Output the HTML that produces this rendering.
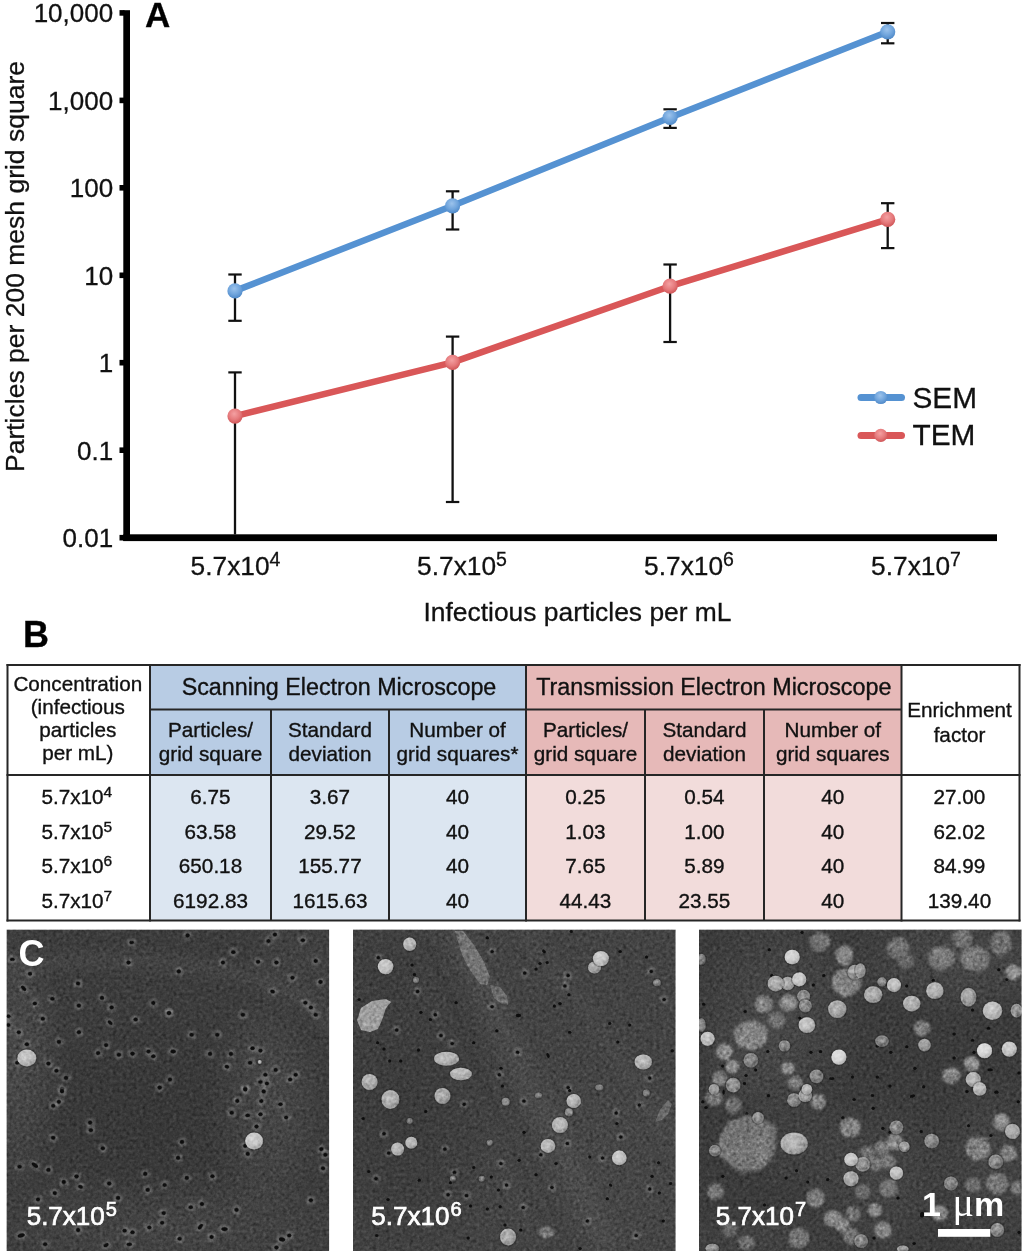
<!DOCTYPE html>
<html><head><meta charset="utf-8"><title>Figure</title>
<style>
html,body{margin:0;padding:0;background:#fff;}
body{width:1024px;height:1256px;overflow:hidden;position:relative;}
svg{position:absolute;left:0;top:0;}
#chart text{stroke:#111;stroke-width:0.3px;}
#table text{stroke:#111;stroke-width:0.35px;}
</style></head><body>
<svg width="1024" height="1256" viewBox="0 0 1024 1256" font-family="Liberation Sans, Arial, sans-serif">
<g id="chart">
<defs>
<radialGradient id="gb" cx="0.45" cy="0.35" r="0.65"><stop offset="0" stop-color="#9cc3ec"/><stop offset="0.6" stop-color="#6fa4dc"/><stop offset="1" stop-color="#4f89c8"/></radialGradient>
<radialGradient id="gr" cx="0.45" cy="0.35" r="0.65"><stop offset="0" stop-color="#f4a0a2"/><stop offset="0.6" stop-color="#e5797b"/><stop offset="1" stop-color="#cf5557"/></radialGradient>
</defs>
<rect x="123.3" y="10.2" width="6.7" height="530.8" fill="#000"/>
<rect x="123.3" y="534.3" width="873.7" height="6.8" fill="#000"/>
<rect x="119.5" y="10.1" width="5" height="5.6" fill="#000"/>
<rect x="119.5" y="97.6" width="5" height="5.6" fill="#000"/>
<rect x="119.5" y="185.0" width="5" height="5.6" fill="#000"/>
<rect x="119.5" y="272.5" width="5" height="5.6" fill="#000"/>
<rect x="119.5" y="359.9" width="5" height="5.6" fill="#000"/>
<rect x="119.5" y="447.4" width="5" height="5.6" fill="#000"/>
<rect x="119.5" y="534.9" width="5" height="5.6" fill="#000"/>
<text x="113.2" y="22.2" text-anchor="end" font-size="26" fill="#111">10,000</text>
<text x="113.2" y="109.7" text-anchor="end" font-size="26" fill="#111">1,000</text>
<text x="113.2" y="197.1" text-anchor="end" font-size="26" fill="#111">100</text>
<text x="113.2" y="284.6" text-anchor="end" font-size="26" fill="#111">10</text>
<text x="113.2" y="372.0" text-anchor="end" font-size="26" fill="#111">1</text>
<text x="113.2" y="459.5" text-anchor="end" font-size="26" fill="#111">0.1</text>
<text x="113.2" y="547.0" text-anchor="end" font-size="26" fill="#111">0.01</text>
<text x="235.5" y="574.6" text-anchor="middle" font-size="26.3" fill="#111">5.7x10<tspan font-size="19.5" dy="-8.6">4</tspan></text>
<text x="462.0" y="574.6" text-anchor="middle" font-size="26.3" fill="#111">5.7x10<tspan font-size="19.5" dy="-8.6">5</tspan></text>
<text x="689.0" y="574.6" text-anchor="middle" font-size="26.3" fill="#111">5.7x10<tspan font-size="19.5" dy="-8.6">6</tspan></text>
<text x="916.0" y="574.6" text-anchor="middle" font-size="26.3" fill="#111">5.7x10<tspan font-size="19.5" dy="-8.6">7</tspan></text>
<text x="577.5" y="621" text-anchor="middle" font-size="26.4" fill="#111">Infectious particles per mL</text>
<text transform="translate(24,266.5) rotate(-90)" text-anchor="middle" font-size="26.5" fill="#111">Particles per 200 mesh grid square</text>
<text x="145" y="27" font-size="35" font-weight="bold" fill="#000">A</text>
<path d="M235.0,416.1 L452.6,362.4 L670.1,286.2 L887.7,219.4" fill="none" stroke="#d95758" stroke-width="6.5" stroke-linejoin="round" stroke-linecap="round"/>
<line x1="235.0" y1="372.4" x2="235.0" y2="534.5" stroke="#111" stroke-width="2.3"/>
<line x1="228.3" y1="372.4" x2="241.7" y2="372.4" stroke="#111" stroke-width="2.2"/>
<line x1="452.6" y1="336.6" x2="452.6" y2="502.0" stroke="#111" stroke-width="2.3"/>
<line x1="445.9" y1="336.6" x2="459.3" y2="336.6" stroke="#111" stroke-width="2.2"/>
<line x1="445.9" y1="502.0" x2="459.3" y2="502.0" stroke="#111" stroke-width="2.2"/>
<line x1="670.1" y1="264.5" x2="670.1" y2="342.0" stroke="#111" stroke-width="2.3"/>
<line x1="663.4" y1="264.5" x2="676.8" y2="264.5" stroke="#111" stroke-width="2.2"/>
<line x1="663.4" y1="342.0" x2="676.8" y2="342.0" stroke="#111" stroke-width="2.2"/>
<line x1="887.7" y1="203.2" x2="887.7" y2="248.1" stroke="#111" stroke-width="2.3"/>
<line x1="881.0" y1="203.2" x2="894.4" y2="203.2" stroke="#111" stroke-width="2.2"/>
<line x1="881.0" y1="248.1" x2="894.4" y2="248.1" stroke="#111" stroke-width="2.2"/>
<circle cx="235.0" cy="416.1" r="7.6" fill="url(#gr)"/>
<circle cx="452.6" cy="362.4" r="7.6" fill="url(#gr)"/>
<circle cx="670.1" cy="286.2" r="7.6" fill="url(#gr)"/>
<circle cx="887.7" cy="219.4" r="7.6" fill="url(#gr)"/>
<path d="M235.0,290.9 L452.6,205.8 L670.1,117.5 L887.7,31.8" fill="none" stroke="#5592d2" stroke-width="6.5" stroke-linejoin="round" stroke-linecap="round"/>
<line x1="235.0" y1="274.5" x2="235.0" y2="320.8" stroke="#111" stroke-width="2.3"/>
<line x1="228.3" y1="274.5" x2="241.7" y2="274.5" stroke="#111" stroke-width="2.2"/>
<line x1="228.3" y1="320.8" x2="241.7" y2="320.8" stroke="#111" stroke-width="2.2"/>
<line x1="452.6" y1="191.3" x2="452.6" y2="229.5" stroke="#111" stroke-width="2.3"/>
<line x1="445.9" y1="191.3" x2="459.3" y2="191.3" stroke="#111" stroke-width="2.2"/>
<line x1="445.9" y1="229.5" x2="459.3" y2="229.5" stroke="#111" stroke-width="2.2"/>
<line x1="670.1" y1="109.3" x2="670.1" y2="127.9" stroke="#111" stroke-width="2.3"/>
<line x1="663.4" y1="109.3" x2="676.8" y2="109.3" stroke="#111" stroke-width="2.2"/>
<line x1="663.4" y1="127.9" x2="676.8" y2="127.9" stroke="#111" stroke-width="2.2"/>
<line x1="887.7" y1="23.0" x2="887.7" y2="43.3" stroke="#111" stroke-width="2.3"/>
<line x1="881.0" y1="23.0" x2="894.4" y2="23.0" stroke="#111" stroke-width="2.2"/>
<line x1="881.0" y1="43.3" x2="894.4" y2="43.3" stroke="#111" stroke-width="2.2"/>
<circle cx="235.0" cy="290.9" r="7.6" fill="url(#gb)"/>
<circle cx="452.6" cy="205.8" r="7.6" fill="url(#gb)"/>
<circle cx="670.1" cy="117.5" r="7.6" fill="url(#gb)"/>
<circle cx="887.7" cy="31.8" r="7.6" fill="url(#gb)"/>
<line x1="861" y1="397.5" x2="901.5" y2="397.5" stroke="#5592d2" stroke-width="7" stroke-linecap="round"/>
<circle cx="880.8" cy="397.5" r="6.6" fill="url(#gb)"/>
<text x="912.5" y="407.5" font-size="29.8" fill="#111">SEM</text>
<line x1="861" y1="435.4" x2="901.5" y2="435.4" stroke="#d95758" stroke-width="7" stroke-linecap="round"/>
<circle cx="880.8" cy="435.4" r="6.6" fill="url(#gr)"/>
<text x="912.5" y="445.4" font-size="29.8" fill="#111">TEM</text>
</g>
<g id="table">
<text x="23" y="647" font-size="36" font-weight="bold" fill="#000">B</text>
<rect x="7.5" y="665" width="1012" height="255.5" fill="#fff"/>
<rect x="150" y="665" width="376" height="110" fill="#b8cce4"/>
<rect x="150" y="775" width="376" height="145.5" fill="#dce6f1"/>
<rect x="526" y="665" width="375.5" height="110" fill="#e6b9b8"/>
<rect x="526" y="775" width="375.5" height="145.5" fill="#f2dcdb"/>
<line x1="6.5" y1="665" x2="1020.5" y2="665" stroke="#262626" stroke-width="2"/>
<line x1="150" y1="709.5" x2="901.5" y2="709.5" stroke="#262626" stroke-width="2"/>
<line x1="6.5" y1="775" x2="1020.5" y2="775" stroke="#262626" stroke-width="2"/>
<line x1="6.5" y1="920.5" x2="1020.5" y2="920.5" stroke="#262626" stroke-width="2"/>
<line x1="7.5" y1="664" x2="7.5" y2="921.5" stroke="#262626" stroke-width="2"/>
<line x1="150" y1="664" x2="150" y2="921.5" stroke="#262626" stroke-width="2"/>
<line x1="271" y1="709.5" x2="271" y2="920.5" stroke="#262626" stroke-width="2"/>
<line x1="389" y1="709.5" x2="389" y2="920.5" stroke="#262626" stroke-width="2"/>
<line x1="526" y1="664" x2="526" y2="921.5" stroke="#262626" stroke-width="2"/>
<line x1="645" y1="709.5" x2="645" y2="920.5" stroke="#262626" stroke-width="2"/>
<line x1="764" y1="709.5" x2="764" y2="920.5" stroke="#262626" stroke-width="2"/>
<line x1="901.5" y1="664" x2="901.5" y2="921.5" stroke="#262626" stroke-width="2"/>
<line x1="1019.5" y1="664" x2="1019.5" y2="921.5" stroke="#262626" stroke-width="2"/>
<text x="77.8" y="690.7" text-anchor="middle" font-size="20.7" fill="#111">Concentration</text>
<text x="77.8" y="713.9" text-anchor="middle" font-size="20.7" fill="#111">(infectious</text>
<text x="77.8" y="737.1" text-anchor="middle" font-size="20.7" fill="#111">particles</text>
<text x="77.8" y="760.3" text-anchor="middle" font-size="20.7" fill="#111">per mL)</text>
<text x="339.0" y="695.2" text-anchor="middle" font-size="23.3" fill="#111">Scanning Electron Microscope</text>
<text x="713.8" y="695.2" text-anchor="middle" font-size="23.3" fill="#111">Transmission Electron Microscope</text>
<text x="210.5" y="736.6" text-anchor="middle" font-size="20.7" fill="#111">Particles/</text>
<text x="210.5" y="760.8" text-anchor="middle" font-size="20.7" fill="#111">grid square</text>
<text x="330.0" y="736.6" text-anchor="middle" font-size="20.7" fill="#111">Standard</text>
<text x="330.0" y="760.8" text-anchor="middle" font-size="20.7" fill="#111">deviation</text>
<text x="457.5" y="736.6" text-anchor="middle" font-size="20.7" fill="#111">Number of</text>
<text x="457.5" y="760.8" text-anchor="middle" font-size="20.7" fill="#111">grid squares*</text>
<text x="585.5" y="736.6" text-anchor="middle" font-size="20.7" fill="#111">Particles/</text>
<text x="585.5" y="760.8" text-anchor="middle" font-size="20.7" fill="#111">grid square</text>
<text x="704.5" y="736.6" text-anchor="middle" font-size="20.7" fill="#111">Standard</text>
<text x="704.5" y="760.8" text-anchor="middle" font-size="20.7" fill="#111">deviation</text>
<text x="832.8" y="736.6" text-anchor="middle" font-size="20.7" fill="#111">Number of</text>
<text x="832.8" y="760.8" text-anchor="middle" font-size="20.7" fill="#111">grid squares</text>
<text x="959.5" y="716.9" text-anchor="middle" font-size="20.7" fill="#111">Enrichment</text>
<text x="959.5" y="741.5" text-anchor="middle" font-size="20.7" fill="#111">factor</text>
<text x="76.8" y="804.3" text-anchor="middle" font-size="20.7" fill="#111">5.7x10<tspan font-size="15.5" dy="-7.5">4</tspan></text>
<text x="210.5" y="804.3" text-anchor="middle" font-size="20.7" fill="#111">6.75</text>
<text x="330.0" y="804.3" text-anchor="middle" font-size="20.7" fill="#111">3.67</text>
<text x="457.5" y="804.3" text-anchor="middle" font-size="20.7" fill="#111">40</text>
<text x="585.5" y="804.3" text-anchor="middle" font-size="20.7" fill="#111">0.25</text>
<text x="704.5" y="804.3" text-anchor="middle" font-size="20.7" fill="#111">0.54</text>
<text x="832.8" y="804.3" text-anchor="middle" font-size="20.7" fill="#111">40</text>
<text x="959.5" y="804.3" text-anchor="middle" font-size="20.7" fill="#111">27.00</text>
<text x="76.8" y="839" text-anchor="middle" font-size="20.7" fill="#111">5.7x10<tspan font-size="15.5" dy="-7.5">5</tspan></text>
<text x="210.5" y="839.0" text-anchor="middle" font-size="20.7" fill="#111">63.58</text>
<text x="330.0" y="839.0" text-anchor="middle" font-size="20.7" fill="#111">29.52</text>
<text x="457.5" y="839.0" text-anchor="middle" font-size="20.7" fill="#111">40</text>
<text x="585.5" y="839.0" text-anchor="middle" font-size="20.7" fill="#111">1.03</text>
<text x="704.5" y="839.0" text-anchor="middle" font-size="20.7" fill="#111">1.00</text>
<text x="832.8" y="839.0" text-anchor="middle" font-size="20.7" fill="#111">40</text>
<text x="959.5" y="839.0" text-anchor="middle" font-size="20.7" fill="#111">62.02</text>
<text x="76.8" y="873.1" text-anchor="middle" font-size="20.7" fill="#111">5.7x10<tspan font-size="15.5" dy="-7.5">6</tspan></text>
<text x="210.5" y="873.1" text-anchor="middle" font-size="20.7" fill="#111">650.18</text>
<text x="330.0" y="873.1" text-anchor="middle" font-size="20.7" fill="#111">155.77</text>
<text x="457.5" y="873.1" text-anchor="middle" font-size="20.7" fill="#111">40</text>
<text x="585.5" y="873.1" text-anchor="middle" font-size="20.7" fill="#111">7.65</text>
<text x="704.5" y="873.1" text-anchor="middle" font-size="20.7" fill="#111">5.89</text>
<text x="832.8" y="873.1" text-anchor="middle" font-size="20.7" fill="#111">40</text>
<text x="959.5" y="873.1" text-anchor="middle" font-size="20.7" fill="#111">84.99</text>
<text x="76.8" y="908" text-anchor="middle" font-size="20.7" fill="#111">5.7x10<tspan font-size="15.5" dy="-7.5">7</tspan></text>
<text x="210.5" y="908.0" text-anchor="middle" font-size="20.7" fill="#111">6192.83</text>
<text x="330.0" y="908.0" text-anchor="middle" font-size="20.7" fill="#111">1615.63</text>
<text x="457.5" y="908.0" text-anchor="middle" font-size="20.7" fill="#111">40</text>
<text x="585.5" y="908.0" text-anchor="middle" font-size="20.7" fill="#111">44.43</text>
<text x="704.5" y="908.0" text-anchor="middle" font-size="20.7" fill="#111">23.55</text>
<text x="832.8" y="908.0" text-anchor="middle" font-size="20.7" fill="#111">40</text>
<text x="959.5" y="908.0" text-anchor="middle" font-size="20.7" fill="#111">139.40</text>
</g>
<g id="images">
<defs>
<clipPath id="cp0"><rect x="6.5" y="929.5" width="322.7" height="321.5"/></clipPath>
<clipPath id="cp1"><rect x="353" y="929.5" width="322.7" height="321.5"/></clipPath>
<clipPath id="cp2"><rect x="699" y="929.5" width="322.7" height="321.5"/></clipPath>
<filter id="bl30" x="-50%" y="-50%" width="200%" height="200%"><feGaussianBlur stdDeviation="28"/></filter>
<filter id="bl1" x="-30%" y="-30%" width="160%" height="160%"><feGaussianBlur stdDeviation="0.55"/></filter>
<filter id="bl8" x="-20%" y="-20%" width="140%" height="140%"><feGaussianBlur stdDeviation="7"/></filter>
<filter id="bl12" x="-30%" y="-30%" width="160%" height="160%"><feGaussianBlur stdDeviation="1.1"/></filter>
<filter id="bl05" x="-50%" y="-50%" width="200%" height="200%"><feGaussianBlur stdDeviation="0.55"/></filter>
<filter id="noise" x="0" y="0" width="100%" height="100%" color-interpolation-filters="sRGB"><feTurbulence type="fractalNoise" baseFrequency="0.3" numOctaves="2" seed="7"/><feGaussianBlur stdDeviation="0.45"/><feColorMatrix type="matrix" values="0.55 0.55 0.55 0 -0.325  0.55 0.55 0.55 0 -0.325  0.55 0.55 0.55 0 -0.325  0 0 0 0 1"/></filter>
<radialGradient id="phl" cx="0.42" cy="0.38" r="0.6"><stop offset="0" stop-color="#fff" stop-opacity="0.28"/><stop offset="0.6" stop-color="#fff" stop-opacity="0.08"/><stop offset="1" stop-color="#000" stop-opacity="0.18"/></radialGradient>
<radialGradient id="halo"><stop offset="0.25" stop-color="#9a9a9a" stop-opacity="0.0"/><stop offset="0.5" stop-color="#a0a0a0" stop-opacity="0.32"/><stop offset="1" stop-color="#a0a0a0" stop-opacity="0"/></radialGradient>
</defs>
<g clip-path="url(#cp0)">
<rect x="6.5" y="929.5" width="322.7" height="321.5" fill="#3c3c3c"/>
<radialGradient id="tg0_0"><stop offset="0" stop-color="#5a5a5a" stop-opacity="0.45"/><stop offset="0.55" stop-color="#5a5a5a" stop-opacity="0.27"/><stop offset="1" stop-color="#5a5a5a" stop-opacity="0"/></radialGradient>
<ellipse cx="18" cy="1060" rx="45.0" ry="135.0" fill="url(#tg0_0)"/>
<radialGradient id="tg0_1"><stop offset="0" stop-color="#5a5a5a" stop-opacity="0.4"/><stop offset="0.55" stop-color="#5a5a5a" stop-opacity="0.24"/><stop offset="1" stop-color="#5a5a5a" stop-opacity="0"/></radialGradient>
<ellipse cx="265" cy="1105" rx="60.0" ry="112.5" fill="url(#tg0_1)"/>
<radialGradient id="tg0_2"><stop offset="0" stop-color="#4c4c4c" stop-opacity="0.5"/><stop offset="0.55" stop-color="#4c4c4c" stop-opacity="0.30"/><stop offset="1" stop-color="#4c4c4c" stop-opacity="0"/></radialGradient>
<ellipse cx="170" cy="1225" rx="225.0" ry="52.5" fill="url(#tg0_2)"/>
<radialGradient id="tg0_3"><stop offset="0" stop-color="#4a4a4a" stop-opacity="0.4"/><stop offset="0.55" stop-color="#4a4a4a" stop-opacity="0.24"/><stop offset="1" stop-color="#4a4a4a" stop-opacity="0"/></radialGradient>
<ellipse cx="300" cy="960" rx="60.0" ry="60.0" fill="url(#tg0_3)"/>
<radialGradient id="tg0_4"><stop offset="0" stop-color="#2c2c2c" stop-opacity="0.3"/><stop offset="0.55" stop-color="#2c2c2c" stop-opacity="0.18"/><stop offset="1" stop-color="#2c2c2c" stop-opacity="0"/></radialGradient>
<ellipse cx="150" cy="1115" rx="142.5" ry="112.5" fill="url(#tg0_4)"/>
<g filter="url(#bl8)">
<path d="M 6,968 C 80,955 170,958 240,975 S 320,1010 330,1030" fill="none" stroke="#5a5a5a" stroke-width="14" stroke-opacity="0.3"/>
</g>
<g filter="url(#bl05)">
<ellipse cx="131.7" cy="942.6" rx="6.5" ry="5.5" fill="url(#halo)" transform="rotate(0 131.7 942.6)"/>
<ellipse cx="131.7" cy="942.6" rx="2.2" ry="1.4" fill="#0a0a0a" transform="rotate(0 131.7 942.6)"/>
<ellipse cx="12.4" cy="959.4" rx="6.5" ry="5.5" fill="url(#halo)" transform="rotate(0 12.4 959.4)"/>
<ellipse cx="12.4" cy="959.4" rx="2.2" ry="1.4" fill="#0a0a0a" transform="rotate(0 12.4 959.4)"/>
<ellipse cx="128.5" cy="962.6" rx="6.2" ry="6.0" fill="url(#halo)" transform="rotate(0 128.5 962.6)"/>
<ellipse cx="128.5" cy="962.6" rx="2.0" ry="1.8" fill="#0a0a0a" transform="rotate(0 128.5 962.6)"/>
<ellipse cx="30" cy="973.8" rx="6.2" ry="6.0" fill="url(#halo)" transform="rotate(0 30 973.8)"/>
<ellipse cx="30" cy="973.8" rx="2.0" ry="1.8" fill="#0a0a0a" transform="rotate(0 30 973.8)"/>
<ellipse cx="23.6" cy="988.3" rx="7.5" ry="5.8" fill="url(#halo)" transform="rotate(45 23.6 988.3)"/>
<ellipse cx="23.6" cy="988.3" rx="3.1" ry="1.6" fill="#0a0a0a" transform="rotate(45 23.6 988.3)"/>
<ellipse cx="78" cy="983.5" rx="6.2" ry="6.0" fill="url(#halo)" transform="rotate(0 78 983.5)"/>
<ellipse cx="78" cy="983.5" rx="2.0" ry="1.8" fill="#0a0a0a" transform="rotate(0 78 983.5)"/>
<ellipse cx="52.4" cy="998.7" rx="6.2" ry="6.0" fill="url(#halo)" transform="rotate(0 52.4 998.7)"/>
<ellipse cx="52.4" cy="998.7" rx="2.0" ry="1.8" fill="#0a0a0a" transform="rotate(0 52.4 998.7)"/>
<ellipse cx="102" cy="997.9" rx="6.2" ry="6.0" fill="url(#halo)" transform="rotate(0 102 997.9)"/>
<ellipse cx="102" cy="997.9" rx="2.0" ry="1.8" fill="#0a0a0a" transform="rotate(0 102 997.9)"/>
<ellipse cx="34.8" cy="1003.5" rx="6.2" ry="6.0" fill="url(#halo)" transform="rotate(0 34.8 1003.5)"/>
<ellipse cx="34.8" cy="1003.5" rx="2.0" ry="1.8" fill="#0a0a0a" transform="rotate(0 34.8 1003.5)"/>
<ellipse cx="78.9" cy="1005.6" rx="6.2" ry="6.0" fill="url(#halo)" transform="rotate(0 78.9 1005.6)"/>
<ellipse cx="78.9" cy="1005.6" rx="2.0" ry="1.8" fill="#0a0a0a" transform="rotate(0 78.9 1005.6)"/>
<ellipse cx="111.7" cy="1007.5" rx="6.2" ry="6.0" fill="url(#halo)" transform="rotate(0 111.7 1007.5)"/>
<ellipse cx="111.7" cy="1007.5" rx="2.0" ry="1.8" fill="#0a0a0a" transform="rotate(0 111.7 1007.5)"/>
<ellipse cx="153.3" cy="1003" rx="6.2" ry="6.0" fill="url(#halo)" transform="rotate(0 153.3 1003)"/>
<ellipse cx="153.3" cy="1003" rx="2.0" ry="1.8" fill="#0a0a0a" transform="rotate(0 153.3 1003)"/>
<ellipse cx="8.4" cy="1016.3" rx="6.2" ry="6.0" fill="url(#halo)" transform="rotate(0 8.4 1016.3)"/>
<ellipse cx="8.4" cy="1016.3" rx="2.0" ry="1.8" fill="#0a0a0a" transform="rotate(0 8.4 1016.3)"/>
<ellipse cx="42.8" cy="1018.7" rx="6.2" ry="6.0" fill="url(#halo)" transform="rotate(0 42.8 1018.7)"/>
<ellipse cx="42.8" cy="1018.7" rx="2.0" ry="1.8" fill="#0a0a0a" transform="rotate(0 42.8 1018.7)"/>
<ellipse cx="110.1" cy="1022.7" rx="7.0" ry="5.5" fill="url(#halo)" transform="rotate(40 110.1 1022.7)"/>
<ellipse cx="110.1" cy="1022.7" rx="2.7" ry="1.4" fill="#0a0a0a" transform="rotate(40 110.1 1022.7)"/>
<ellipse cx="135.7" cy="1019.5" rx="6.2" ry="6.0" fill="url(#halo)" transform="rotate(0 135.7 1019.5)"/>
<ellipse cx="135.7" cy="1019.5" rx="2.0" ry="1.8" fill="#0a0a0a" transform="rotate(0 135.7 1019.5)"/>
<ellipse cx="168.5" cy="1013" rx="6.2" ry="6.0" fill="url(#halo)" transform="rotate(0 168.5 1013)"/>
<ellipse cx="168.5" cy="1013" rx="2.0" ry="1.8" fill="#0a0a0a" transform="rotate(0 168.5 1013)"/>
<ellipse cx="8.4" cy="1025.1" rx="6.2" ry="6.0" fill="url(#halo)" transform="rotate(0 8.4 1025.1)"/>
<ellipse cx="8.4" cy="1025.1" rx="2.0" ry="1.8" fill="#0a0a0a" transform="rotate(0 8.4 1025.1)"/>
<ellipse cx="18.8" cy="1032.3" rx="6.2" ry="6.0" fill="url(#halo)" transform="rotate(0 18.8 1032.3)"/>
<ellipse cx="18.8" cy="1032.3" rx="2.0" ry="1.8" fill="#0a0a0a" transform="rotate(0 18.8 1032.3)"/>
<ellipse cx="78.9" cy="1032.3" rx="6.2" ry="6.0" fill="url(#halo)" transform="rotate(0 78.9 1032.3)"/>
<ellipse cx="78.9" cy="1032.3" rx="2.0" ry="1.8" fill="#0a0a0a" transform="rotate(0 78.9 1032.3)"/>
<ellipse cx="58.9" cy="1041.9" rx="6.2" ry="6.0" fill="url(#halo)" transform="rotate(0 58.9 1041.9)"/>
<ellipse cx="58.9" cy="1041.9" rx="2.0" ry="1.8" fill="#0a0a0a" transform="rotate(0 58.9 1041.9)"/>
<ellipse cx="26.8" cy="1044.3" rx="6.2" ry="6.0" fill="url(#halo)" transform="rotate(0 26.8 1044.3)"/>
<ellipse cx="26.8" cy="1044.3" rx="2.0" ry="1.8" fill="#0a0a0a" transform="rotate(0 26.8 1044.3)"/>
<ellipse cx="106.1" cy="1045.1" rx="6.2" ry="6.0" fill="url(#halo)" transform="rotate(0 106.1 1045.1)"/>
<ellipse cx="106.1" cy="1045.1" rx="2.0" ry="1.8" fill="#0a0a0a" transform="rotate(0 106.1 1045.1)"/>
<ellipse cx="98.1" cy="1053.1" rx="6.2" ry="6.0" fill="url(#halo)" transform="rotate(0 98.1 1053.1)"/>
<ellipse cx="98.1" cy="1053.1" rx="2.0" ry="1.8" fill="#0a0a0a" transform="rotate(0 98.1 1053.1)"/>
<ellipse cx="118.9" cy="1054.7" rx="6.2" ry="6.0" fill="url(#halo)" transform="rotate(0 118.9 1054.7)"/>
<ellipse cx="118.9" cy="1054.7" rx="2.0" ry="1.8" fill="#0a0a0a" transform="rotate(0 118.9 1054.7)"/>
<ellipse cx="132.5" cy="1053.6" rx="6.2" ry="6.0" fill="url(#halo)" transform="rotate(0 132.5 1053.6)"/>
<ellipse cx="132.5" cy="1053.6" rx="2.0" ry="1.8" fill="#0a0a0a" transform="rotate(0 132.5 1053.6)"/>
<ellipse cx="148.5" cy="1051.5" rx="6.2" ry="6.0" fill="url(#halo)" transform="rotate(0 148.5 1051.5)"/>
<ellipse cx="148.5" cy="1051.5" rx="2.0" ry="1.8" fill="#0a0a0a" transform="rotate(0 148.5 1051.5)"/>
<ellipse cx="153.3" cy="1056.3" rx="6.2" ry="6.0" fill="url(#halo)" transform="rotate(0 153.3 1056.3)"/>
<ellipse cx="153.3" cy="1056.3" rx="2.0" ry="1.8" fill="#0a0a0a" transform="rotate(0 153.3 1056.3)"/>
<ellipse cx="48.4" cy="1063.5" rx="6.2" ry="6.0" fill="url(#halo)" transform="rotate(0 48.4 1063.5)"/>
<ellipse cx="48.4" cy="1063.5" rx="2.0" ry="1.8" fill="#0a0a0a" transform="rotate(0 48.4 1063.5)"/>
<ellipse cx="17.2" cy="1062.7" rx="6.2" ry="6.0" fill="url(#halo)" transform="rotate(0 17.2 1062.7)"/>
<ellipse cx="17.2" cy="1062.7" rx="2.0" ry="1.8" fill="#0a0a0a" transform="rotate(0 17.2 1062.7)"/>
<ellipse cx="56.4" cy="1070.7" rx="6.2" ry="6.0" fill="url(#halo)" transform="rotate(0 56.4 1070.7)"/>
<ellipse cx="56.4" cy="1070.7" rx="2.0" ry="1.8" fill="#0a0a0a" transform="rotate(0 56.4 1070.7)"/>
<ellipse cx="66" cy="1077.9" rx="6.2" ry="6.0" fill="url(#halo)" transform="rotate(0 66 1077.9)"/>
<ellipse cx="66" cy="1077.9" rx="2.0" ry="1.8" fill="#0a0a0a" transform="rotate(0 66 1077.9)"/>
<ellipse cx="159.7" cy="1087.6" rx="6.2" ry="6.0" fill="url(#halo)" transform="rotate(0 159.7 1087.6)"/>
<ellipse cx="159.7" cy="1087.6" rx="2.0" ry="1.8" fill="#0a0a0a" transform="rotate(0 159.7 1087.6)"/>
<ellipse cx="62" cy="1089" rx="6.2" ry="6.0" fill="url(#halo)" transform="rotate(0 62 1089)"/>
<ellipse cx="62" cy="1089" rx="2.0" ry="1.8" fill="#0a0a0a" transform="rotate(0 62 1089)"/>
<ellipse cx="187.6" cy="935.4" rx="6.2" ry="6.0" fill="url(#halo)" transform="rotate(0 187.6 935.4)"/>
<ellipse cx="187.6" cy="935.4" rx="2.0" ry="1.8" fill="#0a0a0a" transform="rotate(0 187.6 935.4)"/>
<ellipse cx="274.9" cy="934.6" rx="6.2" ry="6.0" fill="url(#halo)" transform="rotate(0 274.9 934.6)"/>
<ellipse cx="274.9" cy="934.6" rx="2.0" ry="1.8" fill="#0a0a0a" transform="rotate(0 274.9 934.6)"/>
<ellipse cx="268.5" cy="941" rx="6.2" ry="6.0" fill="url(#halo)" transform="rotate(0 268.5 941)"/>
<ellipse cx="268.5" cy="941" rx="2.0" ry="1.8" fill="#0a0a0a" transform="rotate(0 268.5 941)"/>
<ellipse cx="302.9" cy="940.2" rx="6.2" ry="6.0" fill="url(#halo)" transform="rotate(0 302.9 940.2)"/>
<ellipse cx="302.9" cy="940.2" rx="2.0" ry="1.8" fill="#0a0a0a" transform="rotate(0 302.9 940.2)"/>
<ellipse cx="233.3" cy="952.2" rx="6.2" ry="6.0" fill="url(#halo)" transform="rotate(0 233.3 952.2)"/>
<ellipse cx="233.3" cy="952.2" rx="2.0" ry="1.8" fill="#0a0a0a" transform="rotate(0 233.3 952.2)"/>
<ellipse cx="222.9" cy="962.6" rx="6.2" ry="6.0" fill="url(#halo)" transform="rotate(0 222.9 962.6)"/>
<ellipse cx="222.9" cy="962.6" rx="2.0" ry="1.8" fill="#0a0a0a" transform="rotate(0 222.9 962.6)"/>
<ellipse cx="258.1" cy="961.8" rx="6.2" ry="6.0" fill="url(#halo)" transform="rotate(0 258.1 961.8)"/>
<ellipse cx="258.1" cy="961.8" rx="2.0" ry="1.8" fill="#0a0a0a" transform="rotate(0 258.1 961.8)"/>
<ellipse cx="276.5" cy="962.6" rx="6.2" ry="6.0" fill="url(#halo)" transform="rotate(0 276.5 962.6)"/>
<ellipse cx="276.5" cy="962.6" rx="2.0" ry="1.8" fill="#0a0a0a" transform="rotate(0 276.5 962.6)"/>
<ellipse cx="315.7" cy="961" rx="6.2" ry="6.0" fill="url(#halo)" transform="rotate(0 315.7 961)"/>
<ellipse cx="315.7" cy="961" rx="2.0" ry="1.8" fill="#0a0a0a" transform="rotate(0 315.7 961)"/>
<ellipse cx="178.8" cy="971.4" rx="6.2" ry="6.0" fill="url(#halo)" transform="rotate(0 178.8 971.4)"/>
<ellipse cx="178.8" cy="971.4" rx="2.0" ry="1.8" fill="#0a0a0a" transform="rotate(0 178.8 971.4)"/>
<ellipse cx="292.5" cy="977.8" rx="6.2" ry="6.0" fill="url(#halo)" transform="rotate(0 292.5 977.8)"/>
<ellipse cx="292.5" cy="977.8" rx="2.0" ry="1.8" fill="#0a0a0a" transform="rotate(0 292.5 977.8)"/>
<ellipse cx="320.5" cy="981.9" rx="6.2" ry="6.0" fill="url(#halo)" transform="rotate(0 320.5 981.9)"/>
<ellipse cx="320.5" cy="981.9" rx="2.0" ry="1.8" fill="#0a0a0a" transform="rotate(0 320.5 981.9)"/>
<ellipse cx="272.5" cy="991.5" rx="6.5" ry="5.8" fill="url(#halo)" transform="rotate(10 272.5 991.5)"/>
<ellipse cx="272.5" cy="991.5" rx="2.2" ry="1.6" fill="#0a0a0a" transform="rotate(10 272.5 991.5)"/>
<ellipse cx="305.3" cy="1002.7" rx="6.2" ry="6.0" fill="url(#halo)" transform="rotate(0 305.3 1002.7)"/>
<ellipse cx="305.3" cy="1002.7" rx="2.0" ry="1.8" fill="#0a0a0a" transform="rotate(0 305.3 1002.7)"/>
<ellipse cx="310.9" cy="1007.5" rx="6.2" ry="6.0" fill="url(#halo)" transform="rotate(0 310.9 1007.5)"/>
<ellipse cx="310.9" cy="1007.5" rx="2.0" ry="1.8" fill="#0a0a0a" transform="rotate(0 310.9 1007.5)"/>
<ellipse cx="315.7" cy="1014.7" rx="6.2" ry="6.0" fill="url(#halo)" transform="rotate(0 315.7 1014.7)"/>
<ellipse cx="315.7" cy="1014.7" rx="2.0" ry="1.8" fill="#0a0a0a" transform="rotate(0 315.7 1014.7)"/>
<ellipse cx="169.2" cy="1013.1" rx="6.2" ry="6.0" fill="url(#halo)" transform="rotate(0 169.2 1013.1)"/>
<ellipse cx="169.2" cy="1013.1" rx="2.0" ry="1.8" fill="#0a0a0a" transform="rotate(0 169.2 1013.1)"/>
<ellipse cx="242.9" cy="1014.7" rx="6.2" ry="6.0" fill="url(#halo)" transform="rotate(0 242.9 1014.7)"/>
<ellipse cx="242.9" cy="1014.7" rx="2.0" ry="1.8" fill="#0a0a0a" transform="rotate(0 242.9 1014.7)"/>
<ellipse cx="191.6" cy="1034.7" rx="6.2" ry="6.0" fill="url(#halo)" transform="rotate(0 191.6 1034.7)"/>
<ellipse cx="191.6" cy="1034.7" rx="2.0" ry="1.8" fill="#0a0a0a" transform="rotate(0 191.6 1034.7)"/>
<ellipse cx="217.2" cy="1034.7" rx="6.2" ry="6.0" fill="url(#halo)" transform="rotate(0 217.2 1034.7)"/>
<ellipse cx="217.2" cy="1034.7" rx="2.0" ry="1.8" fill="#0a0a0a" transform="rotate(0 217.2 1034.7)"/>
<ellipse cx="173.2" cy="1051.5" rx="7.0" ry="6.0" fill="url(#halo)" transform="rotate(0 173.2 1051.5)"/>
<ellipse cx="173.2" cy="1051.5" rx="2.7" ry="1.8" fill="#0a0a0a" transform="rotate(0 173.2 1051.5)"/>
<ellipse cx="210" cy="1053.9" rx="6.2" ry="6.0" fill="url(#halo)" transform="rotate(0 210 1053.9)"/>
<ellipse cx="210" cy="1053.9" rx="2.0" ry="1.8" fill="#0a0a0a" transform="rotate(0 210 1053.9)"/>
<ellipse cx="230.9" cy="1053.9" rx="6.2" ry="6.0" fill="url(#halo)" transform="rotate(0 230.9 1053.9)"/>
<ellipse cx="230.9" cy="1053.9" rx="2.0" ry="1.8" fill="#0a0a0a" transform="rotate(0 230.9 1053.9)"/>
<ellipse cx="252.5" cy="1048.3" rx="6.2" ry="6.0" fill="url(#halo)" transform="rotate(0 252.5 1048.3)"/>
<ellipse cx="252.5" cy="1048.3" rx="2.0" ry="1.8" fill="#0a0a0a" transform="rotate(0 252.5 1048.3)"/>
<ellipse cx="260.5" cy="1050.7" rx="6.2" ry="6.0" fill="url(#halo)" transform="rotate(0 260.5 1050.7)"/>
<ellipse cx="260.5" cy="1050.7" rx="2.0" ry="1.8" fill="#0a0a0a" transform="rotate(0 260.5 1050.7)"/>
<ellipse cx="250.1" cy="1062.7" rx="6.2" ry="6.0" fill="url(#halo)" transform="rotate(0 250.1 1062.7)"/>
<ellipse cx="250.1" cy="1062.7" rx="2.0" ry="1.8" fill="#0a0a0a" transform="rotate(0 250.1 1062.7)"/>
<ellipse cx="226.9" cy="1066.7" rx="6.5" ry="5.8" fill="url(#halo)" transform="rotate(15 226.9 1066.7)"/>
<ellipse cx="226.9" cy="1066.7" rx="2.2" ry="1.6" fill="#0a0a0a" transform="rotate(15 226.9 1066.7)"/>
<ellipse cx="275.7" cy="1069.9" rx="6.2" ry="6.0" fill="url(#halo)" transform="rotate(0 275.7 1069.9)"/>
<ellipse cx="275.7" cy="1069.9" rx="2.0" ry="1.8" fill="#0a0a0a" transform="rotate(0 275.7 1069.9)"/>
<ellipse cx="265.3" cy="1074.7" rx="6.2" ry="6.0" fill="url(#halo)" transform="rotate(0 265.3 1074.7)"/>
<ellipse cx="265.3" cy="1074.7" rx="2.0" ry="1.8" fill="#0a0a0a" transform="rotate(0 265.3 1074.7)"/>
<ellipse cx="295.7" cy="1074.7" rx="6.2" ry="6.0" fill="url(#halo)" transform="rotate(0 295.7 1074.7)"/>
<ellipse cx="295.7" cy="1074.7" rx="2.0" ry="1.8" fill="#0a0a0a" transform="rotate(0 295.7 1074.7)"/>
<ellipse cx="290.1" cy="1079.5" rx="6.2" ry="6.0" fill="url(#halo)" transform="rotate(0 290.1 1079.5)"/>
<ellipse cx="290.1" cy="1079.5" rx="2.0" ry="1.8" fill="#0a0a0a" transform="rotate(0 290.1 1079.5)"/>
<ellipse cx="170" cy="1079.5" rx="6.2" ry="6.0" fill="url(#halo)" transform="rotate(0 170 1079.5)"/>
<ellipse cx="170" cy="1079.5" rx="2.0" ry="1.8" fill="#0a0a0a" transform="rotate(0 170 1079.5)"/>
<ellipse cx="260.5" cy="1082" rx="6.5" ry="5.8" fill="url(#halo)" transform="rotate(0 260.5 1082)"/>
<ellipse cx="260.5" cy="1082" rx="2.2" ry="1.6" fill="#0a0a0a" transform="rotate(0 260.5 1082)"/>
<ellipse cx="266.9" cy="1083.5" rx="6.2" ry="6.0" fill="url(#halo)" transform="rotate(0 266.9 1083.5)"/>
<ellipse cx="266.9" cy="1083.5" rx="2.0" ry="1.8" fill="#0a0a0a" transform="rotate(0 266.9 1083.5)"/>
<ellipse cx="245.3" cy="1088.4" rx="6.2" ry="6.0" fill="url(#halo)" transform="rotate(0 245.3 1088.4)"/>
<ellipse cx="245.3" cy="1088.4" rx="2.0" ry="1.8" fill="#0a0a0a" transform="rotate(0 245.3 1088.4)"/>
<ellipse cx="62" cy="1091.4" rx="6.2" ry="6.0" fill="url(#halo)" transform="rotate(0 62 1091.4)"/>
<ellipse cx="62" cy="1091.4" rx="2.0" ry="1.8" fill="#0a0a0a" transform="rotate(0 62 1091.4)"/>
<ellipse cx="58.9" cy="1101.8" rx="6.2" ry="6.0" fill="url(#halo)" transform="rotate(0 58.9 1101.8)"/>
<ellipse cx="58.9" cy="1101.8" rx="2.0" ry="1.8" fill="#0a0a0a" transform="rotate(0 58.9 1101.8)"/>
<ellipse cx="53.2" cy="1105.8" rx="6.2" ry="6.0" fill="url(#halo)" transform="rotate(0 53.2 1105.8)"/>
<ellipse cx="53.2" cy="1105.8" rx="2.0" ry="1.8" fill="#0a0a0a" transform="rotate(0 53.2 1105.8)"/>
<ellipse cx="90.1" cy="1122.6" rx="6.2" ry="6.0" fill="url(#halo)" transform="rotate(0 90.1 1122.6)"/>
<ellipse cx="90.1" cy="1122.6" rx="2.0" ry="1.8" fill="#0a0a0a" transform="rotate(0 90.1 1122.6)"/>
<ellipse cx="90.9" cy="1130.3" rx="6.2" ry="6.0" fill="url(#halo)" transform="rotate(0 90.9 1130.3)"/>
<ellipse cx="90.9" cy="1130.3" rx="2.0" ry="1.8" fill="#0a0a0a" transform="rotate(0 90.9 1130.3)"/>
<ellipse cx="53.2" cy="1137.8" rx="6.2" ry="6.0" fill="url(#halo)" transform="rotate(0 53.2 1137.8)"/>
<ellipse cx="53.2" cy="1137.8" rx="2.0" ry="1.8" fill="#0a0a0a" transform="rotate(0 53.2 1137.8)"/>
<ellipse cx="102.9" cy="1148.3" rx="6.2" ry="6.0" fill="url(#halo)" transform="rotate(0 102.9 1148.3)"/>
<ellipse cx="102.9" cy="1148.3" rx="2.0" ry="1.8" fill="#0a0a0a" transform="rotate(0 102.9 1148.3)"/>
<ellipse cx="19.6" cy="1166.7" rx="6.2" ry="6.0" fill="url(#halo)" transform="rotate(0 19.6 1166.7)"/>
<ellipse cx="19.6" cy="1166.7" rx="2.0" ry="1.8" fill="#0a0a0a" transform="rotate(0 19.6 1166.7)"/>
<ellipse cx="34.8" cy="1165.1" rx="8.0" ry="6.0" fill="url(#halo)" transform="rotate(35 34.8 1165.1)"/>
<ellipse cx="34.8" cy="1165.1" rx="3.6" ry="1.8" fill="#0a0a0a" transform="rotate(35 34.8 1165.1)"/>
<ellipse cx="48.4" cy="1169.9" rx="6.2" ry="6.0" fill="url(#halo)" transform="rotate(0 48.4 1169.9)"/>
<ellipse cx="48.4" cy="1169.9" rx="2.0" ry="1.8" fill="#0a0a0a" transform="rotate(0 48.4 1169.9)"/>
<ellipse cx="76.5" cy="1176.3" rx="6.2" ry="6.0" fill="url(#halo)" transform="rotate(0 76.5 1176.3)"/>
<ellipse cx="76.5" cy="1176.3" rx="2.0" ry="1.8" fill="#0a0a0a" transform="rotate(0 76.5 1176.3)"/>
<ellipse cx="63.7" cy="1181.9" rx="6.2" ry="6.0" fill="url(#halo)" transform="rotate(0 63.7 1181.9)"/>
<ellipse cx="63.7" cy="1181.9" rx="2.0" ry="1.8" fill="#0a0a0a" transform="rotate(0 63.7 1181.9)"/>
<ellipse cx="80.5" cy="1186.7" rx="6.5" ry="5.8" fill="url(#halo)" transform="rotate(20 80.5 1186.7)"/>
<ellipse cx="80.5" cy="1186.7" rx="2.2" ry="1.6" fill="#0a0a0a" transform="rotate(20 80.5 1186.7)"/>
<ellipse cx="109.3" cy="1183.5" rx="6.2" ry="6.0" fill="url(#halo)" transform="rotate(0 109.3 1183.5)"/>
<ellipse cx="109.3" cy="1183.5" rx="2.0" ry="1.8" fill="#0a0a0a" transform="rotate(0 109.3 1183.5)"/>
<ellipse cx="145.3" cy="1173.9" rx="6.2" ry="6.0" fill="url(#halo)" transform="rotate(0 145.3 1173.9)"/>
<ellipse cx="145.3" cy="1173.9" rx="2.0" ry="1.8" fill="#0a0a0a" transform="rotate(0 145.3 1173.9)"/>
<ellipse cx="164.6" cy="1185.1" rx="6.2" ry="6.0" fill="url(#halo)" transform="rotate(0 164.6 1185.1)"/>
<ellipse cx="164.6" cy="1185.1" rx="2.0" ry="1.8" fill="#0a0a0a" transform="rotate(0 164.6 1185.1)"/>
<ellipse cx="147.7" cy="1189.9" rx="6.2" ry="6.0" fill="url(#halo)" transform="rotate(0 147.7 1189.9)"/>
<ellipse cx="147.7" cy="1189.9" rx="2.0" ry="1.8" fill="#0a0a0a" transform="rotate(0 147.7 1189.9)"/>
<ellipse cx="54.8" cy="1193.1" rx="6.2" ry="6.0" fill="url(#halo)" transform="rotate(0 54.8 1193.1)"/>
<ellipse cx="54.8" cy="1193.1" rx="2.0" ry="1.8" fill="#0a0a0a" transform="rotate(0 54.8 1193.1)"/>
<ellipse cx="38" cy="1199.5" rx="6.2" ry="6.0" fill="url(#halo)" transform="rotate(0 38 1199.5)"/>
<ellipse cx="38" cy="1199.5" rx="2.0" ry="1.8" fill="#0a0a0a" transform="rotate(0 38 1199.5)"/>
<ellipse cx="118.1" cy="1197.9" rx="6.2" ry="6.0" fill="url(#halo)" transform="rotate(0 118.1 1197.9)"/>
<ellipse cx="118.1" cy="1197.9" rx="2.0" ry="1.8" fill="#0a0a0a" transform="rotate(0 118.1 1197.9)"/>
<ellipse cx="163.8" cy="1213.1" rx="6.2" ry="6.0" fill="url(#halo)" transform="rotate(0 163.8 1213.1)"/>
<ellipse cx="163.8" cy="1213.1" rx="2.0" ry="1.8" fill="#0a0a0a" transform="rotate(0 163.8 1213.1)"/>
<ellipse cx="162.1" cy="1222.7" rx="6.2" ry="6.0" fill="url(#halo)" transform="rotate(0 162.1 1222.7)"/>
<ellipse cx="162.1" cy="1222.7" rx="2.0" ry="1.8" fill="#0a0a0a" transform="rotate(0 162.1 1222.7)"/>
<ellipse cx="149.3" cy="1227.5" rx="6.2" ry="6.0" fill="url(#halo)" transform="rotate(0 149.3 1227.5)"/>
<ellipse cx="149.3" cy="1227.5" rx="2.0" ry="1.8" fill="#0a0a0a" transform="rotate(0 149.3 1227.5)"/>
<ellipse cx="78.1" cy="1230" rx="6.2" ry="6.0" fill="url(#halo)" transform="rotate(0 78.1 1230)"/>
<ellipse cx="78.1" cy="1230" rx="2.0" ry="1.8" fill="#0a0a0a" transform="rotate(0 78.1 1230)"/>
<ellipse cx="21.2" cy="1235.5" rx="8.0" ry="6.0" fill="url(#halo)" transform="rotate(-15 21.2 1235.5)"/>
<ellipse cx="21.2" cy="1235.5" rx="3.6" ry="1.8" fill="#0a0a0a" transform="rotate(-15 21.2 1235.5)"/>
<ellipse cx="124.5" cy="1230.7" rx="6.2" ry="6.0" fill="url(#halo)" transform="rotate(0 124.5 1230.7)"/>
<ellipse cx="124.5" cy="1230.7" rx="2.0" ry="1.8" fill="#0a0a0a" transform="rotate(0 124.5 1230.7)"/>
<ellipse cx="132.5" cy="1232.3" rx="6.2" ry="6.0" fill="url(#halo)" transform="rotate(0 132.5 1232.3)"/>
<ellipse cx="132.5" cy="1232.3" rx="2.0" ry="1.8" fill="#0a0a0a" transform="rotate(0 132.5 1232.3)"/>
<ellipse cx="45.2" cy="1244.3" rx="6.2" ry="6.0" fill="url(#halo)" transform="rotate(0 45.2 1244.3)"/>
<ellipse cx="45.2" cy="1244.3" rx="2.0" ry="1.8" fill="#0a0a0a" transform="rotate(0 45.2 1244.3)"/>
<ellipse cx="106.1" cy="1245.1" rx="7.0" ry="5.8" fill="url(#halo)" transform="rotate(-30 106.1 1245.1)"/>
<ellipse cx="106.1" cy="1245.1" rx="2.7" ry="1.6" fill="#0a0a0a" transform="rotate(-30 106.1 1245.1)"/>
<ellipse cx="129.3" cy="1244.3" rx="7.0" ry="5.8" fill="url(#halo)" transform="rotate(0 129.3 1244.3)"/>
<ellipse cx="129.3" cy="1244.3" rx="2.7" ry="1.6" fill="#0a0a0a" transform="rotate(0 129.3 1244.3)"/>
<ellipse cx="245.3" cy="1089.8" rx="6.2" ry="6.0" fill="url(#halo)" transform="rotate(0 245.3 1089.8)"/>
<ellipse cx="245.3" cy="1089.8" rx="2.0" ry="1.8" fill="#0a0a0a" transform="rotate(0 245.3 1089.8)"/>
<ellipse cx="263.7" cy="1091.4" rx="6.2" ry="6.0" fill="url(#halo)" transform="rotate(0 263.7 1091.4)"/>
<ellipse cx="263.7" cy="1091.4" rx="2.0" ry="1.8" fill="#0a0a0a" transform="rotate(0 263.7 1091.4)"/>
<ellipse cx="237.3" cy="1101" rx="6.2" ry="6.0" fill="url(#halo)" transform="rotate(0 237.3 1101)"/>
<ellipse cx="237.3" cy="1101" rx="2.0" ry="1.8" fill="#0a0a0a" transform="rotate(0 237.3 1101)"/>
<ellipse cx="261.3" cy="1101" rx="6.2" ry="6.0" fill="url(#halo)" transform="rotate(0 261.3 1101)"/>
<ellipse cx="261.3" cy="1101" rx="2.0" ry="1.8" fill="#0a0a0a" transform="rotate(0 261.3 1101)"/>
<ellipse cx="280.5" cy="1104.2" rx="6.2" ry="6.0" fill="url(#halo)" transform="rotate(0 280.5 1104.2)"/>
<ellipse cx="280.5" cy="1104.2" rx="2.0" ry="1.8" fill="#0a0a0a" transform="rotate(0 280.5 1104.2)"/>
<ellipse cx="231.7" cy="1112.7" rx="6.2" ry="6.0" fill="url(#halo)" transform="rotate(0 231.7 1112.7)"/>
<ellipse cx="231.7" cy="1112.7" rx="2.0" ry="1.8" fill="#0a0a0a" transform="rotate(0 231.7 1112.7)"/>
<ellipse cx="247.7" cy="1115.4" rx="6.5" ry="5.8" fill="url(#halo)" transform="rotate(0 247.7 1115.4)"/>
<ellipse cx="247.7" cy="1115.4" rx="2.2" ry="1.6" fill="#0a0a0a" transform="rotate(0 247.7 1115.4)"/>
<ellipse cx="260.5" cy="1114.3" rx="6.2" ry="6.0" fill="url(#halo)" transform="rotate(0 260.5 1114.3)"/>
<ellipse cx="260.5" cy="1114.3" rx="2.0" ry="1.8" fill="#0a0a0a" transform="rotate(0 260.5 1114.3)"/>
<ellipse cx="286.1" cy="1117.5" rx="6.2" ry="6.0" fill="url(#halo)" transform="rotate(0 286.1 1117.5)"/>
<ellipse cx="286.1" cy="1117.5" rx="2.0" ry="1.8" fill="#0a0a0a" transform="rotate(0 286.1 1117.5)"/>
<ellipse cx="256.5" cy="1126.6" rx="6.2" ry="6.0" fill="url(#halo)" transform="rotate(0 256.5 1126.6)"/>
<ellipse cx="256.5" cy="1126.6" rx="2.0" ry="1.8" fill="#0a0a0a" transform="rotate(0 256.5 1126.6)"/>
<ellipse cx="182" cy="1141.9" rx="6.2" ry="6.0" fill="url(#halo)" transform="rotate(0 182 1141.9)"/>
<ellipse cx="182" cy="1141.9" rx="2.0" ry="1.8" fill="#0a0a0a" transform="rotate(0 182 1141.9)"/>
<ellipse cx="245.3" cy="1145.9" rx="6.2" ry="6.0" fill="url(#halo)" transform="rotate(0 245.3 1145.9)"/>
<ellipse cx="245.3" cy="1145.9" rx="2.0" ry="1.8" fill="#0a0a0a" transform="rotate(0 245.3 1145.9)"/>
<ellipse cx="247.7" cy="1153.9" rx="6.2" ry="6.0" fill="url(#halo)" transform="rotate(0 247.7 1153.9)"/>
<ellipse cx="247.7" cy="1153.9" rx="2.0" ry="1.8" fill="#0a0a0a" transform="rotate(0 247.7 1153.9)"/>
<ellipse cx="178" cy="1157.9" rx="6.2" ry="6.0" fill="url(#halo)" transform="rotate(0 178 1157.9)"/>
<ellipse cx="178" cy="1157.9" rx="2.0" ry="1.8" fill="#0a0a0a" transform="rotate(0 178 1157.9)"/>
<ellipse cx="321.3" cy="1149.1" rx="6.2" ry="6.0" fill="url(#halo)" transform="rotate(0 321.3 1149.1)"/>
<ellipse cx="321.3" cy="1149.1" rx="2.0" ry="1.8" fill="#0a0a0a" transform="rotate(0 321.3 1149.1)"/>
<ellipse cx="325.4" cy="1154.7" rx="6.2" ry="6.0" fill="url(#halo)" transform="rotate(0 325.4 1154.7)"/>
<ellipse cx="325.4" cy="1154.7" rx="2.0" ry="1.8" fill="#0a0a0a" transform="rotate(0 325.4 1154.7)"/>
<ellipse cx="323" cy="1168.3" rx="6.2" ry="6.0" fill="url(#halo)" transform="rotate(0 323 1168.3)"/>
<ellipse cx="323" cy="1168.3" rx="2.0" ry="1.8" fill="#0a0a0a" transform="rotate(0 323 1168.3)"/>
<ellipse cx="186.8" cy="1177.9" rx="6.2" ry="6.0" fill="url(#halo)" transform="rotate(0 186.8 1177.9)"/>
<ellipse cx="186.8" cy="1177.9" rx="2.0" ry="1.8" fill="#0a0a0a" transform="rotate(0 186.8 1177.9)"/>
<ellipse cx="212.4" cy="1176.3" rx="6.2" ry="6.0" fill="url(#halo)" transform="rotate(0 212.4 1176.3)"/>
<ellipse cx="212.4" cy="1176.3" rx="2.0" ry="1.8" fill="#0a0a0a" transform="rotate(0 212.4 1176.3)"/>
<ellipse cx="202" cy="1204" rx="6.2" ry="6.0" fill="url(#halo)" transform="rotate(0 202 1204)"/>
<ellipse cx="202" cy="1204" rx="2.0" ry="1.8" fill="#0a0a0a" transform="rotate(0 202 1204)"/>
<ellipse cx="190.8" cy="1207.2" rx="6.2" ry="6.0" fill="url(#halo)" transform="rotate(0 190.8 1207.2)"/>
<ellipse cx="190.8" cy="1207.2" rx="2.0" ry="1.8" fill="#0a0a0a" transform="rotate(0 190.8 1207.2)"/>
<ellipse cx="236.5" cy="1209.9" rx="6.2" ry="6.0" fill="url(#halo)" transform="rotate(0 236.5 1209.9)"/>
<ellipse cx="236.5" cy="1209.9" rx="2.0" ry="1.8" fill="#0a0a0a" transform="rotate(0 236.5 1209.9)"/>
<ellipse cx="310.9" cy="1200.3" rx="6.2" ry="6.0" fill="url(#halo)" transform="rotate(0 310.9 1200.3)"/>
<ellipse cx="310.9" cy="1200.3" rx="2.0" ry="1.8" fill="#0a0a0a" transform="rotate(0 310.9 1200.3)"/>
<ellipse cx="200.4" cy="1226.7" rx="7.5" ry="5.8" fill="url(#halo)" transform="rotate(-50 200.4 1226.7)"/>
<ellipse cx="200.4" cy="1226.7" rx="3.1" ry="1.6" fill="#0a0a0a" transform="rotate(-50 200.4 1226.7)"/>
<ellipse cx="224.5" cy="1229.1" rx="7.5" ry="6.0" fill="url(#halo)" transform="rotate(0 224.5 1229.1)"/>
<ellipse cx="224.5" cy="1229.1" rx="3.1" ry="1.8" fill="#0a0a0a" transform="rotate(0 224.5 1229.1)"/>
<ellipse cx="179.6" cy="1238.7" rx="6.2" ry="6.0" fill="url(#halo)" transform="rotate(0 179.6 1238.7)"/>
<ellipse cx="179.6" cy="1238.7" rx="2.0" ry="1.8" fill="#0a0a0a" transform="rotate(0 179.6 1238.7)"/>
<ellipse cx="211.6" cy="1237.1" rx="6.2" ry="6.0" fill="url(#halo)" transform="rotate(0 211.6 1237.1)"/>
<ellipse cx="211.6" cy="1237.1" rx="2.0" ry="1.8" fill="#0a0a0a" transform="rotate(0 211.6 1237.1)"/>
<ellipse cx="282.1" cy="1239.5" rx="7.5" ry="6.0" fill="url(#halo)" transform="rotate(10 282.1 1239.5)"/>
<ellipse cx="282.1" cy="1239.5" rx="3.1" ry="1.8" fill="#0a0a0a" transform="rotate(10 282.1 1239.5)"/>
<ellipse cx="289.3" cy="1235.5" rx="6.2" ry="6.0" fill="url(#halo)" transform="rotate(0 289.3 1235.5)"/>
<ellipse cx="289.3" cy="1235.5" rx="2.0" ry="1.8" fill="#0a0a0a" transform="rotate(0 289.3 1235.5)"/>
<ellipse cx="276.5" cy="1247.6" rx="6.2" ry="6.0" fill="url(#halo)" transform="rotate(0 276.5 1247.6)"/>
<ellipse cx="276.5" cy="1247.6" rx="2.0" ry="1.8" fill="#0a0a0a" transform="rotate(0 276.5 1247.6)"/>
</g>
<g filter="url(#bl12)">
</g>
<g filter="url(#bl1)">
<ellipse cx="259.7" cy="1062" rx="2.6" ry="2.6" fill="none" stroke="#1e1e1e" stroke-opacity="0.3" stroke-width="1.2"/>
<ellipse cx="259.7" cy="1062" rx="2" ry="2" fill="#ababab"/>
<ellipse cx="259.7" cy="1062" rx="2" ry="2" fill="url(#phl)"/>
<ellipse cx="26.8" cy="1057.9" rx="10.1" ry="9.1" fill="none" stroke="#1e1e1e" stroke-opacity="0.3" stroke-width="1.2"/>
<ellipse cx="26.8" cy="1057.9" rx="9.5" ry="8.5" fill="#b4b4b4"/>
<ellipse cx="26.8" cy="1057.9" rx="9.5" ry="8.5" fill="url(#phl)"/>
<ellipse cx="26.8" cy="1057.9" rx="8.4" ry="7.5" fill="none" stroke="#fff" stroke-opacity="0.12" stroke-width="1.5"/>
<circle cx="23.9" cy="1058.7" r="2.5" fill="#fff" fill-opacity="0.08"/>
<circle cx="29.2" cy="1056.8" r="2.5" fill="#fff" fill-opacity="0.08"/>
<circle cx="23.6" cy="1057.8" r="2.5" fill="#fff" fill-opacity="0.08"/>
<ellipse cx="254.1" cy="1141" rx="9.6" ry="9.1" fill="none" stroke="#1e1e1e" stroke-opacity="0.3" stroke-width="1.2"/>
<ellipse cx="254.1" cy="1141" rx="9" ry="8.5" fill="#bebebe"/>
<ellipse cx="254.1" cy="1141" rx="9" ry="8.5" fill="url(#phl)"/>
<ellipse cx="254.1" cy="1141" rx="7.9" ry="7.5" fill="none" stroke="#fff" stroke-opacity="0.12" stroke-width="1.5"/>
<circle cx="255.2" cy="1143.4" r="2.5" fill="#fff" fill-opacity="0.08"/>
<circle cx="251.5" cy="1138.4" r="2.5" fill="#fff" fill-opacity="0.08"/>
<circle cx="255.8" cy="1142.0" r="2.5" fill="#fff" fill-opacity="0.08"/>
</g>
<rect x="6.5" y="929.5" width="322.7" height="321.5" filter="url(#noise)" opacity="0.45" style="mix-blend-mode:overlay"/>
</g>
<g clip-path="url(#cp1)">
<rect x="353" y="929.5" width="322.7" height="321.5" fill="#434343"/>
<radialGradient id="tg1_0"><stop offset="0" stop-color="#4c4c4c" stop-opacity="0.35"/><stop offset="0.55" stop-color="#4c4c4c" stop-opacity="0.21"/><stop offset="1" stop-color="#4c4c4c" stop-opacity="0"/></radialGradient>
<ellipse cx="600" cy="1170" rx="135.0" ry="120.0" fill="url(#tg1_0)"/>
<radialGradient id="tg1_1"><stop offset="0" stop-color="#2e2e2e" stop-opacity="0.4"/><stop offset="0.55" stop-color="#2e2e2e" stop-opacity="0.24"/><stop offset="1" stop-color="#2e2e2e" stop-opacity="0"/></radialGradient>
<ellipse cx="400" cy="1110" rx="105.0" ry="180.0" fill="url(#tg1_1)"/>
<radialGradient id="tg1_2"><stop offset="0" stop-color="#333" stop-opacity="0.3"/><stop offset="0.55" stop-color="#333" stop-opacity="0.18"/><stop offset="1" stop-color="#333" stop-opacity="0"/></radialGradient>
<ellipse cx="380" cy="960" rx="60.0" ry="60.0" fill="url(#tg1_2)"/>
<g filter="url(#bl8)">
<path d="M 455,929 C 500,1030 560,1140 610,1251" fill="none" stroke="#5c5c5c" stroke-width="22" stroke-opacity="0.3"/>
<path d="M 520,929 C 580,1000 640,1080 676,1150" fill="none" stroke="#525252" stroke-width="12" stroke-opacity="0.3"/>
<path d="M 430,929 C 470,1030 520,1140 560,1251" fill="none" stroke="#2c2c2c" stroke-width="5" stroke-opacity="0.35"/>
</g>
<g filter="url(#bl05)">
<ellipse cx="378.4" cy="957.8" rx="5.8" ry="5.7" fill="url(#halo)" transform="rotate(0 378.4 957.8)"/>
<ellipse cx="378.4" cy="957.8" rx="1.6" ry="1.5" fill="#0a0a0a" transform="rotate(0 378.4 957.8)"/>
<ellipse cx="412" cy="965" rx="1.6" ry="1.5" fill="#0a0a0a" transform="rotate(0 412 965)"/>
<ellipse cx="414.5" cy="974.6" rx="1.6" ry="1.5" fill="#0a0a0a" transform="rotate(0 414.5 974.6)"/>
<ellipse cx="417.7" cy="991.5" rx="5.8" ry="5.7" fill="url(#halo)" transform="rotate(0 417.7 991.5)"/>
<ellipse cx="417.7" cy="991.5" rx="1.6" ry="1.5" fill="#0a0a0a" transform="rotate(0 417.7 991.5)"/>
<ellipse cx="359.2" cy="999.5" rx="1.6" ry="1.5" fill="#0a0a0a" transform="rotate(0 359.2 999.5)"/>
<ellipse cx="456.1" cy="1002.7" rx="1.6" ry="1.5" fill="#0a0a0a" transform="rotate(0 456.1 1002.7)"/>
<ellipse cx="420.9" cy="1012.3" rx="1.6" ry="1.5" fill="#0a0a0a" transform="rotate(0 420.9 1012.3)"/>
<ellipse cx="430.5" cy="1019.5" rx="1.6" ry="1.5" fill="#0a0a0a" transform="rotate(0 430.5 1019.5)"/>
<ellipse cx="435.3" cy="1014.7" rx="5.8" ry="5.7" fill="url(#halo)" transform="rotate(0 435.3 1014.7)"/>
<ellipse cx="435.3" cy="1014.7" rx="1.6" ry="1.5" fill="#0a0a0a" transform="rotate(0 435.3 1014.7)"/>
<ellipse cx="492.1" cy="1006.7" rx="5.8" ry="5.7" fill="url(#halo)" transform="rotate(0 492.1 1006.7)"/>
<ellipse cx="492.1" cy="1006.7" rx="1.6" ry="1.5" fill="#0a0a0a" transform="rotate(0 492.1 1006.7)"/>
<ellipse cx="487.3" cy="937.8" rx="1.6" ry="1.5" fill="#0a0a0a" transform="rotate(0 487.3 937.8)"/>
<ellipse cx="492.1" cy="951.4" rx="5.8" ry="5.7" fill="url(#halo)" transform="rotate(0 492.1 951.4)"/>
<ellipse cx="492.1" cy="951.4" rx="1.6" ry="1.5" fill="#0a0a0a" transform="rotate(0 492.1 951.4)"/>
<ellipse cx="396.8" cy="1029.9" rx="5.8" ry="5.7" fill="url(#halo)" transform="rotate(0 396.8 1029.9)"/>
<ellipse cx="396.8" cy="1029.9" rx="1.6" ry="1.5" fill="#0a0a0a" transform="rotate(0 396.8 1029.9)"/>
<ellipse cx="440.9" cy="1035.5" rx="5.8" ry="5.7" fill="url(#halo)" transform="rotate(0 440.9 1035.5)"/>
<ellipse cx="440.9" cy="1035.5" rx="1.6" ry="1.5" fill="#0a0a0a" transform="rotate(0 440.9 1035.5)"/>
<ellipse cx="452.1" cy="1043.5" rx="5.8" ry="5.7" fill="url(#halo)" transform="rotate(0 452.1 1043.5)"/>
<ellipse cx="452.1" cy="1043.5" rx="1.6" ry="1.5" fill="#0a0a0a" transform="rotate(0 452.1 1043.5)"/>
<ellipse cx="473.7" cy="1042.7" rx="1.6" ry="1.5" fill="#0a0a0a" transform="rotate(0 473.7 1042.7)"/>
<ellipse cx="496.9" cy="1030.7" rx="1.6" ry="1.5" fill="#0a0a0a" transform="rotate(0 496.9 1030.7)"/>
<ellipse cx="377.6" cy="1042.7" rx="1.6" ry="1.5" fill="#0a0a0a" transform="rotate(0 377.6 1042.7)"/>
<ellipse cx="384" cy="1049.1" rx="1.6" ry="1.5" fill="#0a0a0a" transform="rotate(0 384 1049.1)"/>
<ellipse cx="418.5" cy="1049.9" rx="1.6" ry="1.5" fill="#0a0a0a" transform="rotate(0 418.5 1049.9)"/>
<ellipse cx="389.6" cy="1061.1" rx="1.6" ry="1.5" fill="#0a0a0a" transform="rotate(0 389.6 1061.1)"/>
<ellipse cx="400.8" cy="1061.1" rx="1.6" ry="1.5" fill="#0a0a0a" transform="rotate(0 400.8 1061.1)"/>
<ellipse cx="500.9" cy="1068.3" rx="1.6" ry="1.5" fill="#0a0a0a" transform="rotate(0 500.9 1068.3)"/>
<ellipse cx="499.3" cy="1074.7" rx="5.8" ry="5.7" fill="url(#halo)" transform="rotate(0 499.3 1074.7)"/>
<ellipse cx="499.3" cy="1074.7" rx="1.6" ry="1.5" fill="#0a0a0a" transform="rotate(0 499.3 1074.7)"/>
<ellipse cx="502.5" cy="1086" rx="1.6" ry="1.5" fill="#0a0a0a" transform="rotate(0 502.5 1086)"/>
<ellipse cx="544" cy="951.4" rx="2.2" ry="1.4" fill="#0a0a0a" transform="rotate(45 544 951.4)"/>
<ellipse cx="547.2" cy="962.6" rx="1.6" ry="1.5" fill="#0a0a0a" transform="rotate(0 547.2 962.6)"/>
<ellipse cx="540" cy="963.4" rx="1.6" ry="1.5" fill="#0a0a0a" transform="rotate(0 540 963.4)"/>
<ellipse cx="536" cy="969" rx="1.6" ry="1.5" fill="#0a0a0a" transform="rotate(0 536 969)"/>
<ellipse cx="524.8" cy="973" rx="5.8" ry="5.7" fill="url(#halo)" transform="rotate(0 524.8 973)"/>
<ellipse cx="524.8" cy="973" rx="1.6" ry="1.5" fill="#0a0a0a" transform="rotate(0 524.8 973)"/>
<ellipse cx="568.1" cy="975.4" rx="5.8" ry="5.7" fill="url(#halo)" transform="rotate(0 568.1 975.4)"/>
<ellipse cx="568.1" cy="975.4" rx="1.6" ry="1.5" fill="#0a0a0a" transform="rotate(0 568.1 975.4)"/>
<ellipse cx="564.9" cy="985.9" rx="5.8" ry="5.7" fill="url(#halo)" transform="rotate(0 564.9 985.9)"/>
<ellipse cx="564.9" cy="985.9" rx="1.6" ry="1.5" fill="#0a0a0a" transform="rotate(0 564.9 985.9)"/>
<ellipse cx="568.9" cy="994.7" rx="1.6" ry="1.5" fill="#0a0a0a" transform="rotate(0 568.9 994.7)"/>
<ellipse cx="554.4" cy="1005.9" rx="1.6" ry="1.5" fill="#0a0a0a" transform="rotate(0 554.4 1005.9)"/>
<ellipse cx="560" cy="1003.5" rx="1.6" ry="1.5" fill="#0a0a0a" transform="rotate(0 560 1003.5)"/>
<ellipse cx="518.4" cy="1015.5" rx="2.7" ry="1.8" fill="#0a0a0a" transform="rotate(0 518.4 1015.5)"/>
<ellipse cx="620.1" cy="951.4" rx="1.6" ry="1.5" fill="#0a0a0a" transform="rotate(0 620.1 951.4)"/>
<ellipse cx="646.5" cy="957" rx="1.6" ry="1.5" fill="#0a0a0a" transform="rotate(0 646.5 957)"/>
<ellipse cx="651.3" cy="971.4" rx="5.8" ry="5.7" fill="url(#halo)" transform="rotate(0 651.3 971.4)"/>
<ellipse cx="651.3" cy="971.4" rx="1.6" ry="1.5" fill="#0a0a0a" transform="rotate(0 651.3 971.4)"/>
<ellipse cx="664.1" cy="999.5" rx="5.8" ry="5.7" fill="url(#halo)" transform="rotate(0 664.1 999.5)"/>
<ellipse cx="664.1" cy="999.5" rx="1.6" ry="1.5" fill="#0a0a0a" transform="rotate(0 664.1 999.5)"/>
<ellipse cx="609.7" cy="1023.5" rx="1.6" ry="1.5" fill="#0a0a0a" transform="rotate(0 609.7 1023.5)"/>
<ellipse cx="629.7" cy="1025.1" rx="1.6" ry="1.5" fill="#0a0a0a" transform="rotate(0 629.7 1025.1)"/>
<ellipse cx="569.7" cy="1032.3" rx="1.6" ry="1.5" fill="#0a0a0a" transform="rotate(0 569.7 1032.3)"/>
<ellipse cx="617.7" cy="1041.9" rx="1.6" ry="1.5" fill="#0a0a0a" transform="rotate(0 617.7 1041.9)"/>
<ellipse cx="517.6" cy="1052.3" rx="5.8" ry="5.7" fill="url(#halo)" transform="rotate(0 517.6 1052.3)"/>
<ellipse cx="517.6" cy="1052.3" rx="1.6" ry="1.5" fill="#0a0a0a" transform="rotate(0 517.6 1052.3)"/>
<ellipse cx="548" cy="1055.5" rx="1.4" ry="2.7" fill="#0a0a0a" transform="rotate(-20 548 1055.5)"/>
<ellipse cx="672.2" cy="1050.7" rx="1.6" ry="1.5" fill="#0a0a0a" transform="rotate(0 672.2 1050.7)"/>
<ellipse cx="649.7" cy="1078" rx="5.8" ry="5.7" fill="url(#halo)" transform="rotate(0 649.7 1078)"/>
<ellipse cx="649.7" cy="1078" rx="1.6" ry="1.5" fill="#0a0a0a" transform="rotate(0 649.7 1078)"/>
<ellipse cx="568.1" cy="1087.6" rx="5.8" ry="5.7" fill="url(#halo)" transform="rotate(0 568.1 1087.6)"/>
<ellipse cx="568.1" cy="1087.6" rx="1.6" ry="1.5" fill="#0a0a0a" transform="rotate(0 568.1 1087.6)"/>
<ellipse cx="571.3" cy="931.4" rx="1.6" ry="1.5" fill="#0a0a0a" transform="rotate(0 571.3 931.4)"/>
<ellipse cx="363.2" cy="1118.6" rx="1.6" ry="1.5" fill="#0a0a0a" transform="rotate(0 363.2 1118.6)"/>
<ellipse cx="425.7" cy="1111.4" rx="1.6" ry="1.5" fill="#0a0a0a" transform="rotate(0 425.7 1111.4)"/>
<ellipse cx="464.1" cy="1104.2" rx="5.8" ry="5.7" fill="url(#halo)" transform="rotate(0 464.1 1104.2)"/>
<ellipse cx="464.1" cy="1104.2" rx="1.6" ry="1.5" fill="#0a0a0a" transform="rotate(0 464.1 1104.2)"/>
<ellipse cx="384" cy="1133.8" rx="5.8" ry="5.7" fill="url(#halo)" transform="rotate(0 384 1133.8)"/>
<ellipse cx="384" cy="1133.8" rx="1.6" ry="1.5" fill="#0a0a0a" transform="rotate(0 384 1133.8)"/>
<ellipse cx="444.9" cy="1149.1" rx="5.8" ry="5.7" fill="url(#halo)" transform="rotate(0 444.9 1149.1)"/>
<ellipse cx="444.9" cy="1149.1" rx="1.6" ry="1.5" fill="#0a0a0a" transform="rotate(0 444.9 1149.1)"/>
<ellipse cx="388.8" cy="1153.1" rx="5.8" ry="5.7" fill="url(#halo)" transform="rotate(0 388.8 1153.1)"/>
<ellipse cx="388.8" cy="1153.1" rx="1.6" ry="1.5" fill="#0a0a0a" transform="rotate(0 388.8 1153.1)"/>
<ellipse cx="368.8" cy="1171.5" rx="1.6" ry="1.5" fill="#0a0a0a" transform="rotate(0 368.8 1171.5)"/>
<ellipse cx="376" cy="1178.7" rx="5.8" ry="5.7" fill="url(#halo)" transform="rotate(0 376 1178.7)"/>
<ellipse cx="376" cy="1178.7" rx="1.6" ry="1.5" fill="#0a0a0a" transform="rotate(0 376 1178.7)"/>
<ellipse cx="419.3" cy="1180.3" rx="1.6" ry="1.5" fill="#0a0a0a" transform="rotate(0 419.3 1180.3)"/>
<ellipse cx="450.5" cy="1182.7" rx="1.6" ry="1.5" fill="#0a0a0a" transform="rotate(0 450.5 1182.7)"/>
<ellipse cx="454.5" cy="1172.3" rx="5.8" ry="5.7" fill="url(#halo)" transform="rotate(0 454.5 1172.3)"/>
<ellipse cx="454.5" cy="1172.3" rx="1.6" ry="1.5" fill="#0a0a0a" transform="rotate(0 454.5 1172.3)"/>
<ellipse cx="473.7" cy="1167.5" rx="1.6" ry="1.5" fill="#0a0a0a" transform="rotate(0 473.7 1167.5)"/>
<ellipse cx="500.9" cy="1163.5" rx="5.8" ry="5.7" fill="url(#halo)" transform="rotate(0 500.9 1163.5)"/>
<ellipse cx="500.9" cy="1163.5" rx="1.6" ry="1.5" fill="#0a0a0a" transform="rotate(0 500.9 1163.5)"/>
<ellipse cx="491.3" cy="1177.1" rx="1.6" ry="1.5" fill="#0a0a0a" transform="rotate(0 491.3 1177.1)"/>
<ellipse cx="506.5" cy="1185.1" rx="5.8" ry="5.7" fill="url(#halo)" transform="rotate(0 506.5 1185.1)"/>
<ellipse cx="506.5" cy="1185.1" rx="1.6" ry="1.5" fill="#0a0a0a" transform="rotate(0 506.5 1185.1)"/>
<ellipse cx="498.5" cy="1189.9" rx="1.6" ry="1.5" fill="#0a0a0a" transform="rotate(0 498.5 1189.9)"/>
<ellipse cx="448.1" cy="1194.7" rx="5.8" ry="5.7" fill="url(#halo)" transform="rotate(0 448.1 1194.7)"/>
<ellipse cx="448.1" cy="1194.7" rx="1.6" ry="1.5" fill="#0a0a0a" transform="rotate(0 448.1 1194.7)"/>
<ellipse cx="466.5" cy="1195.5" rx="5.8" ry="5.7" fill="url(#halo)" transform="rotate(0 466.5 1195.5)"/>
<ellipse cx="466.5" cy="1195.5" rx="1.6" ry="1.5" fill="#0a0a0a" transform="rotate(0 466.5 1195.5)"/>
<ellipse cx="388" cy="1199.5" rx="1.6" ry="1.5" fill="#0a0a0a" transform="rotate(0 388 1199.5)"/>
<ellipse cx="470.5" cy="1205.9" rx="1.6" ry="1.5" fill="#0a0a0a" transform="rotate(0 470.5 1205.9)"/>
<ellipse cx="487.3" cy="1209.1" rx="1.6" ry="1.5" fill="#0a0a0a" transform="rotate(0 487.3 1209.1)"/>
<ellipse cx="500.1" cy="1206.7" rx="1.6" ry="1.5" fill="#0a0a0a" transform="rotate(0 500.1 1206.7)"/>
<ellipse cx="428.1" cy="1223.5" rx="5.8" ry="5.7" fill="url(#halo)" transform="rotate(0 428.1 1223.5)"/>
<ellipse cx="428.1" cy="1223.5" rx="1.6" ry="1.5" fill="#0a0a0a" transform="rotate(0 428.1 1223.5)"/>
<ellipse cx="468.1" cy="1238" rx="1.6" ry="1.5" fill="#0a0a0a" transform="rotate(0 468.1 1238)"/>
<ellipse cx="505" cy="1225.1" rx="1.6" ry="1.5" fill="#0a0a0a" transform="rotate(0 505 1225.1)"/>
<ellipse cx="376.8" cy="1235.5" rx="1.6" ry="1.5" fill="#0a0a0a" transform="rotate(0 376.8 1235.5)"/>
<ellipse cx="524" cy="1101" rx="5.8" ry="5.7" fill="url(#halo)" transform="rotate(0 524 1101)"/>
<ellipse cx="524" cy="1101" rx="1.6" ry="1.5" fill="#0a0a0a" transform="rotate(0 524 1101)"/>
<ellipse cx="569.7" cy="1090.6" rx="1.6" ry="1.5" fill="#0a0a0a" transform="rotate(0 569.7 1090.6)"/>
<ellipse cx="639.3" cy="1105" rx="5.8" ry="5.7" fill="url(#halo)" transform="rotate(0 639.3 1105)"/>
<ellipse cx="639.3" cy="1105" rx="1.6" ry="1.5" fill="#0a0a0a" transform="rotate(0 639.3 1105)"/>
<ellipse cx="616.1" cy="1113" rx="5.8" ry="5.7" fill="url(#halo)" transform="rotate(0 616.1 1113)"/>
<ellipse cx="616.1" cy="1113" rx="1.6" ry="1.5" fill="#0a0a0a" transform="rotate(0 616.1 1113)"/>
<ellipse cx="616.9" cy="1123.4" rx="1.6" ry="1.5" fill="#0a0a0a" transform="rotate(0 616.9 1123.4)"/>
<ellipse cx="524" cy="1132.2" rx="1.6" ry="1.5" fill="#0a0a0a" transform="rotate(0 524 1132.2)"/>
<ellipse cx="620.9" cy="1137" rx="5.8" ry="5.7" fill="url(#halo)" transform="rotate(0 620.9 1137)"/>
<ellipse cx="620.9" cy="1137" rx="1.6" ry="1.5" fill="#0a0a0a" transform="rotate(0 620.9 1137)"/>
<ellipse cx="567.3" cy="1143.5" rx="5.8" ry="5.7" fill="url(#halo)" transform="rotate(0 567.3 1143.5)"/>
<ellipse cx="567.3" cy="1143.5" rx="1.6" ry="1.5" fill="#0a0a0a" transform="rotate(0 567.3 1143.5)"/>
<ellipse cx="540.8" cy="1154.7" rx="5.8" ry="5.7" fill="url(#halo)" transform="rotate(0 540.8 1154.7)"/>
<ellipse cx="540.8" cy="1154.7" rx="1.6" ry="1.5" fill="#0a0a0a" transform="rotate(0 540.8 1154.7)"/>
<ellipse cx="589.7" cy="1157.1" rx="1.6" ry="1.5" fill="#0a0a0a" transform="rotate(0 589.7 1157.1)"/>
<ellipse cx="602.5" cy="1157.9" rx="5.8" ry="5.7" fill="url(#halo)" transform="rotate(0 602.5 1157.9)"/>
<ellipse cx="602.5" cy="1157.9" rx="1.6" ry="1.5" fill="#0a0a0a" transform="rotate(0 602.5 1157.9)"/>
<ellipse cx="519.2" cy="1160.3" rx="1.6" ry="1.5" fill="#0a0a0a" transform="rotate(0 519.2 1160.3)"/>
<ellipse cx="556" cy="1163.5" rx="1.6" ry="1.5" fill="#0a0a0a" transform="rotate(0 556 1163.5)"/>
<ellipse cx="658.5" cy="1162.7" rx="1.6" ry="1.5" fill="#0a0a0a" transform="rotate(0 658.5 1162.7)"/>
<ellipse cx="536" cy="1174.7" rx="1.6" ry="1.5" fill="#0a0a0a" transform="rotate(0 536 1174.7)"/>
<ellipse cx="652.1" cy="1176.3" rx="1.6" ry="1.5" fill="#0a0a0a" transform="rotate(0 652.1 1176.3)"/>
<ellipse cx="670.6" cy="1183.5" rx="1.6" ry="1.5" fill="#0a0a0a" transform="rotate(0 670.6 1183.5)"/>
<ellipse cx="610.5" cy="1185.1" rx="1.8" ry="1.4" fill="#0a0a0a" transform="rotate(40 610.5 1185.1)"/>
<ellipse cx="552" cy="1187.5" rx="5.8" ry="5.7" fill="url(#halo)" transform="rotate(0 552 1187.5)"/>
<ellipse cx="552" cy="1187.5" rx="1.6" ry="1.5" fill="#0a0a0a" transform="rotate(0 552 1187.5)"/>
<ellipse cx="649.7" cy="1189.1" rx="5.8" ry="5.7" fill="url(#halo)" transform="rotate(0 649.7 1189.1)"/>
<ellipse cx="649.7" cy="1189.1" rx="1.6" ry="1.5" fill="#0a0a0a" transform="rotate(0 649.7 1189.1)"/>
<ellipse cx="659.3" cy="1193.1" rx="1.6" ry="1.5" fill="#0a0a0a" transform="rotate(0 659.3 1193.1)"/>
<ellipse cx="607.3" cy="1198.7" rx="1.6" ry="1.5" fill="#0a0a0a" transform="rotate(0 607.3 1198.7)"/>
<ellipse cx="523.2" cy="1207.5" rx="5.8" ry="5.7" fill="url(#halo)" transform="rotate(0 523.2 1207.5)"/>
<ellipse cx="523.2" cy="1207.5" rx="1.6" ry="1.5" fill="#0a0a0a" transform="rotate(0 523.2 1207.5)"/>
<ellipse cx="587.3" cy="1221.1" rx="5.8" ry="5.7" fill="url(#halo)" transform="rotate(0 587.3 1221.1)"/>
<ellipse cx="587.3" cy="1221.1" rx="1.6" ry="1.5" fill="#0a0a0a" transform="rotate(0 587.3 1221.1)"/>
<ellipse cx="663.3" cy="1221.1" rx="1.6" ry="1.5" fill="#0a0a0a" transform="rotate(0 663.3 1221.1)"/>
<ellipse cx="520.8" cy="1230" rx="1.6" ry="1.5" fill="#0a0a0a" transform="rotate(0 520.8 1230)"/>
<ellipse cx="636.1" cy="1235.5" rx="5.8" ry="5.7" fill="url(#halo)" transform="rotate(0 636.1 1235.5)"/>
<ellipse cx="636.1" cy="1235.5" rx="1.6" ry="1.5" fill="#0a0a0a" transform="rotate(0 636.1 1235.5)"/>
<ellipse cx="580.1" cy="1248.4" rx="1.6" ry="1.5" fill="#0a0a0a" transform="rotate(0 580.1 1248.4)"/>
</g>
<g filter="url(#bl1)">
<polygon points="357,1020 361,1008 372,1001 386,999 391,1002 386,1008 382,1020 378,1029 370,1032 361,1030" fill="#9d9d9d"/>
<polygon points="455,931 463,931 474,945 484,962 490,977 487,985 480,984 470,970 462,955" fill="#737373"/>
<polygon points="490,985 500,987 507,996 508,1005 502,1004 494,998" fill="#6d6d6d"/>
<polygon points="660,1110 668,1100 672,1104 668,1114 662,1120 655,1122" fill="#6a6a6a"/>
</g>
<g filter="url(#bl12)">
<ellipse cx="546.4" cy="1232.3" rx="7.4" ry="6.0" fill="#747474"/>
<circle cx="549.2" cy="1230.2" r="2.1" fill="#7a7a7a" fill-opacity="0.7"/>
<circle cx="551.7" cy="1233.4" r="1.9" fill="#878787" fill-opacity="0.7"/>
<circle cx="546.2" cy="1236.2" r="2.3" fill="#7e7e7e" fill-opacity="0.7"/>
<circle cx="548.4" cy="1235.5" r="1.7" fill="#7c7c7c" fill-opacity="0.7"/>
<circle cx="541.8" cy="1230.8" r="2.3" fill="#7e7e7e" fill-opacity="0.7"/>
</g>
<g filter="url(#bl1)">
<ellipse cx="409.7" cy="1121" rx="3.6" ry="3.6" fill="none" stroke="#1e1e1e" stroke-opacity="0.3" stroke-width="1.2"/>
<ellipse cx="409.7" cy="1121" rx="3" ry="3" fill="#696969"/>
<ellipse cx="409.7" cy="1121" rx="3" ry="3" fill="url(#phl)"/>
<ellipse cx="481.7" cy="1178.7" rx="3.6" ry="3.6" fill="none" stroke="#1e1e1e" stroke-opacity="0.3" stroke-width="1.2"/>
<ellipse cx="481.7" cy="1178.7" rx="3" ry="3" fill="#696969"/>
<ellipse cx="481.7" cy="1178.7" rx="3" ry="3" fill="url(#phl)"/>
<ellipse cx="452.9" cy="1178.7" rx="3.6" ry="3.6" fill="none" stroke="#1e1e1e" stroke-opacity="0.3" stroke-width="1.2"/>
<ellipse cx="452.9" cy="1178.7" rx="3" ry="3" fill="#696969"/>
<ellipse cx="452.9" cy="1178.7" rx="3" ry="3" fill="url(#phl)"/>
<ellipse cx="599.3" cy="1087.5" rx="4.6" ry="3.6" fill="none" stroke="#1e1e1e" stroke-opacity="0.3" stroke-width="1.2"/>
<ellipse cx="599.3" cy="1087.5" rx="4" ry="3" fill="#6e6e6e"/>
<ellipse cx="599.3" cy="1087.5" rx="4" ry="3" fill="url(#phl)"/>
<ellipse cx="646.5" cy="1093" rx="4.1" ry="4.1" fill="none" stroke="#1e1e1e" stroke-opacity="0.3" stroke-width="1.2"/>
<ellipse cx="646.5" cy="1093" rx="3.5" ry="3.5" fill="#6e6e6e"/>
<ellipse cx="646.5" cy="1093" rx="3.5" ry="3.5" fill="url(#phl)"/>
<ellipse cx="538.4" cy="1095.4" rx="4.1" ry="3.6" fill="none" stroke="#1e1e1e" stroke-opacity="0.3" stroke-width="1.2"/>
<ellipse cx="538.4" cy="1095.4" rx="3.5" ry="3" fill="#6e6e6e"/>
<ellipse cx="538.4" cy="1095.4" rx="3.5" ry="3" fill="url(#phl)"/>
<ellipse cx="416" cy="980" rx="3.6" ry="3.6" fill="none" stroke="#1e1e1e" stroke-opacity="0.3" stroke-width="1.2"/>
<ellipse cx="416" cy="980" rx="3" ry="3" fill="#6e6e6e"/>
<ellipse cx="416" cy="980" rx="3" ry="3" fill="url(#phl)"/>
<ellipse cx="489.7" cy="1142.7" rx="3.6" ry="3.6" fill="none" stroke="#1e1e1e" stroke-opacity="0.3" stroke-width="1.2"/>
<ellipse cx="489.7" cy="1142.7" rx="3" ry="3" fill="#6e6e6e"/>
<ellipse cx="489.7" cy="1142.7" rx="3" ry="3" fill="url(#phl)"/>
<ellipse cx="657" cy="982.7" rx="4.6" ry="4.1" fill="none" stroke="#1e1e1e" stroke-opacity="0.3" stroke-width="1.2"/>
<ellipse cx="657" cy="982.7" rx="4" ry="3.5" fill="#757575"/>
<ellipse cx="657" cy="982.7" rx="4" ry="3.5" fill="url(#phl)"/>
<ellipse cx="505.7" cy="1101.8" rx="4.6" ry="4.6" fill="none" stroke="#1e1e1e" stroke-opacity="0.3" stroke-width="1.2"/>
<ellipse cx="505.7" cy="1101.8" rx="4" ry="4" fill="#7b7b7b"/>
<ellipse cx="505.7" cy="1101.8" rx="4" ry="4" fill="url(#phl)"/>
<ellipse cx="568.9" cy="1112.2" rx="4.6" ry="4.6" fill="none" stroke="#1e1e1e" stroke-opacity="0.3" stroke-width="1.2"/>
<ellipse cx="568.9" cy="1112.2" rx="4" ry="4" fill="#828282"/>
<ellipse cx="568.9" cy="1112.2" rx="4" ry="4" fill="url(#phl)"/>
<ellipse cx="442.5" cy="1096" rx="8.6" ry="8.6" fill="none" stroke="#1e1e1e" stroke-opacity="0.3" stroke-width="1.2"/>
<ellipse cx="442.5" cy="1096" rx="8" ry="8" fill="#989898"/>
<ellipse cx="442.5" cy="1096" rx="8" ry="8" fill="url(#phl)"/>
<ellipse cx="442.5" cy="1096" rx="7.0" ry="7.0" fill="none" stroke="#fff" stroke-opacity="0.12" stroke-width="1.5"/>
<circle cx="443.8" cy="1095.3" r="2.4" fill="#fff" fill-opacity="0.08"/>
<circle cx="444.2" cy="1096.2" r="2.4" fill="#fff" fill-opacity="0.08"/>
<circle cx="441.6" cy="1096.3" r="2.4" fill="#fff" fill-opacity="0.08"/>
<ellipse cx="508.1" cy="1237.1" rx="8.6" ry="9.1" fill="none" stroke="#1e1e1e" stroke-opacity="0.3" stroke-width="1.2"/>
<ellipse cx="508.1" cy="1237.1" rx="8" ry="8.5" fill="#989898"/>
<ellipse cx="508.1" cy="1237.1" rx="8" ry="8.5" fill="url(#phl)"/>
<ellipse cx="508.1" cy="1237.1" rx="7.0" ry="7.5" fill="none" stroke="#fff" stroke-opacity="0.12" stroke-width="1.5"/>
<circle cx="509.0" cy="1239.0" r="2.4" fill="#fff" fill-opacity="0.08"/>
<circle cx="507.0" cy="1236.5" r="2.4" fill="#fff" fill-opacity="0.08"/>
<circle cx="505.7" cy="1240.1" r="2.4" fill="#fff" fill-opacity="0.08"/>
<ellipse cx="594.5" cy="967.4" rx="7.1" ry="6.6" fill="none" stroke="#1e1e1e" stroke-opacity="0.3" stroke-width="1.2"/>
<ellipse cx="594.5" cy="967.4" rx="6.5" ry="6" fill="#989898"/>
<ellipse cx="594.5" cy="967.4" rx="6.5" ry="6" fill="url(#phl)"/>
<ellipse cx="594.5" cy="967.4" rx="5.7" ry="5.3" fill="none" stroke="#fff" stroke-opacity="0.12" stroke-width="1.5"/>
<circle cx="596.8" cy="967.1" r="1.8" fill="#fff" fill-opacity="0.08"/>
<circle cx="593.7" cy="965.5" r="1.8" fill="#fff" fill-opacity="0.08"/>
<circle cx="595.0" cy="967.9" r="1.8" fill="#fff" fill-opacity="0.08"/>
<ellipse cx="369.6" cy="1082" rx="8.6" ry="8.6" fill="none" stroke="#1e1e1e" stroke-opacity="0.3" stroke-width="1.2"/>
<ellipse cx="369.6" cy="1082" rx="8" ry="8" fill="#a0a0a0"/>
<ellipse cx="369.6" cy="1082" rx="8" ry="8" fill="url(#phl)"/>
<ellipse cx="369.6" cy="1082" rx="7.0" ry="7.0" fill="none" stroke="#fff" stroke-opacity="0.12" stroke-width="1.5"/>
<circle cx="373.3" cy="1082.4" r="2.4" fill="#fff" fill-opacity="0.08"/>
<circle cx="368.4" cy="1078.3" r="2.4" fill="#fff" fill-opacity="0.08"/>
<circle cx="372.4" cy="1082.4" r="2.4" fill="#fff" fill-opacity="0.08"/>
<ellipse cx="390.4" cy="1099.4" rx="9.6" ry="10.1" fill="none" stroke="#1e1e1e" stroke-opacity="0.3" stroke-width="1.2"/>
<ellipse cx="390.4" cy="1099.4" rx="9" ry="9.5" fill="#a0a0a0"/>
<ellipse cx="390.4" cy="1099.4" rx="9" ry="9.5" fill="url(#phl)"/>
<ellipse cx="390.4" cy="1099.4" rx="7.9" ry="8.4" fill="none" stroke="#fff" stroke-opacity="0.12" stroke-width="1.5"/>
<circle cx="386.9" cy="1099.8" r="2.7" fill="#fff" fill-opacity="0.08"/>
<circle cx="388.5" cy="1103.7" r="2.7" fill="#fff" fill-opacity="0.08"/>
<circle cx="393.0" cy="1100.8" r="2.7" fill="#fff" fill-opacity="0.08"/>
<ellipse cx="409.7" cy="944.2" rx="7.1" ry="7.4" fill="none" stroke="#1e1e1e" stroke-opacity="0.3" stroke-width="1.2"/>
<ellipse cx="409.7" cy="944.2" rx="6.5" ry="6.8" fill="#a8a8a8"/>
<ellipse cx="409.7" cy="944.2" rx="6.5" ry="6.8" fill="url(#phl)"/>
<ellipse cx="409.7" cy="944.2" rx="5.7" ry="6.0" fill="none" stroke="#fff" stroke-opacity="0.12" stroke-width="1.5"/>
<circle cx="409.5" cy="941.1" r="1.9" fill="#fff" fill-opacity="0.08"/>
<circle cx="409.5" cy="941.6" r="1.9" fill="#fff" fill-opacity="0.08"/>
<circle cx="410.5" cy="941.1" r="1.9" fill="#fff" fill-opacity="0.08"/>
<ellipse cx="446.5" cy="1058.7" rx="13.1" ry="7.6" fill="none" stroke="#1e1e1e" stroke-opacity="0.3" stroke-width="1.2"/>
<ellipse cx="446.5" cy="1058.7" rx="12.5" ry="7" fill="#a8a8a8"/>
<ellipse cx="446.5" cy="1058.7" rx="12.5" ry="7" fill="url(#phl)"/>
<ellipse cx="446.5" cy="1058.7" rx="11.0" ry="6.2" fill="none" stroke="#fff" stroke-opacity="0.12" stroke-width="1.5"/>
<circle cx="443.7" cy="1060.8" r="2.1" fill="#fff" fill-opacity="0.08"/>
<circle cx="451.1" cy="1056.9" r="2.1" fill="#fff" fill-opacity="0.08"/>
<circle cx="442.0" cy="1060.1" r="2.1" fill="#fff" fill-opacity="0.08"/>
<ellipse cx="460.9" cy="1074" rx="11.6" ry="6.8" fill="none" stroke="#1e1e1e" stroke-opacity="0.3" stroke-width="1.2"/>
<ellipse cx="460.9" cy="1074" rx="11" ry="6.2" fill="#a8a8a8"/>
<ellipse cx="460.9" cy="1074" rx="11" ry="6.2" fill="url(#phl)"/>
<ellipse cx="460.9" cy="1074" rx="9.7" ry="5.5" fill="none" stroke="#fff" stroke-opacity="0.12" stroke-width="1.5"/>
<circle cx="463.3" cy="1072.5" r="1.9" fill="#fff" fill-opacity="0.08"/>
<circle cx="458.9" cy="1072.9" r="1.9" fill="#fff" fill-opacity="0.08"/>
<circle cx="457.6" cy="1072.9" r="1.9" fill="#fff" fill-opacity="0.08"/>
<ellipse cx="411.3" cy="1142.7" rx="6.6" ry="6.6" fill="none" stroke="#1e1e1e" stroke-opacity="0.3" stroke-width="1.2"/>
<ellipse cx="411.3" cy="1142.7" rx="6" ry="6" fill="#a8a8a8"/>
<ellipse cx="411.3" cy="1142.7" rx="6" ry="6" fill="url(#phl)"/>
<ellipse cx="411.3" cy="1142.7" rx="5.3" ry="5.3" fill="none" stroke="#fff" stroke-opacity="0.12" stroke-width="1.5"/>
<circle cx="413.2" cy="1143.7" r="1.8" fill="#fff" fill-opacity="0.08"/>
<circle cx="414.0" cy="1142.6" r="1.8" fill="#fff" fill-opacity="0.08"/>
<circle cx="411.1" cy="1141.2" r="1.8" fill="#fff" fill-opacity="0.08"/>
<ellipse cx="397.6" cy="1149.1" rx="7.1" ry="7.1" fill="none" stroke="#1e1e1e" stroke-opacity="0.3" stroke-width="1.2"/>
<ellipse cx="397.6" cy="1149.1" rx="6.5" ry="6.5" fill="#a8a8a8"/>
<ellipse cx="397.6" cy="1149.1" rx="6.5" ry="6.5" fill="url(#phl)"/>
<ellipse cx="397.6" cy="1149.1" rx="5.7" ry="5.7" fill="none" stroke="#fff" stroke-opacity="0.12" stroke-width="1.5"/>
<circle cx="397.4" cy="1146.9" r="1.9" fill="#fff" fill-opacity="0.08"/>
<circle cx="395.0" cy="1150.1" r="1.9" fill="#fff" fill-opacity="0.08"/>
<circle cx="399.8" cy="1150.4" r="1.9" fill="#fff" fill-opacity="0.08"/>
<ellipse cx="643.3" cy="1061.9" rx="9.4" ry="8.1" fill="none" stroke="#1e1e1e" stroke-opacity="0.3" stroke-width="1.2"/>
<ellipse cx="643.3" cy="1061.9" rx="8.8" ry="7.5" fill="#a8a8a8"/>
<ellipse cx="643.3" cy="1061.9" rx="8.8" ry="7.5" fill="url(#phl)"/>
<ellipse cx="643.3" cy="1061.9" rx="7.7" ry="6.6" fill="none" stroke="#fff" stroke-opacity="0.12" stroke-width="1.5"/>
<circle cx="646.2" cy="1062.4" r="2.2" fill="#fff" fill-opacity="0.08"/>
<circle cx="641.6" cy="1062.1" r="2.2" fill="#fff" fill-opacity="0.08"/>
<circle cx="642.5" cy="1059.8" r="2.2" fill="#fff" fill-opacity="0.08"/>
<ellipse cx="573.7" cy="1101" rx="7.8" ry="7.6" fill="none" stroke="#1e1e1e" stroke-opacity="0.3" stroke-width="1.2"/>
<ellipse cx="573.7" cy="1101" rx="7.2" ry="7" fill="#a8a8a8"/>
<ellipse cx="573.7" cy="1101" rx="7.2" ry="7" fill="url(#phl)"/>
<ellipse cx="573.7" cy="1101" rx="6.3" ry="6.2" fill="none" stroke="#fff" stroke-opacity="0.12" stroke-width="1.5"/>
<circle cx="571.2" cy="1098.8" r="2.1" fill="#fff" fill-opacity="0.08"/>
<circle cx="573.7" cy="1101.7" r="2.1" fill="#fff" fill-opacity="0.08"/>
<circle cx="572.9" cy="1103.5" r="2.1" fill="#fff" fill-opacity="0.08"/>
<ellipse cx="560" cy="1125" rx="8.6" ry="8.6" fill="none" stroke="#1e1e1e" stroke-opacity="0.3" stroke-width="1.2"/>
<ellipse cx="560" cy="1125" rx="8" ry="8" fill="#a8a8a8"/>
<ellipse cx="560" cy="1125" rx="8" ry="8" fill="url(#phl)"/>
<ellipse cx="560" cy="1125" rx="7.0" ry="7.0" fill="none" stroke="#fff" stroke-opacity="0.12" stroke-width="1.5"/>
<circle cx="560.4" cy="1126.3" r="2.4" fill="#fff" fill-opacity="0.08"/>
<circle cx="562.4" cy="1123.4" r="2.4" fill="#fff" fill-opacity="0.08"/>
<circle cx="556.6" cy="1126.3" r="2.4" fill="#fff" fill-opacity="0.08"/>
<ellipse cx="548" cy="1145.9" rx="7.9" ry="7.6" fill="none" stroke="#1e1e1e" stroke-opacity="0.3" stroke-width="1.2"/>
<ellipse cx="548" cy="1145.9" rx="7.3" ry="7" fill="#a8a8a8"/>
<ellipse cx="548" cy="1145.9" rx="7.3" ry="7" fill="url(#phl)"/>
<ellipse cx="548" cy="1145.9" rx="6.4" ry="6.2" fill="none" stroke="#fff" stroke-opacity="0.12" stroke-width="1.5"/>
<circle cx="546.8" cy="1148.2" r="2.1" fill="#fff" fill-opacity="0.08"/>
<circle cx="548.6" cy="1147.7" r="2.1" fill="#fff" fill-opacity="0.08"/>
<circle cx="549.2" cy="1142.8" r="2.1" fill="#fff" fill-opacity="0.08"/>
<ellipse cx="385.6" cy="966.6" rx="8.4" ry="8.2" fill="none" stroke="#1e1e1e" stroke-opacity="0.3" stroke-width="1.2"/>
<ellipse cx="385.6" cy="966.6" rx="7.8" ry="7.6" fill="#b9b9b9"/>
<ellipse cx="385.6" cy="966.6" rx="7.8" ry="7.6" fill="url(#phl)"/>
<ellipse cx="385.6" cy="966.6" rx="6.9" ry="6.7" fill="none" stroke="#fff" stroke-opacity="0.12" stroke-width="1.5"/>
<circle cx="387.0" cy="965.3" r="2.3" fill="#fff" fill-opacity="0.08"/>
<circle cx="384.1" cy="965.7" r="2.3" fill="#fff" fill-opacity="0.08"/>
<circle cx="387.1" cy="968.3" r="2.3" fill="#fff" fill-opacity="0.08"/>
<ellipse cx="600.9" cy="958.6" rx="8.6" ry="8.1" fill="none" stroke="#1e1e1e" stroke-opacity="0.3" stroke-width="1.2"/>
<ellipse cx="600.9" cy="958.6" rx="8" ry="7.5" fill="#b9b9b9"/>
<ellipse cx="600.9" cy="958.6" rx="8" ry="7.5" fill="url(#phl)"/>
<ellipse cx="600.9" cy="958.6" rx="7.0" ry="6.6" fill="none" stroke="#fff" stroke-opacity="0.12" stroke-width="1.5"/>
<circle cx="602.7" cy="955.8" r="2.2" fill="#fff" fill-opacity="0.08"/>
<circle cx="600.0" cy="955.1" r="2.2" fill="#fff" fill-opacity="0.08"/>
<circle cx="600.7" cy="959.8" r="2.2" fill="#fff" fill-opacity="0.08"/>
<ellipse cx="619.3" cy="1157.9" rx="7.9" ry="7.9" fill="none" stroke="#1e1e1e" stroke-opacity="0.3" stroke-width="1.2"/>
<ellipse cx="619.3" cy="1157.9" rx="7.3" ry="7.3" fill="#b9b9b9"/>
<ellipse cx="619.3" cy="1157.9" rx="7.3" ry="7.3" fill="url(#phl)"/>
<ellipse cx="619.3" cy="1157.9" rx="6.4" ry="6.4" fill="none" stroke="#fff" stroke-opacity="0.12" stroke-width="1.5"/>
<circle cx="617.8" cy="1158.4" r="2.2" fill="#fff" fill-opacity="0.08"/>
<circle cx="619.7" cy="1159.8" r="2.2" fill="#fff" fill-opacity="0.08"/>
<circle cx="617.8" cy="1156.4" r="2.2" fill="#fff" fill-opacity="0.08"/>
</g>
<rect x="353" y="929.5" width="322.7" height="321.5" filter="url(#noise)" opacity="0.45" style="mix-blend-mode:overlay"/>
</g>
<g clip-path="url(#cp2)">
<rect x="699" y="929.5" width="322.7" height="321.5" fill="#3b3b3b"/>
<radialGradient id="tg2_0"><stop offset="0" stop-color="#555" stop-opacity="0.45"/><stop offset="0.55" stop-color="#555" stop-opacity="0.27"/><stop offset="1" stop-color="#555" stop-opacity="0"/></radialGradient>
<ellipse cx="780" cy="1010" rx="90.0" ry="105.0" fill="url(#tg2_0)"/>
<radialGradient id="tg2_1"><stop offset="0" stop-color="#555" stop-opacity="0.45"/><stop offset="0.55" stop-color="#555" stop-opacity="0.27"/><stop offset="1" stop-color="#555" stop-opacity="0"/></radialGradient>
<ellipse cx="960" cy="960" rx="120.0" ry="60.0" fill="url(#tg2_1)"/>
<radialGradient id="tg2_2"><stop offset="0" stop-color="#525252" stop-opacity="0.4"/><stop offset="0.55" stop-color="#525252" stop-opacity="0.24"/><stop offset="1" stop-color="#525252" stop-opacity="0"/></radialGradient>
<ellipse cx="880" cy="1180" rx="75.0" ry="90.0" fill="url(#tg2_2)"/>
<radialGradient id="tg2_3"><stop offset="0" stop-color="#525252" stop-opacity="0.4"/><stop offset="0.55" stop-color="#525252" stop-opacity="0.24"/><stop offset="1" stop-color="#525252" stop-opacity="0"/></radialGradient>
<ellipse cx="990" cy="1170" rx="60.0" ry="105.0" fill="url(#tg2_3)"/>
<radialGradient id="tg2_4"><stop offset="0" stop-color="#505050" stop-opacity="0.35"/><stop offset="0.55" stop-color="#505050" stop-opacity="0.21"/><stop offset="1" stop-color="#505050" stop-opacity="0"/></radialGradient>
<ellipse cx="750" cy="1060" rx="60.0" ry="60.0" fill="url(#tg2_4)"/>
<radialGradient id="tg2_5"><stop offset="0" stop-color="#505050" stop-opacity="0.35"/><stop offset="0.55" stop-color="#505050" stop-opacity="0.21"/><stop offset="1" stop-color="#505050" stop-opacity="0"/></radialGradient>
<ellipse cx="760" cy="1240" rx="90.0" ry="37.5" fill="url(#tg2_5)"/>
<radialGradient id="tg2_6"><stop offset="0" stop-color="#4e4e4e" stop-opacity="0.35"/><stop offset="0.55" stop-color="#4e4e4e" stop-opacity="0.21"/><stop offset="1" stop-color="#4e4e4e" stop-opacity="0"/></radialGradient>
<ellipse cx="800" cy="1140" rx="60.0" ry="60.0" fill="url(#tg2_6)"/>
<g filter="url(#bl05)">
<ellipse cx="769.3" cy="949.8" rx="1.6" ry="1.5" fill="#0a0a0a" transform="rotate(0 769.3 949.8)"/>
<ellipse cx="802.1" cy="932.2" rx="1.6" ry="1.5" fill="#0a0a0a" transform="rotate(0 802.1 932.2)"/>
<ellipse cx="771.7" cy="975.4" rx="1.6" ry="1.5" fill="#0a0a0a" transform="rotate(0 771.7 975.4)"/>
<ellipse cx="823.7" cy="975.4" rx="1.6" ry="1.5" fill="#0a0a0a" transform="rotate(0 823.7 975.4)"/>
<ellipse cx="813.3" cy="985.1" rx="1.6" ry="1.5" fill="#0a0a0a" transform="rotate(0 813.3 985.1)"/>
<ellipse cx="703.6" cy="1004.3" rx="1.6" ry="1.5" fill="#0a0a0a" transform="rotate(0 703.6 1004.3)"/>
<ellipse cx="745.2" cy="1011.5" rx="1.6" ry="1.5" fill="#0a0a0a" transform="rotate(0 745.2 1011.5)"/>
<ellipse cx="799.7" cy="1017.9" rx="1.6" ry="1.5" fill="#0a0a0a" transform="rotate(0 799.7 1017.9)"/>
<ellipse cx="767.7" cy="1051.5" rx="1.6" ry="1.5" fill="#0a0a0a" transform="rotate(0 767.7 1051.5)"/>
<ellipse cx="810.9" cy="1052.3" rx="1.6" ry="1.5" fill="#0a0a0a" transform="rotate(0 810.9 1052.3)"/>
<ellipse cx="820.5" cy="1051.5" rx="1.6" ry="1.5" fill="#0a0a0a" transform="rotate(0 820.5 1051.5)"/>
<ellipse cx="722.8" cy="1065.9" rx="1.6" ry="1.5" fill="#0a0a0a" transform="rotate(0 722.8 1065.9)"/>
<ellipse cx="755.7" cy="1069.9" rx="1.6" ry="1.5" fill="#0a0a0a" transform="rotate(0 755.7 1069.9)"/>
<ellipse cx="746" cy="1075.5" rx="1.6" ry="1.5" fill="#0a0a0a" transform="rotate(0 746 1075.5)"/>
<ellipse cx="744.4" cy="1083.5" rx="1.6" ry="1.5" fill="#0a0a0a" transform="rotate(0 744.4 1083.5)"/>
<ellipse cx="831.7" cy="1078.7" rx="2.7" ry="1.4" fill="#0a0a0a" transform="rotate(0 831.7 1078.7)"/>
<ellipse cx="852.5" cy="1077.1" rx="1.6" ry="1.5" fill="#0a0a0a" transform="rotate(0 852.5 1077.1)"/>
<ellipse cx="998.9" cy="969.8" rx="1.6" ry="1.5" fill="#0a0a0a" transform="rotate(0 998.9 969.8)"/>
<ellipse cx="1006.9" cy="979.4" rx="1.6" ry="1.5" fill="#0a0a0a" transform="rotate(0 1006.9 979.4)"/>
<ellipse cx="906.8" cy="985.9" rx="1.6" ry="1.5" fill="#0a0a0a" transform="rotate(0 906.8 985.9)"/>
<ellipse cx="933.3" cy="980.2" rx="1.6" ry="1.5" fill="#0a0a0a" transform="rotate(0 933.3 980.2)"/>
<ellipse cx="972.5" cy="1009.9" rx="1.6" ry="1.5" fill="#0a0a0a" transform="rotate(0 972.5 1009.9)"/>
<ellipse cx="988.5" cy="1028.3" rx="1.6" ry="1.5" fill="#0a0a0a" transform="rotate(0 988.5 1028.3)"/>
<ellipse cx="954.1" cy="1033.9" rx="1.6" ry="1.5" fill="#0a0a0a" transform="rotate(0 954.1 1033.9)"/>
<ellipse cx="972.5" cy="1040.3" rx="1.6" ry="1.5" fill="#0a0a0a" transform="rotate(0 972.5 1040.3)"/>
<ellipse cx="877.2" cy="1045.9" rx="1.6" ry="1.5" fill="#0a0a0a" transform="rotate(0 877.2 1045.9)"/>
<ellipse cx="906.8" cy="1046.7" rx="1.6" ry="1.5" fill="#0a0a0a" transform="rotate(0 906.8 1046.7)"/>
<ellipse cx="890.8" cy="1052.3" rx="1.6" ry="1.5" fill="#0a0a0a" transform="rotate(0 890.8 1052.3)"/>
<ellipse cx="974.1" cy="1052.3" rx="1.6" ry="1.5" fill="#0a0a0a" transform="rotate(0 974.1 1052.3)"/>
<ellipse cx="954.1" cy="1057.9" rx="1.6" ry="1.5" fill="#0a0a0a" transform="rotate(0 954.1 1057.9)"/>
<ellipse cx="914.9" cy="1068.3" rx="1.6" ry="1.5" fill="#0a0a0a" transform="rotate(0 914.9 1068.3)"/>
<ellipse cx="990.1" cy="1069.9" rx="2.7" ry="1.4" fill="#0a0a0a" transform="rotate(0 990.1 1069.9)"/>
<ellipse cx="1019" cy="1073.1" rx="1.6" ry="1.5" fill="#0a0a0a" transform="rotate(0 1019 1073.1)"/>
<ellipse cx="877.2" cy="1077.1" rx="1.6" ry="1.5" fill="#0a0a0a" transform="rotate(0 877.2 1077.1)"/>
<ellipse cx="890" cy="1086" rx="1.6" ry="1.5" fill="#0a0a0a" transform="rotate(0 890 1086)"/>
<ellipse cx="923.7" cy="1086.8" rx="1.6" ry="1.5" fill="#0a0a0a" transform="rotate(0 923.7 1086.8)"/>
<ellipse cx="702.8" cy="1101.8" rx="1.6" ry="1.5" fill="#0a0a0a" transform="rotate(0 702.8 1101.8)"/>
<ellipse cx="706" cy="1107.4" rx="1.6" ry="1.5" fill="#0a0a0a" transform="rotate(0 706 1107.4)"/>
<ellipse cx="768.5" cy="1095.4" rx="1.6" ry="1.5" fill="#0a0a0a" transform="rotate(0 768.5 1095.4)"/>
<ellipse cx="746.8" cy="1113.8" rx="1.6" ry="1.5" fill="#0a0a0a" transform="rotate(0 746.8 1113.8)"/>
<ellipse cx="854.1" cy="1099.4" rx="1.6" ry="1.5" fill="#0a0a0a" transform="rotate(0 854.1 1099.4)"/>
<ellipse cx="842.9" cy="1117.8" rx="1.6" ry="1.5" fill="#0a0a0a" transform="rotate(0 842.9 1117.8)"/>
<ellipse cx="722.8" cy="1176.3" rx="1.6" ry="1.5" fill="#0a0a0a" transform="rotate(0 722.8 1176.3)"/>
<ellipse cx="796.5" cy="1170.7" rx="1.6" ry="1.5" fill="#0a0a0a" transform="rotate(0 796.5 1170.7)"/>
<ellipse cx="786.1" cy="1177.9" rx="1.6" ry="1.5" fill="#0a0a0a" transform="rotate(0 786.1 1177.9)"/>
<ellipse cx="807.7" cy="1181.9" rx="1.6" ry="1.5" fill="#0a0a0a" transform="rotate(0 807.7 1181.9)"/>
<ellipse cx="827.7" cy="1179.5" rx="1.6" ry="1.5" fill="#0a0a0a" transform="rotate(0 827.7 1179.5)"/>
<ellipse cx="764.5" cy="1205.1" rx="1.6" ry="1.5" fill="#0a0a0a" transform="rotate(0 764.5 1205.1)"/>
<ellipse cx="738.8" cy="1246" rx="1.6" ry="1.5" fill="#0a0a0a" transform="rotate(0 738.8 1246)"/>
<ellipse cx="723.6" cy="1092.2" rx="1.1" ry="2.7" fill="#0a0a0a" transform="rotate(0 723.6 1092.2)"/>
<ellipse cx="872.4" cy="1095.4" rx="1.6" ry="1.5" fill="#0a0a0a" transform="rotate(0 872.4 1095.4)"/>
<ellipse cx="873.2" cy="1108.2" rx="1.6" ry="1.5" fill="#0a0a0a" transform="rotate(0 873.2 1108.2)"/>
<ellipse cx="912.5" cy="1096.2" rx="2.7" ry="1.4" fill="#0a0a0a" transform="rotate(-15 912.5 1096.2)"/>
<ellipse cx="966.9" cy="1091.4" rx="1.6" ry="1.5" fill="#0a0a0a" transform="rotate(0 966.9 1091.4)"/>
<ellipse cx="996.5" cy="1092.2" rx="2.2" ry="1.6" fill="#0a0a0a" transform="rotate(0 996.5 1092.2)"/>
<ellipse cx="1018.2" cy="1101.8" rx="1.6" ry="1.5" fill="#0a0a0a" transform="rotate(0 1018.2 1101.8)"/>
<ellipse cx="968.5" cy="1125.8" rx="1.6" ry="1.5" fill="#0a0a0a" transform="rotate(0 968.5 1125.8)"/>
<ellipse cx="921.3" cy="1131.4" rx="1.6" ry="1.5" fill="#0a0a0a" transform="rotate(0 921.3 1131.4)"/>
<ellipse cx="882.8" cy="1128.2" rx="1.6" ry="1.5" fill="#0a0a0a" transform="rotate(0 882.8 1128.2)"/>
<ellipse cx="890" cy="1132.2" rx="1.6" ry="1.5" fill="#0a0a0a" transform="rotate(0 890 1132.2)"/>
<ellipse cx="990.9" cy="1135.4" rx="1.6" ry="1.5" fill="#0a0a0a" transform="rotate(0 990.9 1135.4)"/>
<ellipse cx="898" cy="1197.9" rx="1.6" ry="1.5" fill="#0a0a0a" transform="rotate(0 898 1197.9)"/>
<ellipse cx="922.1" cy="1214.7" rx="2.2" ry="2.7" fill="#0a0a0a" transform="rotate(0 922.1 1214.7)"/>
<ellipse cx="1019" cy="1232.3" rx="1.6" ry="1.5" fill="#0a0a0a" transform="rotate(0 1019 1232.3)"/>
<ellipse cx="874" cy="1238" rx="1.6" ry="1.5" fill="#0a0a0a" transform="rotate(0 874 1238)"/>
<ellipse cx="914.1" cy="1243.5" rx="1.6" ry="1.5" fill="#0a0a0a" transform="rotate(0 914.1 1243.5)"/>
</g>
<g filter="url(#bl12)">
<ellipse cx="906" cy="961" rx="8.5" ry="7.4" fill="#626262"/>
<circle cx="903.8" cy="965.5" r="3.4" fill="#6a6a6a" fill-opacity="0.7"/>
<circle cx="907.4" cy="961.6" r="3.2" fill="#656565" fill-opacity="0.7"/>
<circle cx="904.9" cy="957.4" r="2.4" fill="#6f6f6f" fill-opacity="0.7"/>
<circle cx="908.1" cy="961.2" r="2.6" fill="#656565" fill-opacity="0.7"/>
<circle cx="907.2" cy="959.0" r="2.2" fill="#656565" fill-opacity="0.7"/>
<circle cx="903.5" cy="958.7" r="2.9" fill="#6d6d6d" fill-opacity="0.7"/>
<circle cx="908.2" cy="955.9" r="2.9" fill="#676767" fill-opacity="0.7"/>
<ellipse cx="730" cy="1230" rx="7.4" ry="7.4" fill="#626262"/>
<circle cx="728.0" cy="1230.3" r="2.0" fill="#6a6a6a" fill-opacity="0.7"/>
<circle cx="729.6" cy="1228.1" r="2.4" fill="#696969" fill-opacity="0.7"/>
<circle cx="728.9" cy="1226.7" r="2.9" fill="#6e6e6e" fill-opacity="0.7"/>
<circle cx="726.3" cy="1232.9" r="3.3" fill="#656565" fill-opacity="0.7"/>
<circle cx="734.0" cy="1228.2" r="2.2" fill="#6a6a6a" fill-opacity="0.7"/>
<circle cx="726.3" cy="1226.3" r="2.5" fill="#6c6c6c" fill-opacity="0.7"/>
<ellipse cx="819.7" cy="941.8" rx="10.6" ry="9.5" fill="#686868"/>
<circle cx="824.6" cy="937.6" r="4.2" fill="#717171" fill-opacity="0.7"/>
<circle cx="817.9" cy="939.6" r="3.9" fill="#777777" fill-opacity="0.7"/>
<circle cx="815.8" cy="937.4" r="3.0" fill="#797979" fill-opacity="0.7"/>
<circle cx="827.5" cy="940.9" r="3.5" fill="#777777" fill-opacity="0.7"/>
<circle cx="816.5" cy="947.9" r="4.1" fill="#6f6f6f" fill-opacity="0.7"/>
<circle cx="823.6" cy="943.8" r="3.6" fill="#767676" fill-opacity="0.7"/>
<circle cx="817.8" cy="941.9" r="4.0" fill="#6b6b6b" fill-opacity="0.7"/>
<circle cx="820.6" cy="939.4" r="3.2" fill="#777777" fill-opacity="0.7"/>
<circle cx="821.4" cy="943.7" r="3.5" fill="#767676" fill-opacity="0.7"/>
<circle cx="823.0" cy="937.2" r="4.3" fill="#727272" fill-opacity="0.7"/>
<circle cx="821.9" cy="941.2" r="3.0" fill="#727272" fill-opacity="0.7"/>
<ellipse cx="898" cy="948.2" rx="11.6" ry="10.6" fill="#686868"/>
<circle cx="896.3" cy="954.3" r="4.1" fill="#727272" fill-opacity="0.7"/>
<circle cx="901.2" cy="943.8" r="3.5" fill="#707070" fill-opacity="0.7"/>
<circle cx="902.6" cy="942.1" r="3.3" fill="#787878" fill-opacity="0.7"/>
<circle cx="903.4" cy="947.2" r="4.0" fill="#6d6d6d" fill-opacity="0.7"/>
<circle cx="892.7" cy="947.1" r="4.1" fill="#6b6b6b" fill-opacity="0.7"/>
<circle cx="903.4" cy="947.2" r="3.7" fill="#777777" fill-opacity="0.7"/>
<circle cx="893.1" cy="946.3" r="4.2" fill="#6b6b6b" fill-opacity="0.7"/>
<circle cx="893.4" cy="947.2" r="4.7" fill="#797979" fill-opacity="0.7"/>
<circle cx="897.4" cy="952.9" r="3.1" fill="#717171" fill-opacity="0.7"/>
<circle cx="901.3" cy="941.4" r="3.8" fill="#6f6f6f" fill-opacity="0.7"/>
<circle cx="900.2" cy="953.5" r="4.7" fill="#6c6c6c" fill-opacity="0.7"/>
<circle cx="898.4" cy="946.4" r="3.3" fill="#6e6e6e" fill-opacity="0.7"/>
<circle cx="896.4" cy="944.7" r="3.6" fill="#747474" fill-opacity="0.7"/>
<circle cx="903.5" cy="952.1" r="3.1" fill="#727272" fill-opacity="0.7"/>
<ellipse cx="962.1" cy="938.6" rx="10.6" ry="9.5" fill="#686868"/>
<circle cx="962.1" cy="941.3" r="3.5" fill="#717171" fill-opacity="0.7"/>
<circle cx="959.0" cy="941.3" r="3.5" fill="#6d6d6d" fill-opacity="0.7"/>
<circle cx="963.7" cy="943.5" r="3.7" fill="#727272" fill-opacity="0.7"/>
<circle cx="965.4" cy="934.5" r="4.1" fill="#6e6e6e" fill-opacity="0.7"/>
<circle cx="961.7" cy="932.4" r="4.2" fill="#6f6f6f" fill-opacity="0.7"/>
<circle cx="959.1" cy="944.8" r="3.0" fill="#7a7a7a" fill-opacity="0.7"/>
<circle cx="964.1" cy="937.1" r="3.0" fill="#767676" fill-opacity="0.7"/>
<circle cx="962.0" cy="940.7" r="4.1" fill="#717171" fill-opacity="0.7"/>
<circle cx="962.7" cy="936.4" r="3.3" fill="#757575" fill-opacity="0.7"/>
<circle cx="965.1" cy="938.9" r="3.8" fill="#797979" fill-opacity="0.7"/>
<circle cx="964.5" cy="938.2" r="3.5" fill="#767676" fill-opacity="0.7"/>
<ellipse cx="1000.5" cy="943.4" rx="10.6" ry="12.7" fill="#686868"/>
<circle cx="994.4" cy="943.3" r="3.2" fill="#6b6b6b" fill-opacity="0.7"/>
<circle cx="1002.0" cy="944.9" r="4.0" fill="#727272" fill-opacity="0.7"/>
<circle cx="998.1" cy="942.1" r="3.2" fill="#6d6d6d" fill-opacity="0.7"/>
<circle cx="1004.8" cy="935.3" r="4.7" fill="#6c6c6c" fill-opacity="0.7"/>
<circle cx="1007.7" cy="946.9" r="3.8" fill="#767676" fill-opacity="0.7"/>
<circle cx="998.3" cy="948.4" r="3.9" fill="#717171" fill-opacity="0.7"/>
<circle cx="999.0" cy="942.1" r="4.2" fill="#787878" fill-opacity="0.7"/>
<circle cx="1002.4" cy="948.4" r="4.3" fill="#707070" fill-opacity="0.7"/>
<circle cx="1001.4" cy="946.5" r="3.9" fill="#6a6a6a" fill-opacity="0.7"/>
<circle cx="1005.8" cy="938.3" r="4.3" fill="#787878" fill-opacity="0.7"/>
<circle cx="997.6" cy="939.7" r="4.0" fill="#727272" fill-opacity="0.7"/>
<circle cx="1007.3" cy="942.5" r="3.4" fill="#797979" fill-opacity="0.7"/>
<circle cx="1000.3" cy="935.4" r="4.5" fill="#707070" fill-opacity="0.7"/>
<circle cx="1006.3" cy="938.1" r="4.2" fill="#767676" fill-opacity="0.7"/>
<circle cx="1000.9" cy="938.3" r="4.3" fill="#6b6b6b" fill-opacity="0.7"/>
<ellipse cx="733.2" cy="1105" rx="8.5" ry="8.5" fill="#686868"/>
<circle cx="731.2" cy="1108.1" r="2.3" fill="#707070" fill-opacity="0.7"/>
<circle cx="730.3" cy="1101.5" r="2.7" fill="#797979" fill-opacity="0.7"/>
<circle cx="731.6" cy="1102.3" r="3.3" fill="#737373" fill-opacity="0.7"/>
<circle cx="729.9" cy="1104.3" r="3.9" fill="#747474" fill-opacity="0.7"/>
<circle cx="731.6" cy="1100.0" r="3.8" fill="#6a6a6a" fill-opacity="0.7"/>
<circle cx="729.4" cy="1101.6" r="2.7" fill="#707070" fill-opacity="0.7"/>
<circle cx="735.5" cy="1105.7" r="2.9" fill="#6c6c6c" fill-opacity="0.7"/>
<circle cx="733.2" cy="1111.0" r="3.2" fill="#727272" fill-opacity="0.7"/>
<ellipse cx="746" cy="1242.7" rx="8.5" ry="7.4" fill="#686868"/>
<circle cx="750.2" cy="1241.9" r="3.4" fill="#747474" fill-opacity="0.7"/>
<circle cx="746.6" cy="1241.3" r="2.8" fill="#767676" fill-opacity="0.7"/>
<circle cx="751.8" cy="1244.2" r="2.2" fill="#717171" fill-opacity="0.7"/>
<circle cx="747.9" cy="1245.7" r="2.8" fill="#6b6b6b" fill-opacity="0.7"/>
<circle cx="749.3" cy="1241.7" r="2.7" fill="#737373" fill-opacity="0.7"/>
<circle cx="744.1" cy="1244.5" r="2.9" fill="#737373" fill-opacity="0.7"/>
<circle cx="745.0" cy="1247.0" r="2.4" fill="#6a6a6a" fill-opacity="0.7"/>
<ellipse cx="862.8" cy="1191.5" rx="7.4" ry="7.4" fill="#686868"/>
<circle cx="862.8" cy="1192.9" r="2.2" fill="#767676" fill-opacity="0.7"/>
<circle cx="858.8" cy="1194.8" r="3.0" fill="#6b6b6b" fill-opacity="0.7"/>
<circle cx="868.2" cy="1191.1" r="2.1" fill="#797979" fill-opacity="0.7"/>
<circle cx="859.8" cy="1192.9" r="3.3" fill="#6e6e6e" fill-opacity="0.7"/>
<circle cx="857.5" cy="1190.7" r="3.0" fill="#717171" fill-opacity="0.7"/>
<circle cx="867.6" cy="1190.9" r="2.8" fill="#6c6c6c" fill-opacity="0.7"/>
<ellipse cx="973.3" cy="1185.1" rx="8.5" ry="7.4" fill="#686868"/>
<circle cx="970.7" cy="1182.8" r="2.3" fill="#6b6b6b" fill-opacity="0.7"/>
<circle cx="971.3" cy="1184.8" r="2.6" fill="#757575" fill-opacity="0.7"/>
<circle cx="970.7" cy="1185.8" r="2.8" fill="#717171" fill-opacity="0.7"/>
<circle cx="974.0" cy="1181.6" r="3.4" fill="#797979" fill-opacity="0.7"/>
<circle cx="973.0" cy="1182.8" r="2.2" fill="#787878" fill-opacity="0.7"/>
<circle cx="974.3" cy="1181.2" r="2.5" fill="#6e6e6e" fill-opacity="0.7"/>
<circle cx="971.6" cy="1181.7" r="2.8" fill="#747474" fill-opacity="0.7"/>
<ellipse cx="747.6" cy="1143.5" rx="28.6" ry="26.4" fill="#6a6a6a"/>
<circle cx="747.8" cy="1136.2" r="8.4" fill="#7d7d7d" fill-opacity="0.7"/>
<circle cx="764.6" cy="1134.3" r="7.4" fill="#6e6e6e" fill-opacity="0.7"/>
<circle cx="746.0" cy="1154.4" r="10.2" fill="#6e6e6e" fill-opacity="0.7"/>
<circle cx="741.9" cy="1142.1" r="7.6" fill="#787878" fill-opacity="0.7"/>
<circle cx="732.9" cy="1139.0" r="9.0" fill="#757575" fill-opacity="0.7"/>
<circle cx="750.2" cy="1153.0" r="10.8" fill="#7b7b7b" fill-opacity="0.7"/>
<circle cx="753.6" cy="1146.3" r="11.1" fill="#777777" fill-opacity="0.7"/>
<circle cx="748.6" cy="1135.9" r="9.3" fill="#717171" fill-opacity="0.7"/>
<circle cx="751.6" cy="1134.1" r="10.4" fill="#7e7e7e" fill-opacity="0.7"/>
<circle cx="741.2" cy="1155.1" r="10.8" fill="#7c7c7c" fill-opacity="0.7"/>
<circle cx="737.8" cy="1148.0" r="7.7" fill="#7c7c7c" fill-opacity="0.7"/>
<circle cx="753.0" cy="1146.2" r="9.9" fill="#757575" fill-opacity="0.7"/>
<circle cx="743.7" cy="1135.2" r="11.0" fill="#6e6e6e" fill-opacity="0.7"/>
<circle cx="751.3" cy="1157.9" r="7.6" fill="#727272" fill-opacity="0.7"/>
<circle cx="745.0" cy="1128.4" r="8.6" fill="#6f6f6f" fill-opacity="0.7"/>
<circle cx="736.9" cy="1155.8" r="9.0" fill="#6e6e6e" fill-opacity="0.7"/>
<circle cx="744.0" cy="1130.6" r="11.7" fill="#7d7d7d" fill-opacity="0.7"/>
<circle cx="758.0" cy="1137.7" r="11.1" fill="#727272" fill-opacity="0.7"/>
<circle cx="742.9" cy="1153.2" r="11.8" fill="#7c7c7c" fill-opacity="0.7"/>
<circle cx="747.7" cy="1153.5" r="9.0" fill="#737373" fill-opacity="0.7"/>
<circle cx="738.7" cy="1149.9" r="8.1" fill="#767676" fill-opacity="0.7"/>
<circle cx="751.6" cy="1131.2" r="11.3" fill="#767676" fill-opacity="0.7"/>
<circle cx="755.4" cy="1158.1" r="11.5" fill="#717171" fill-opacity="0.7"/>
<circle cx="760.9" cy="1145.2" r="9.8" fill="#767676" fill-opacity="0.7"/>
<circle cx="763.0" cy="1140.4" r="11.1" fill="#6e6e6e" fill-opacity="0.7"/>
<circle cx="730.3" cy="1138.6" r="7.6" fill="#6e6e6e" fill-opacity="0.7"/>
<circle cx="746.0" cy="1125.0" r="7.6" fill="#777777" fill-opacity="0.7"/>
<circle cx="758.4" cy="1156.2" r="10.4" fill="#717171" fill-opacity="0.7"/>
<circle cx="750.9" cy="1159.6" r="9.7" fill="#7a7a7a" fill-opacity="0.7"/>
<circle cx="739.4" cy="1149.4" r="11.9" fill="#787878" fill-opacity="0.7"/>
<circle cx="733.8" cy="1144.0" r="10.7" fill="#797979" fill-opacity="0.7"/>
<circle cx="757.6" cy="1138.0" r="11.2" fill="#787878" fill-opacity="0.7"/>
<circle cx="758.8" cy="1129.9" r="11.3" fill="#7c7c7c" fill-opacity="0.7"/>
<circle cx="762.6" cy="1139.7" r="9.7" fill="#797979" fill-opacity="0.7"/>
<circle cx="751.4" cy="1133.1" r="9.2" fill="#6f6f6f" fill-opacity="0.7"/>
<circle cx="746.4" cy="1123.5" r="9.0" fill="#6f6f6f" fill-opacity="0.7"/>
<circle cx="751.0" cy="1154.1" r="8.6" fill="#7d7d7d" fill-opacity="0.7"/>
<circle cx="756.8" cy="1146.8" r="7.7" fill="#777777" fill-opacity="0.7"/>
<circle cx="748.9" cy="1136.4" r="7.5" fill="#747474" fill-opacity="0.7"/>
<circle cx="730.2" cy="1134.1" r="7.4" fill="#6e6e6e" fill-opacity="0.7"/>
<circle cx="750.9" cy="1150.6" r="8.3" fill="#797979" fill-opacity="0.7"/>
<circle cx="740.6" cy="1139.1" r="8.1" fill="#717171" fill-opacity="0.7"/>
<circle cx="755.8" cy="1157.9" r="8.7" fill="#767676" fill-opacity="0.7"/>
<circle cx="752.9" cy="1132.6" r="8.5" fill="#7c7c7c" fill-opacity="0.7"/>
<circle cx="756.6" cy="1138.5" r="9.9" fill="#7d7d7d" fill-opacity="0.7"/>
<circle cx="739.2" cy="1144.4" r="7.4" fill="#7d7d7d" fill-opacity="0.7"/>
<circle cx="751.2" cy="1133.6" r="9.8" fill="#757575" fill-opacity="0.7"/>
<circle cx="744.3" cy="1163.2" r="10.4" fill="#707070" fill-opacity="0.7"/>
<circle cx="760.3" cy="1144.3" r="9.0" fill="#7a7a7a" fill-opacity="0.7"/>
<circle cx="744.2" cy="1130.0" r="8.0" fill="#6f6f6f" fill-opacity="0.7"/>
<circle cx="743.6" cy="1151.1" r="11.4" fill="#757575" fill-opacity="0.7"/>
<circle cx="733.5" cy="1128.3" r="8.5" fill="#757575" fill-opacity="0.7"/>
<circle cx="758.0" cy="1156.9" r="7.2" fill="#7b7b7b" fill-opacity="0.7"/>
<circle cx="758.2" cy="1129.3" r="7.6" fill="#717171" fill-opacity="0.7"/>
<circle cx="746.3" cy="1137.8" r="9.5" fill="#747474" fill-opacity="0.7"/>
<circle cx="761.7" cy="1139.7" r="11.4" fill="#727272" fill-opacity="0.7"/>
<circle cx="750.5" cy="1132.9" r="11.7" fill="#6e6e6e" fill-opacity="0.7"/>
<circle cx="751.4" cy="1136.7" r="9.8" fill="#757575" fill-opacity="0.7"/>
<circle cx="758.0" cy="1158.1" r="8.7" fill="#727272" fill-opacity="0.7"/>
<circle cx="756.4" cy="1147.7" r="9.5" fill="#797979" fill-opacity="0.7"/>
<circle cx="737.2" cy="1155.2" r="7.7" fill="#737373" fill-opacity="0.7"/>
<circle cx="727.0" cy="1148.2" r="11.2" fill="#787878" fill-opacity="0.7"/>
<circle cx="758.7" cy="1144.3" r="10.7" fill="#707070" fill-opacity="0.7"/>
<circle cx="736.1" cy="1139.0" r="7.2" fill="#7e7e7e" fill-opacity="0.7"/>
<circle cx="750.1" cy="1136.3" r="10.2" fill="#717171" fill-opacity="0.7"/>
<circle cx="737.7" cy="1152.5" r="8.6" fill="#727272" fill-opacity="0.7"/>
<circle cx="735.1" cy="1152.8" r="8.4" fill="#707070" fill-opacity="0.7"/>
<circle cx="746.4" cy="1134.0" r="11.8" fill="#767676" fill-opacity="0.7"/>
<circle cx="745.9" cy="1134.1" r="11.2" fill="#6e6e6e" fill-opacity="0.7"/>
<circle cx="751.6" cy="1148.0" r="10.5" fill="#797979" fill-opacity="0.7"/>
<circle cx="752.5" cy="1153.2" r="11.3" fill="#777777" fill-opacity="0.7"/>
<circle cx="754.8" cy="1147.7" r="8.0" fill="#6f6f6f" fill-opacity="0.7"/>
<circle cx="742.7" cy="1146.5" r="11.7" fill="#747474" fill-opacity="0.7"/>
<circle cx="731.9" cy="1142.4" r="10.9" fill="#7b7b7b" fill-opacity="0.7"/>
<circle cx="739.8" cy="1149.8" r="9.2" fill="#6d6d6d" fill-opacity="0.7"/>
<circle cx="734.1" cy="1152.5" r="12.0" fill="#7a7a7a" fill-opacity="0.7"/>
<circle cx="739.6" cy="1131.7" r="7.3" fill="#727272" fill-opacity="0.7"/>
<circle cx="739.0" cy="1155.7" r="7.7" fill="#737373" fill-opacity="0.7"/>
<circle cx="729.5" cy="1142.5" r="11.2" fill="#777777" fill-opacity="0.7"/>
<circle cx="757.3" cy="1157.3" r="11.6" fill="#767676" fill-opacity="0.7"/>
<circle cx="739.7" cy="1153.3" r="7.9" fill="#797979" fill-opacity="0.7"/>
<circle cx="761.0" cy="1142.5" r="10.7" fill="#7b7b7b" fill-opacity="0.7"/>
<circle cx="754.4" cy="1161.7" r="10.3" fill="#707070" fill-opacity="0.7"/>
<circle cx="755.3" cy="1147.6" r="10.0" fill="#787878" fill-opacity="0.7"/>
<circle cx="737.8" cy="1160.2" r="9.0" fill="#747474" fill-opacity="0.7"/>
<circle cx="762.7" cy="1157.3" r="7.9" fill="#7c7c7c" fill-opacity="0.7"/>
<circle cx="733.9" cy="1139.9" r="9.9" fill="#717171" fill-opacity="0.7"/>
<circle cx="765.8" cy="1132.7" r="11.2" fill="#777777" fill-opacity="0.7"/>
<circle cx="761.0" cy="1155.6" r="8.6" fill="#7c7c7c" fill-opacity="0.7"/>
<ellipse cx="776.5" cy="1020.3" rx="8.5" ry="8.5" fill="#6d6d6d"/>
<circle cx="776.7" cy="1024.6" r="3.6" fill="#747474" fill-opacity="0.7"/>
<circle cx="774.8" cy="1019.8" r="2.4" fill="#737373" fill-opacity="0.7"/>
<circle cx="782.6" cy="1019.8" r="3.3" fill="#767676" fill-opacity="0.7"/>
<circle cx="774.1" cy="1015.8" r="2.9" fill="#7b7b7b" fill-opacity="0.7"/>
<circle cx="777.0" cy="1018.9" r="2.6" fill="#797979" fill-opacity="0.7"/>
<circle cx="778.6" cy="1022.9" r="3.2" fill="#737373" fill-opacity="0.7"/>
<circle cx="773.8" cy="1020.0" r="3.2" fill="#767676" fill-opacity="0.7"/>
<circle cx="775.5" cy="1019.1" r="3.3" fill="#737373" fill-opacity="0.7"/>
<ellipse cx="795.7" cy="1082.7" rx="7.4" ry="7.4" fill="#6d6d6d"/>
<circle cx="799.4" cy="1081.7" r="2.7" fill="#787878" fill-opacity="0.7"/>
<circle cx="792.7" cy="1079.7" r="3.0" fill="#7e7e7e" fill-opacity="0.7"/>
<circle cx="790.1" cy="1083.2" r="3.2" fill="#818181" fill-opacity="0.7"/>
<circle cx="793.1" cy="1084.4" r="2.8" fill="#828282" fill-opacity="0.7"/>
<circle cx="792.2" cy="1082.1" r="2.6" fill="#828282" fill-opacity="0.7"/>
<circle cx="795.1" cy="1084.0" r="3.0" fill="#818181" fill-opacity="0.7"/>
<ellipse cx="941.3" cy="957.8" rx="13.8" ry="11.6" fill="#6d6d6d"/>
<circle cx="940.5" cy="951.8" r="4.8" fill="#767676" fill-opacity="0.7"/>
<circle cx="939.0" cy="956.5" r="3.4" fill="#787878" fill-opacity="0.7"/>
<circle cx="935.8" cy="957.7" r="3.3" fill="#7d7d7d" fill-opacity="0.7"/>
<circle cx="937.1" cy="957.2" r="3.8" fill="#787878" fill-opacity="0.7"/>
<circle cx="941.5" cy="960.2" r="5.1" fill="#838383" fill-opacity="0.7"/>
<circle cx="936.6" cy="951.0" r="4.1" fill="#808080" fill-opacity="0.7"/>
<circle cx="942.8" cy="964.8" r="4.4" fill="#818181" fill-opacity="0.7"/>
<circle cx="948.4" cy="962.1" r="3.4" fill="#7a7a7a" fill-opacity="0.7"/>
<circle cx="943.4" cy="957.2" r="3.7" fill="#767676" fill-opacity="0.7"/>
<circle cx="940.1" cy="959.9" r="5.1" fill="#808080" fill-opacity="0.7"/>
<circle cx="937.2" cy="960.4" r="4.4" fill="#717171" fill-opacity="0.7"/>
<circle cx="950.7" cy="959.4" r="3.8" fill="#797979" fill-opacity="0.7"/>
<circle cx="950.7" cy="954.3" r="4.2" fill="#747474" fill-opacity="0.7"/>
<circle cx="938.5" cy="965.8" r="5.1" fill="#747474" fill-opacity="0.7"/>
<circle cx="944.0" cy="954.1" r="4.2" fill="#737373" fill-opacity="0.7"/>
<circle cx="948.9" cy="951.7" r="3.6" fill="#7c7c7c" fill-opacity="0.7"/>
<circle cx="944.7" cy="965.3" r="3.3" fill="#727272" fill-opacity="0.7"/>
<circle cx="940.6" cy="953.8" r="5.1" fill="#818181" fill-opacity="0.7"/>
<ellipse cx="974.9" cy="958.6" rx="14.8" ry="12.7" fill="#6d6d6d"/>
<circle cx="974.1" cy="955.6" r="5.1" fill="#828282" fill-opacity="0.7"/>
<circle cx="972.0" cy="959.5" r="4.0" fill="#767676" fill-opacity="0.7"/>
<circle cx="973.9" cy="955.1" r="3.9" fill="#757575" fill-opacity="0.7"/>
<circle cx="970.1" cy="951.7" r="4.3" fill="#7d7d7d" fill-opacity="0.7"/>
<circle cx="980.6" cy="954.3" r="4.0" fill="#767676" fill-opacity="0.7"/>
<circle cx="982.4" cy="955.4" r="4.1" fill="#7c7c7c" fill-opacity="0.7"/>
<circle cx="984.3" cy="963.7" r="4.5" fill="#7a7a7a" fill-opacity="0.7"/>
<circle cx="972.1" cy="958.1" r="4.9" fill="#757575" fill-opacity="0.7"/>
<circle cx="974.8" cy="966.8" r="3.7" fill="#757575" fill-opacity="0.7"/>
<circle cx="975.1" cy="954.7" r="4.1" fill="#7a7a7a" fill-opacity="0.7"/>
<circle cx="978.9" cy="966.8" r="5.8" fill="#717171" fill-opacity="0.7"/>
<circle cx="966.1" cy="960.5" r="4.4" fill="#828282" fill-opacity="0.7"/>
<circle cx="970.9" cy="958.6" r="4.8" fill="#7c7c7c" fill-opacity="0.7"/>
<circle cx="969.7" cy="964.1" r="5.3" fill="#7a7a7a" fill-opacity="0.7"/>
<circle cx="965.0" cy="958.3" r="5.1" fill="#7a7a7a" fill-opacity="0.7"/>
<circle cx="978.7" cy="957.6" r="5.3" fill="#737373" fill-opacity="0.7"/>
<circle cx="971.4" cy="956.2" r="4.5" fill="#7f7f7f" fill-opacity="0.7"/>
<circle cx="977.0" cy="950.7" r="4.0" fill="#797979" fill-opacity="0.7"/>
<circle cx="976.3" cy="965.0" r="4.6" fill="#717171" fill-opacity="0.7"/>
<circle cx="967.7" cy="954.3" r="4.8" fill="#818181" fill-opacity="0.7"/>
<circle cx="976.5" cy="961.5" r="3.5" fill="#797979" fill-opacity="0.7"/>
<circle cx="969.1" cy="960.8" r="4.1" fill="#7f7f7f" fill-opacity="0.7"/>
<ellipse cx="714" cy="1097.8" rx="8.5" ry="8.5" fill="#6d6d6d"/>
<circle cx="719.4" cy="1100.4" r="3.2" fill="#7a7a7a" fill-opacity="0.7"/>
<circle cx="714.7" cy="1095.3" r="2.5" fill="#767676" fill-opacity="0.7"/>
<circle cx="716.9" cy="1098.6" r="3.3" fill="#7a7a7a" fill-opacity="0.7"/>
<circle cx="713.6" cy="1102.1" r="2.4" fill="#808080" fill-opacity="0.7"/>
<circle cx="715.3" cy="1100.2" r="2.5" fill="#7d7d7d" fill-opacity="0.7"/>
<circle cx="716.6" cy="1093.1" r="2.4" fill="#787878" fill-opacity="0.7"/>
<circle cx="712.4" cy="1099.7" r="3.8" fill="#717171" fill-opacity="0.7"/>
<circle cx="708.8" cy="1098.1" r="3.8" fill="#737373" fill-opacity="0.7"/>
<ellipse cx="715.6" cy="1191.5" rx="8.5" ry="8.5" fill="#6d6d6d"/>
<circle cx="710.7" cy="1192.9" r="2.4" fill="#757575" fill-opacity="0.7"/>
<circle cx="717.2" cy="1190.2" r="2.9" fill="#767676" fill-opacity="0.7"/>
<circle cx="714.0" cy="1192.3" r="2.4" fill="#838383" fill-opacity="0.7"/>
<circle cx="716.0" cy="1186.4" r="2.7" fill="#757575" fill-opacity="0.7"/>
<circle cx="713.1" cy="1190.7" r="3.0" fill="#828282" fill-opacity="0.7"/>
<circle cx="713.6" cy="1193.8" r="3.8" fill="#7c7c7c" fill-opacity="0.7"/>
<circle cx="718.9" cy="1192.3" r="3.3" fill="#717171" fill-opacity="0.7"/>
<circle cx="712.9" cy="1195.6" r="3.7" fill="#7b7b7b" fill-opacity="0.7"/>
<ellipse cx="798.9" cy="1238" rx="10.2" ry="10.2" fill="#6d6d6d"/>
<circle cx="802.3" cy="1235.1" r="3.5" fill="#808080" fill-opacity="0.7"/>
<circle cx="794.2" cy="1242.3" r="3.2" fill="#777777" fill-opacity="0.7"/>
<circle cx="800.9" cy="1242.6" r="3.1" fill="#747474" fill-opacity="0.7"/>
<circle cx="799.9" cy="1242.4" r="3.3" fill="#797979" fill-opacity="0.7"/>
<circle cx="804.7" cy="1237.8" r="4.4" fill="#747474" fill-opacity="0.7"/>
<circle cx="797.3" cy="1239.4" r="4.1" fill="#777777" fill-opacity="0.7"/>
<circle cx="798.6" cy="1239.7" r="3.1" fill="#757575" fill-opacity="0.7"/>
<circle cx="793.2" cy="1242.5" r="4.1" fill="#757575" fill-opacity="0.7"/>
<circle cx="797.2" cy="1240.0" r="4.5" fill="#777777" fill-opacity="0.7"/>
<circle cx="799.5" cy="1232.0" r="4.5" fill="#717171" fill-opacity="0.7"/>
<circle cx="797.2" cy="1241.6" r="2.9" fill="#818181" fill-opacity="0.7"/>
<circle cx="796.0" cy="1243.6" r="3.7" fill="#717171" fill-opacity="0.7"/>
<ellipse cx="851.7" cy="1236.3" rx="8.5" ry="8.5" fill="#6d6d6d"/>
<circle cx="849.7" cy="1237.9" r="2.4" fill="#737373" fill-opacity="0.7"/>
<circle cx="850.4" cy="1235.4" r="2.8" fill="#787878" fill-opacity="0.7"/>
<circle cx="849.7" cy="1235.7" r="3.4" fill="#757575" fill-opacity="0.7"/>
<circle cx="851.0" cy="1231.6" r="2.5" fill="#747474" fill-opacity="0.7"/>
<circle cx="850.8" cy="1241.2" r="2.9" fill="#777777" fill-opacity="0.7"/>
<circle cx="853.4" cy="1234.4" r="2.8" fill="#777777" fill-opacity="0.7"/>
<circle cx="852.0" cy="1237.8" r="2.3" fill="#7c7c7c" fill-opacity="0.7"/>
<circle cx="846.7" cy="1234.1" r="3.8" fill="#767676" fill-opacity="0.7"/>
<ellipse cx="853.3" cy="1214" rx="7.4" ry="7.4" fill="#6d6d6d"/>
<circle cx="850.8" cy="1209.4" r="2.3" fill="#7d7d7d" fill-opacity="0.7"/>
<circle cx="850.6" cy="1209.3" r="3.2" fill="#757575" fill-opacity="0.7"/>
<circle cx="852.2" cy="1212.8" r="2.6" fill="#777777" fill-opacity="0.7"/>
<circle cx="856.0" cy="1215.1" r="2.5" fill="#797979" fill-opacity="0.7"/>
<circle cx="852.9" cy="1215.9" r="2.6" fill="#797979" fill-opacity="0.7"/>
<circle cx="855.4" cy="1217.6" r="2.3" fill="#727272" fill-opacity="0.7"/>
<ellipse cx="866.8" cy="1153.1" rx="7.4" ry="7.4" fill="#6d6d6d"/>
<circle cx="865.1" cy="1155.7" r="2.2" fill="#7b7b7b" fill-opacity="0.7"/>
<circle cx="865.7" cy="1149.6" r="3.0" fill="#717171" fill-opacity="0.7"/>
<circle cx="864.6" cy="1154.9" r="2.1" fill="#787878" fill-opacity="0.7"/>
<circle cx="870.0" cy="1154.2" r="2.8" fill="#797979" fill-opacity="0.7"/>
<circle cx="865.7" cy="1155.2" r="2.0" fill="#777777" fill-opacity="0.7"/>
<circle cx="869.7" cy="1150.8" r="2.4" fill="#7d7d7d" fill-opacity="0.7"/>
<ellipse cx="875.6" cy="1163.5" rx="7.4" ry="7.4" fill="#6d6d6d"/>
<circle cx="876.9" cy="1166.5" r="2.9" fill="#838383" fill-opacity="0.7"/>
<circle cx="873.2" cy="1166.4" r="3.3" fill="#7f7f7f" fill-opacity="0.7"/>
<circle cx="872.8" cy="1160.7" r="2.6" fill="#787878" fill-opacity="0.7"/>
<circle cx="874.8" cy="1168.3" r="3.2" fill="#777777" fill-opacity="0.7"/>
<circle cx="876.8" cy="1162.8" r="2.2" fill="#7a7a7a" fill-opacity="0.7"/>
<circle cx="874.6" cy="1166.1" r="3.3" fill="#737373" fill-opacity="0.7"/>
<ellipse cx="888.4" cy="1161.9" rx="7.4" ry="7.4" fill="#6d6d6d"/>
<circle cx="889.2" cy="1164.0" r="2.9" fill="#757575" fill-opacity="0.7"/>
<circle cx="892.0" cy="1161.9" r="2.6" fill="#757575" fill-opacity="0.7"/>
<circle cx="884.3" cy="1162.1" r="2.8" fill="#7c7c7c" fill-opacity="0.7"/>
<circle cx="883.9" cy="1160.1" r="3.3" fill="#767676" fill-opacity="0.7"/>
<circle cx="885.5" cy="1166.1" r="2.4" fill="#7e7e7e" fill-opacity="0.7"/>
<circle cx="887.0" cy="1157.9" r="3.3" fill="#808080" fill-opacity="0.7"/>
<ellipse cx="888.4" cy="1188.3" rx="9.3" ry="9.3" fill="#6d6d6d"/>
<circle cx="891.1" cy="1192.5" r="3.4" fill="#7b7b7b" fill-opacity="0.7"/>
<circle cx="886.3" cy="1190.6" r="3.8" fill="#7a7a7a" fill-opacity="0.7"/>
<circle cx="888.6" cy="1191.2" r="3.1" fill="#737373" fill-opacity="0.7"/>
<circle cx="886.2" cy="1188.1" r="2.6" fill="#717171" fill-opacity="0.7"/>
<circle cx="892.8" cy="1191.6" r="2.7" fill="#797979" fill-opacity="0.7"/>
<circle cx="889.0" cy="1184.1" r="2.8" fill="#818181" fill-opacity="0.7"/>
<circle cx="889.6" cy="1187.0" r="3.0" fill="#7a7a7a" fill-opacity="0.7"/>
<circle cx="889.5" cy="1184.8" r="3.8" fill="#757575" fill-opacity="0.7"/>
<circle cx="887.7" cy="1185.0" r="3.1" fill="#7f7f7f" fill-opacity="0.7"/>
<circle cx="891.8" cy="1183.2" r="3.5" fill="#787878" fill-opacity="0.7"/>
<ellipse cx="997.3" cy="1183.5" rx="11.6" ry="10.6" fill="#6d6d6d"/>
<circle cx="995.6" cy="1178.0" r="4.5" fill="#7f7f7f" fill-opacity="0.7"/>
<circle cx="1000.5" cy="1186.4" r="4.2" fill="#747474" fill-opacity="0.7"/>
<circle cx="998.1" cy="1185.2" r="4.0" fill="#828282" fill-opacity="0.7"/>
<circle cx="1000.1" cy="1183.0" r="4.2" fill="#787878" fill-opacity="0.7"/>
<circle cx="994.1" cy="1180.4" r="4.7" fill="#838383" fill-opacity="0.7"/>
<circle cx="1003.8" cy="1185.4" r="3.1" fill="#717171" fill-opacity="0.7"/>
<circle cx="995.7" cy="1189.7" r="4.8" fill="#727272" fill-opacity="0.7"/>
<circle cx="996.3" cy="1185.2" r="3.9" fill="#797979" fill-opacity="0.7"/>
<circle cx="994.5" cy="1186.1" r="4.4" fill="#808080" fill-opacity="0.7"/>
<circle cx="996.3" cy="1187.6" r="4.1" fill="#7f7f7f" fill-opacity="0.7"/>
<circle cx="1001.9" cy="1183.0" r="4.2" fill="#7a7a7a" fill-opacity="0.7"/>
<circle cx="998.2" cy="1181.0" r="3.2" fill="#727272" fill-opacity="0.7"/>
<circle cx="1000.6" cy="1182.2" r="3.8" fill="#727272" fill-opacity="0.7"/>
<circle cx="996.4" cy="1185.2" r="4.0" fill="#737373" fill-opacity="0.7"/>
<ellipse cx="847" cy="981.9" rx="14.8" ry="13.8" fill="#737373"/>
<circle cx="843.6" cy="978.7" r="4.3" fill="#818181" fill-opacity="0.7"/>
<circle cx="843.9" cy="985.2" r="3.9" fill="#787878" fill-opacity="0.7"/>
<circle cx="851.0" cy="978.9" r="3.9" fill="#7b7b7b" fill-opacity="0.7"/>
<circle cx="835.8" cy="983.0" r="4.3" fill="#8a8a8a" fill-opacity="0.7"/>
<circle cx="840.9" cy="982.5" r="5.8" fill="#7f7f7f" fill-opacity="0.7"/>
<circle cx="853.8" cy="984.3" r="5.4" fill="#848484" fill-opacity="0.7"/>
<circle cx="845.2" cy="991.7" r="5.9" fill="#8d8d8d" fill-opacity="0.7"/>
<circle cx="837.8" cy="985.1" r="5.6" fill="#7a7a7a" fill-opacity="0.7"/>
<circle cx="850.9" cy="982.5" r="4.0" fill="#787878" fill-opacity="0.7"/>
<circle cx="841.3" cy="988.4" r="4.5" fill="#828282" fill-opacity="0.7"/>
<circle cx="851.3" cy="982.2" r="6.2" fill="#777777" fill-opacity="0.7"/>
<circle cx="837.6" cy="980.4" r="5.8" fill="#878787" fill-opacity="0.7"/>
<circle cx="839.3" cy="987.1" r="5.8" fill="#888888" fill-opacity="0.7"/>
<circle cx="850.3" cy="981.6" r="6.2" fill="#7f7f7f" fill-opacity="0.7"/>
<circle cx="845.7" cy="977.8" r="6.0" fill="#777777" fill-opacity="0.7"/>
<circle cx="843.1" cy="980.0" r="4.7" fill="#7f7f7f" fill-opacity="0.7"/>
<circle cx="841.7" cy="974.5" r="4.7" fill="#858585" fill-opacity="0.7"/>
<circle cx="844.0" cy="985.5" r="6.0" fill="#7e7e7e" fill-opacity="0.7"/>
<circle cx="851.5" cy="984.7" r="5.6" fill="#7b7b7b" fill-opacity="0.7"/>
<circle cx="846.7" cy="975.2" r="5.5" fill="#7a7a7a" fill-opacity="0.7"/>
<circle cx="849.9" cy="984.0" r="4.6" fill="#808080" fill-opacity="0.7"/>
<circle cx="853.9" cy="982.3" r="4.8" fill="#7e7e7e" fill-opacity="0.7"/>
<circle cx="836.4" cy="979.6" r="4.3" fill="#8a8a8a" fill-opacity="0.7"/>
<circle cx="843.1" cy="989.5" r="4.0" fill="#8d8d8d" fill-opacity="0.7"/>
<ellipse cx="750.9" cy="1034.7" rx="16.9" ry="14.8" fill="#737373"/>
<circle cx="739.6" cy="1039.4" r="4.6" fill="#808080" fill-opacity="0.7"/>
<circle cx="749.7" cy="1030.9" r="4.8" fill="#868686" fill-opacity="0.7"/>
<circle cx="756.6" cy="1033.0" r="4.5" fill="#7e7e7e" fill-opacity="0.7"/>
<circle cx="755.1" cy="1034.5" r="5.8" fill="#7f7f7f" fill-opacity="0.7"/>
<circle cx="747.9" cy="1031.3" r="5.7" fill="#8b8b8b" fill-opacity="0.7"/>
<circle cx="756.6" cy="1028.4" r="5.4" fill="#838383" fill-opacity="0.7"/>
<circle cx="759.4" cy="1041.2" r="5.9" fill="#818181" fill-opacity="0.7"/>
<circle cx="747.4" cy="1029.4" r="5.1" fill="#7c7c7c" fill-opacity="0.7"/>
<circle cx="744.0" cy="1030.3" r="5.4" fill="#777777" fill-opacity="0.7"/>
<circle cx="745.8" cy="1030.1" r="5.6" fill="#848484" fill-opacity="0.7"/>
<circle cx="754.8" cy="1033.1" r="5.3" fill="#8d8d8d" fill-opacity="0.7"/>
<circle cx="750.5" cy="1029.5" r="6.0" fill="#8d8d8d" fill-opacity="0.7"/>
<circle cx="741.5" cy="1040.5" r="4.4" fill="#8d8d8d" fill-opacity="0.7"/>
<circle cx="745.8" cy="1035.0" r="6.3" fill="#858585" fill-opacity="0.7"/>
<circle cx="761.2" cy="1031.0" r="6.2" fill="#828282" fill-opacity="0.7"/>
<circle cx="754.3" cy="1034.6" r="6.4" fill="#868686" fill-opacity="0.7"/>
<circle cx="750.9" cy="1044.3" r="5.3" fill="#828282" fill-opacity="0.7"/>
<circle cx="754.0" cy="1031.6" r="4.8" fill="#858585" fill-opacity="0.7"/>
<circle cx="758.4" cy="1038.0" r="6.2" fill="#818181" fill-opacity="0.7"/>
<circle cx="751.5" cy="1044.2" r="6.4" fill="#888888" fill-opacity="0.7"/>
<circle cx="739.5" cy="1031.5" r="6.2" fill="#7a7a7a" fill-opacity="0.7"/>
<circle cx="748.4" cy="1037.2" r="4.1" fill="#7e7e7e" fill-opacity="0.7"/>
<circle cx="758.3" cy="1027.3" r="4.3" fill="#7b7b7b" fill-opacity="0.7"/>
<circle cx="742.2" cy="1041.1" r="5.7" fill="#8b8b8b" fill-opacity="0.7"/>
<circle cx="762.4" cy="1039.6" r="4.6" fill="#858585" fill-opacity="0.7"/>
<circle cx="758.1" cy="1028.5" r="4.6" fill="#858585" fill-opacity="0.7"/>
<circle cx="748.3" cy="1035.8" r="5.0" fill="#7d7d7d" fill-opacity="0.7"/>
<circle cx="747.1" cy="1031.1" r="5.7" fill="#868686" fill-opacity="0.7"/>
<circle cx="752.6" cy="1037.9" r="5.9" fill="#818181" fill-opacity="0.7"/>
<ellipse cx="719.6" cy="1078.7" rx="7.6" ry="7.6" fill="#737373"/>
<circle cx="720.8" cy="1080.0" r="3.4" fill="#848484" fill-opacity="0.7"/>
<circle cx="718.3" cy="1080.4" r="3.5" fill="#868686" fill-opacity="0.7"/>
<circle cx="719.4" cy="1075.8" r="2.5" fill="#808080" fill-opacity="0.7"/>
<circle cx="722.1" cy="1082.0" r="2.7" fill="#898989" fill-opacity="0.7"/>
<circle cx="716.8" cy="1080.5" r="2.8" fill="#8c8c8c" fill-opacity="0.7"/>
<circle cx="717.1" cy="1082.4" r="2.4" fill="#838383" fill-opacity="0.7"/>
<ellipse cx="922.1" cy="1028.3" rx="8.5" ry="7.9" fill="#737373"/>
<circle cx="920.8" cy="1033.6" r="2.6" fill="#8a8a8a" fill-opacity="0.7"/>
<circle cx="920.5" cy="1025.2" r="3.5" fill="#7f7f7f" fill-opacity="0.7"/>
<circle cx="921.9" cy="1024.2" r="2.8" fill="#787878" fill-opacity="0.7"/>
<circle cx="919.7" cy="1029.6" r="2.8" fill="#8c8c8c" fill-opacity="0.7"/>
<circle cx="920.8" cy="1032.7" r="3.1" fill="#7c7c7c" fill-opacity="0.7"/>
<circle cx="920.4" cy="1029.3" r="3.5" fill="#7c7c7c" fill-opacity="0.7"/>
<circle cx="919.4" cy="1029.7" r="3.4" fill="#8a8a8a" fill-opacity="0.7"/>
<ellipse cx="950.9" cy="1075.5" rx="9.3" ry="8.5" fill="#737373"/>
<circle cx="947.1" cy="1073.3" r="2.5" fill="#8b8b8b" fill-opacity="0.7"/>
<circle cx="953.9" cy="1077.2" r="2.9" fill="#878787" fill-opacity="0.7"/>
<circle cx="949.2" cy="1072.8" r="3.7" fill="#8c8c8c" fill-opacity="0.7"/>
<circle cx="955.9" cy="1076.2" r="3.0" fill="#7e7e7e" fill-opacity="0.7"/>
<circle cx="947.7" cy="1076.2" r="3.3" fill="#848484" fill-opacity="0.7"/>
<circle cx="957.7" cy="1074.3" r="3.9" fill="#7f7f7f" fill-opacity="0.7"/>
<circle cx="953.3" cy="1071.4" r="3.4" fill="#8d8d8d" fill-opacity="0.7"/>
<circle cx="954.6" cy="1077.0" r="2.9" fill="#858585" fill-opacity="0.7"/>
<circle cx="952.3" cy="1081.8" r="2.6" fill="#7f7f7f" fill-opacity="0.7"/>
<ellipse cx="815.7" cy="1197.9" rx="9.3" ry="9.3" fill="#737373"/>
<circle cx="818.0" cy="1200.8" r="3.8" fill="#787878" fill-opacity="0.7"/>
<circle cx="818.3" cy="1202.3" r="3.6" fill="#878787" fill-opacity="0.7"/>
<circle cx="815.6" cy="1203.9" r="3.8" fill="#888888" fill-opacity="0.7"/>
<circle cx="818.7" cy="1200.7" r="2.6" fill="#8a8a8a" fill-opacity="0.7"/>
<circle cx="821.8" cy="1195.7" r="2.6" fill="#7e7e7e" fill-opacity="0.7"/>
<circle cx="811.3" cy="1196.9" r="2.7" fill="#888888" fill-opacity="0.7"/>
<circle cx="814.3" cy="1202.0" r="2.7" fill="#838383" fill-opacity="0.7"/>
<circle cx="817.1" cy="1199.4" r="3.4" fill="#7d7d7d" fill-opacity="0.7"/>
<circle cx="816.2" cy="1195.1" r="3.2" fill="#787878" fill-opacity="0.7"/>
<circle cx="816.5" cy="1201.8" r="3.5" fill="#818181" fill-opacity="0.7"/>
<ellipse cx="978.1" cy="1148.3" rx="12.7" ry="11.6" fill="#737373"/>
<circle cx="979.8" cy="1146.2" r="5.0" fill="#7a7a7a" fill-opacity="0.7"/>
<circle cx="984.0" cy="1147.3" r="4.0" fill="#848484" fill-opacity="0.7"/>
<circle cx="984.3" cy="1141.8" r="4.1" fill="#777777" fill-opacity="0.7"/>
<circle cx="982.8" cy="1154.5" r="4.7" fill="#868686" fill-opacity="0.7"/>
<circle cx="981.5" cy="1153.0" r="3.2" fill="#797979" fill-opacity="0.7"/>
<circle cx="975.2" cy="1156.5" r="4.5" fill="#8a8a8a" fill-opacity="0.7"/>
<circle cx="983.1" cy="1149.7" r="3.3" fill="#7c7c7c" fill-opacity="0.7"/>
<circle cx="985.0" cy="1153.7" r="3.9" fill="#818181" fill-opacity="0.7"/>
<circle cx="973.1" cy="1141.7" r="5.2" fill="#838383" fill-opacity="0.7"/>
<circle cx="969.2" cy="1148.3" r="4.0" fill="#7d7d7d" fill-opacity="0.7"/>
<circle cx="977.8" cy="1144.6" r="4.0" fill="#808080" fill-opacity="0.7"/>
<circle cx="973.4" cy="1148.9" r="4.1" fill="#808080" fill-opacity="0.7"/>
<circle cx="986.1" cy="1150.7" r="3.3" fill="#828282" fill-opacity="0.7"/>
<circle cx="973.2" cy="1146.9" r="3.6" fill="#797979" fill-opacity="0.7"/>
<circle cx="975.0" cy="1151.2" r="4.2" fill="#7c7c7c" fill-opacity="0.7"/>
<circle cx="978.1" cy="1143.0" r="3.2" fill="#7f7f7f" fill-opacity="0.7"/>
<circle cx="980.2" cy="1147.9" r="4.4" fill="#8c8c8c" fill-opacity="0.7"/>
<ellipse cx="1008.5" cy="1153.1" rx="8.5" ry="8.5" fill="#737373"/>
<circle cx="1005.6" cy="1156.4" r="2.9" fill="#7d7d7d" fill-opacity="0.7"/>
<circle cx="1005.1" cy="1150.3" r="2.8" fill="#828282" fill-opacity="0.7"/>
<circle cx="1003.3" cy="1152.6" r="2.4" fill="#797979" fill-opacity="0.7"/>
<circle cx="1008.5" cy="1155.8" r="3.5" fill="#808080" fill-opacity="0.7"/>
<circle cx="1010.7" cy="1150.5" r="2.7" fill="#868686" fill-opacity="0.7"/>
<circle cx="1014.0" cy="1156.4" r="3.6" fill="#7e7e7e" fill-opacity="0.7"/>
<circle cx="1006.2" cy="1158.1" r="3.5" fill="#858585" fill-opacity="0.7"/>
<circle cx="1013.4" cy="1154.9" r="2.4" fill="#848484" fill-opacity="0.7"/>
<ellipse cx="882" cy="1148.3" rx="7.6" ry="7.6" fill="#737373"/>
<circle cx="876.8" cy="1146.5" r="3.0" fill="#777777" fill-opacity="0.7"/>
<circle cx="886.3" cy="1146.4" r="2.9" fill="#777777" fill-opacity="0.7"/>
<circle cx="881.7" cy="1145.2" r="3.0" fill="#8d8d8d" fill-opacity="0.7"/>
<circle cx="883.4" cy="1147.5" r="3.2" fill="#808080" fill-opacity="0.7"/>
<circle cx="882.0" cy="1145.3" r="2.7" fill="#808080" fill-opacity="0.7"/>
<circle cx="884.0" cy="1150.1" r="3.1" fill="#787878" fill-opacity="0.7"/>
<ellipse cx="1016.5" cy="1188.3" rx="5.3" ry="7.4" fill="#737373"/>
<circle cx="1019.1" cy="1191.6" r="2.1" fill="#838383" fill-opacity="0.7"/>
<circle cx="1017.4" cy="1189.4" r="1.7" fill="#8c8c8c" fill-opacity="0.7"/>
<circle cx="1013.0" cy="1186.3" r="1.6" fill="#808080" fill-opacity="0.7"/>
<circle cx="1013.1" cy="1187.2" r="1.6" fill="#8a8a8a" fill-opacity="0.7"/>
<ellipse cx="763.7" cy="1004.3" rx="9.3" ry="8.7" fill="#7a7a7a"/>
<circle cx="762.0" cy="1004.6" r="3.0" fill="#878787" fill-opacity="0.7"/>
<circle cx="760.6" cy="998.8" r="3.1" fill="#8f8f8f" fill-opacity="0.7"/>
<circle cx="759.2" cy="1007.8" r="2.5" fill="#909090" fill-opacity="0.7"/>
<circle cx="766.1" cy="1008.2" r="2.7" fill="#868686" fill-opacity="0.7"/>
<circle cx="765.5" cy="1007.1" r="3.3" fill="#8b8b8b" fill-opacity="0.7"/>
<circle cx="760.1" cy="1007.1" r="3.7" fill="#868686" fill-opacity="0.7"/>
<circle cx="760.1" cy="1002.3" r="3.9" fill="#868686" fill-opacity="0.7"/>
<circle cx="762.8" cy="1001.8" r="2.8" fill="#909090" fill-opacity="0.7"/>
<circle cx="761.1" cy="1003.1" r="2.5" fill="#939393" fill-opacity="0.7"/>
<ellipse cx="844.5" cy="955.4" rx="8.5" ry="10.6" fill="#7a7a7a"/>
<circle cx="840.9" cy="959.8" r="3.0" fill="#8d8d8d" fill-opacity="0.7"/>
<circle cx="838.6" cy="952.5" r="3.7" fill="#898989" fill-opacity="0.7"/>
<circle cx="842.0" cy="955.7" r="3.5" fill="#808080" fill-opacity="0.7"/>
<circle cx="842.5" cy="962.0" r="2.4" fill="#8f8f8f" fill-opacity="0.7"/>
<circle cx="840.7" cy="953.2" r="2.8" fill="#818181" fill-opacity="0.7"/>
<circle cx="849.5" cy="953.4" r="3.6" fill="#808080" fill-opacity="0.7"/>
<circle cx="845.0" cy="952.4" r="2.6" fill="#8b8b8b" fill-opacity="0.7"/>
<circle cx="843.0" cy="953.8" r="3.5" fill="#8c8c8c" fill-opacity="0.7"/>
<circle cx="849.4" cy="950.9" r="3.4" fill="#878787" fill-opacity="0.7"/>
<circle cx="849.3" cy="953.5" r="2.8" fill="#949494" fill-opacity="0.7"/>
<ellipse cx="818.1" cy="1101.8" rx="7.6" ry="7.6" fill="#7a7a7a"/>
<circle cx="817.7" cy="1099.4" r="2.4" fill="#7e7e7e" fill-opacity="0.7"/>
<circle cx="815.8" cy="1101.2" r="2.5" fill="#848484" fill-opacity="0.7"/>
<circle cx="820.4" cy="1104.3" r="2.5" fill="#858585" fill-opacity="0.7"/>
<circle cx="817.5" cy="1105.3" r="3.3" fill="#818181" fill-opacity="0.7"/>
<circle cx="821.4" cy="1097.8" r="2.9" fill="#8b8b8b" fill-opacity="0.7"/>
<circle cx="817.7" cy="1098.1" r="3.0" fill="#959595" fill-opacity="0.7"/>
<ellipse cx="850.1" cy="1127.4" rx="10.2" ry="10.2" fill="#7a7a7a"/>
<circle cx="850.6" cy="1124.2" r="2.9" fill="#969696" fill-opacity="0.7"/>
<circle cx="845.9" cy="1132.3" r="3.2" fill="#898989" fill-opacity="0.7"/>
<circle cx="845.9" cy="1131.8" r="4.5" fill="#8a8a8a" fill-opacity="0.7"/>
<circle cx="846.6" cy="1125.9" r="3.2" fill="#969696" fill-opacity="0.7"/>
<circle cx="855.8" cy="1132.1" r="4.0" fill="#7f7f7f" fill-opacity="0.7"/>
<circle cx="852.0" cy="1126.1" r="3.8" fill="#808080" fill-opacity="0.7"/>
<circle cx="853.6" cy="1127.2" r="4.4" fill="#7f7f7f" fill-opacity="0.7"/>
<circle cx="849.1" cy="1125.6" r="2.8" fill="#8c8c8c" fill-opacity="0.7"/>
<circle cx="855.9" cy="1126.8" r="4.4" fill="#929292" fill-opacity="0.7"/>
<circle cx="848.0" cy="1127.1" r="3.7" fill="#828282" fill-opacity="0.7"/>
<circle cx="846.3" cy="1126.8" r="3.7" fill="#828282" fill-opacity="0.7"/>
<circle cx="848.9" cy="1123.4" r="3.7" fill="#7f7f7f" fill-opacity="0.7"/>
<ellipse cx="832.5" cy="1218.7" rx="8.5" ry="8.5" fill="#7a7a7a"/>
<circle cx="828.3" cy="1219.0" r="3.8" fill="#8c8c8c" fill-opacity="0.7"/>
<circle cx="834.4" cy="1220.9" r="2.8" fill="#8f8f8f" fill-opacity="0.7"/>
<circle cx="838.4" cy="1216.3" r="3.8" fill="#959595" fill-opacity="0.7"/>
<circle cx="836.4" cy="1214.0" r="2.3" fill="#8a8a8a" fill-opacity="0.7"/>
<circle cx="828.4" cy="1216.1" r="3.3" fill="#8d8d8d" fill-opacity="0.7"/>
<circle cx="834.2" cy="1218.0" r="3.1" fill="#969696" fill-opacity="0.7"/>
<circle cx="834.4" cy="1219.1" r="3.7" fill="#969696" fill-opacity="0.7"/>
<circle cx="834.0" cy="1218.9" r="3.6" fill="#8f8f8f" fill-opacity="0.7"/>
<ellipse cx="842.1" cy="1225.1" rx="7.4" ry="7.4" fill="#7a7a7a"/>
<circle cx="838.4" cy="1224.6" r="3.0" fill="#929292" fill-opacity="0.7"/>
<circle cx="843.6" cy="1225.1" r="3.1" fill="#979797" fill-opacity="0.7"/>
<circle cx="843.6" cy="1222.5" r="2.5" fill="#868686" fill-opacity="0.7"/>
<circle cx="846.7" cy="1225.5" r="2.4" fill="#8c8c8c" fill-opacity="0.7"/>
<circle cx="839.4" cy="1224.7" r="2.9" fill="#898989" fill-opacity="0.7"/>
<circle cx="842.6" cy="1230.2" r="2.3" fill="#818181" fill-opacity="0.7"/>
<ellipse cx="894.8" cy="1141.9" rx="8.5" ry="8.5" fill="#7a7a7a"/>
<circle cx="894.7" cy="1145.7" r="3.5" fill="#868686" fill-opacity="0.7"/>
<circle cx="895.1" cy="1146.6" r="2.7" fill="#8b8b8b" fill-opacity="0.7"/>
<circle cx="894.6" cy="1147.7" r="2.6" fill="#838383" fill-opacity="0.7"/>
<circle cx="893.8" cy="1144.8" r="3.4" fill="#8f8f8f" fill-opacity="0.7"/>
<circle cx="895.8" cy="1137.9" r="2.4" fill="#919191" fill-opacity="0.7"/>
<circle cx="894.9" cy="1144.4" r="2.9" fill="#979797" fill-opacity="0.7"/>
<circle cx="892.6" cy="1144.2" r="3.7" fill="#979797" fill-opacity="0.7"/>
<circle cx="893.2" cy="1143.2" r="3.5" fill="#929292" fill-opacity="0.7"/>
<ellipse cx="882.8" cy="1229.9" rx="8.5" ry="8.5" fill="#7a7a7a"/>
<circle cx="880.0" cy="1234.5" r="2.9" fill="#858585" fill-opacity="0.7"/>
<circle cx="878.5" cy="1227.1" r="3.0" fill="#929292" fill-opacity="0.7"/>
<circle cx="886.7" cy="1230.2" r="2.9" fill="#7f7f7f" fill-opacity="0.7"/>
<circle cx="884.6" cy="1228.8" r="2.6" fill="#949494" fill-opacity="0.7"/>
<circle cx="888.7" cy="1228.4" r="2.8" fill="#969696" fill-opacity="0.7"/>
<circle cx="885.9" cy="1233.8" r="3.8" fill="#828282" fill-opacity="0.7"/>
<circle cx="886.0" cy="1233.5" r="3.7" fill="#909090" fill-opacity="0.7"/>
<circle cx="886.3" cy="1228.7" r="2.9" fill="#808080" fill-opacity="0.7"/>
<ellipse cx="788.5" cy="1002.7" rx="9.3" ry="8.2" fill="#808080"/>
<circle cx="787.5" cy="1008.6" r="2.3" fill="#8a8a8a" fill-opacity="0.7"/>
<circle cx="787.5" cy="1004.0" r="2.7" fill="#8a8a8a" fill-opacity="0.7"/>
<circle cx="791.7" cy="1005.4" r="3.1" fill="#959595" fill-opacity="0.7"/>
<circle cx="788.8" cy="998.8" r="3.7" fill="#878787" fill-opacity="0.7"/>
<circle cx="788.8" cy="1004.4" r="2.7" fill="#9b9b9b" fill-opacity="0.7"/>
<circle cx="792.3" cy="1001.0" r="2.5" fill="#8e8e8e" fill-opacity="0.7"/>
<circle cx="785.6" cy="1001.5" r="3.4" fill="#a1a1a1" fill-opacity="0.7"/>
<circle cx="783.8" cy="1003.8" r="3.5" fill="#929292" fill-opacity="0.7"/>
<ellipse cx="724.4" cy="1051.5" rx="8.5" ry="8.2" fill="#808080"/>
<circle cx="726.6" cy="1057.1" r="3.7" fill="#858585" fill-opacity="0.7"/>
<circle cx="724.7" cy="1048.2" r="2.3" fill="#898989" fill-opacity="0.7"/>
<circle cx="726.8" cy="1055.9" r="2.6" fill="#858585" fill-opacity="0.7"/>
<circle cx="725.4" cy="1056.7" r="3.0" fill="#979797" fill-opacity="0.7"/>
<circle cx="722.1" cy="1052.0" r="2.3" fill="#8d8d8d" fill-opacity="0.7"/>
<circle cx="727.0" cy="1052.2" r="3.2" fill="#8f8f8f" fill-opacity="0.7"/>
<circle cx="719.9" cy="1052.2" r="2.7" fill="#8f8f8f" fill-opacity="0.7"/>
<circle cx="727.6" cy="1048.7" r="2.9" fill="#949494" fill-opacity="0.7"/>
<ellipse cx="732.4" cy="1066.7" rx="7.0" ry="7.0" fill="#808080"/>
<circle cx="730.0" cy="1067.3" r="3.1" fill="#8b8b8b" fill-opacity="0.7"/>
<circle cx="736.7" cy="1064.9" r="3.0" fill="#898989" fill-opacity="0.7"/>
<circle cx="727.2" cy="1066.4" r="2.3" fill="#898989" fill-opacity="0.7"/>
<circle cx="732.0" cy="1064.6" r="2.6" fill="#898989" fill-opacity="0.7"/>
<circle cx="734.6" cy="1065.9" r="2.0" fill="#999999" fill-opacity="0.7"/>
<ellipse cx="787.7" cy="1068.3" rx="7.0" ry="6.3" fill="#808080"/>
<circle cx="785.7" cy="1070.9" r="2.3" fill="#a0a0a0" fill-opacity="0.7"/>
<circle cx="785.0" cy="1068.1" r="1.7" fill="#939393" fill-opacity="0.7"/>
<circle cx="787.3" cy="1071.5" r="2.4" fill="#929292" fill-opacity="0.7"/>
<circle cx="790.4" cy="1069.8" r="2.3" fill="#979797" fill-opacity="0.7"/>
<circle cx="790.0" cy="1067.9" r="2.2" fill="#878787" fill-opacity="0.7"/>
<ellipse cx="1013.3" cy="972.2" rx="7.7" ry="7.7" fill="#808080"/>
<circle cx="1014.0" cy="970.0" r="3.3" fill="#9c9c9c" fill-opacity="0.7"/>
<circle cx="1013.1" cy="977.6" r="2.8" fill="#919191" fill-opacity="0.7"/>
<circle cx="1008.0" cy="970.3" r="2.8" fill="#929292" fill-opacity="0.7"/>
<circle cx="1012.0" cy="977.2" r="2.8" fill="#8e8e8e" fill-opacity="0.7"/>
<circle cx="1014.0" cy="974.3" r="3.3" fill="#9c9c9c" fill-opacity="0.7"/>
<circle cx="1018.7" cy="971.5" r="3.1" fill="#9c9c9c" fill-opacity="0.7"/>
<circle cx="1012.1" cy="967.3" r="3.2" fill="#8a8a8a" fill-opacity="0.7"/>
<ellipse cx="971.7" cy="1064.3" rx="7.7" ry="7.7" fill="#808080"/>
<circle cx="972.8" cy="1061.9" r="2.4" fill="#a0a0a0" fill-opacity="0.7"/>
<circle cx="975.3" cy="1064.8" r="2.6" fill="#9c9c9c" fill-opacity="0.7"/>
<circle cx="967.5" cy="1060.8" r="3.4" fill="#979797" fill-opacity="0.7"/>
<circle cx="975.7" cy="1066.0" r="2.3" fill="#a2a2a2" fill-opacity="0.7"/>
<circle cx="973.6" cy="1062.4" r="2.4" fill="#999999" fill-opacity="0.7"/>
<circle cx="972.0" cy="1058.5" r="3.0" fill="#888888" fill-opacity="0.7"/>
<circle cx="971.5" cy="1062.8" r="3.3" fill="#9b9b9b" fill-opacity="0.7"/>
<ellipse cx="1001.3" cy="1122.6" rx="8.5" ry="8.5" fill="#808080"/>
<circle cx="1002.6" cy="1116.9" r="3.2" fill="#a0a0a0" fill-opacity="0.7"/>
<circle cx="998.8" cy="1119.6" r="2.9" fill="#8f8f8f" fill-opacity="0.7"/>
<circle cx="1003.5" cy="1122.9" r="3.6" fill="#8b8b8b" fill-opacity="0.7"/>
<circle cx="998.3" cy="1118.2" r="3.4" fill="#939393" fill-opacity="0.7"/>
<circle cx="1000.2" cy="1125.1" r="2.6" fill="#979797" fill-opacity="0.7"/>
<circle cx="998.9" cy="1116.9" r="2.8" fill="#a0a0a0" fill-opacity="0.7"/>
<circle cx="1003.7" cy="1121.1" r="3.8" fill="#969696" fill-opacity="0.7"/>
<circle cx="1006.5" cy="1121.4" r="2.8" fill="#8c8c8c" fill-opacity="0.7"/>
<ellipse cx="874.8" cy="1209.9" rx="7.0" ry="7.0" fill="#808080"/>
<circle cx="871.7" cy="1209.5" r="1.9" fill="#9e9e9e" fill-opacity="0.7"/>
<circle cx="871.8" cy="1209.2" r="2.8" fill="#8c8c8c" fill-opacity="0.7"/>
<circle cx="875.9" cy="1213.3" r="2.2" fill="#8e8e8e" fill-opacity="0.7"/>
<circle cx="876.0" cy="1210.5" r="2.3" fill="#949494" fill-opacity="0.7"/>
<circle cx="878.4" cy="1208.7" r="2.4" fill="#909090" fill-opacity="0.7"/>
<ellipse cx="939.7" cy="1213.1" rx="8.5" ry="7.7" fill="#808080"/>
<circle cx="940.0" cy="1216.5" r="3.5" fill="#888888" fill-opacity="0.7"/>
<circle cx="935.3" cy="1214.9" r="3.2" fill="#959595" fill-opacity="0.7"/>
<circle cx="935.8" cy="1208.8" r="3.4" fill="#8c8c8c" fill-opacity="0.7"/>
<circle cx="933.5" cy="1211.6" r="2.9" fill="#8a8a8a" fill-opacity="0.7"/>
<circle cx="939.9" cy="1211.6" r="2.3" fill="#949494" fill-opacity="0.7"/>
<circle cx="939.0" cy="1217.6" r="3.1" fill="#8e8e8e" fill-opacity="0.7"/>
<circle cx="940.2" cy="1208.9" r="3.1" fill="#929292" fill-opacity="0.7"/>
</g>
<g filter="url(#bl1)">
<ellipse cx="750.9" cy="1060.3" rx="8.0" ry="8.0" fill="none" stroke="#1e1e1e" stroke-opacity="0.3" stroke-width="1.2"/>
<ellipse cx="750.9" cy="1060.3" rx="7.359999999999999" ry="7.359999999999999" fill="#6d6d6d"/>
<ellipse cx="750.9" cy="1060.3" rx="7.359999999999999" ry="7.359999999999999" fill="url(#phl)"/>
<ellipse cx="750.9" cy="1060.3" rx="6.5" ry="6.5" fill="none" stroke="#fff" stroke-opacity="0.12" stroke-width="1.5"/>
<circle cx="749.9" cy="1060.7" r="2.2" fill="#fff" fill-opacity="0.08"/>
<circle cx="747.4" cy="1060.9" r="2.2" fill="#fff" fill-opacity="0.08"/>
<circle cx="751.6" cy="1059.7" r="2.2" fill="#fff" fill-opacity="0.08"/>
<ellipse cx="816.5" cy="1076.3" rx="7.5" ry="7.5" fill="none" stroke="#1e1e1e" stroke-opacity="0.3" stroke-width="1.2"/>
<ellipse cx="816.5" cy="1076.3" rx="6.8999999999999995" ry="6.8999999999999995" fill="#6d6d6d"/>
<ellipse cx="816.5" cy="1076.3" rx="6.8999999999999995" ry="6.8999999999999995" fill="url(#phl)"/>
<ellipse cx="816.5" cy="1076.3" rx="6.1" ry="6.1" fill="none" stroke="#fff" stroke-opacity="0.12" stroke-width="1.5"/>
<circle cx="817.8" cy="1076.9" r="2.1" fill="#fff" fill-opacity="0.08"/>
<circle cx="815.9" cy="1074.5" r="2.1" fill="#fff" fill-opacity="0.08"/>
<circle cx="817.8" cy="1077.6" r="2.1" fill="#fff" fill-opacity="0.08"/>
<ellipse cx="784.5" cy="1045.9" rx="6.3" ry="6.3" fill="none" stroke="#1e1e1e" stroke-opacity="0.3" stroke-width="1.2"/>
<ellipse cx="784.5" cy="1045.9" rx="5.75" ry="5.75" fill="#6d6d6d"/>
<ellipse cx="784.5" cy="1045.9" rx="5.75" ry="5.75" fill="url(#phl)"/>
<ellipse cx="784.5" cy="1045.9" rx="5.1" ry="5.1" fill="none" stroke="#fff" stroke-opacity="0.12" stroke-width="1.5"/>
<circle cx="782.5" cy="1044.9" r="1.7" fill="#fff" fill-opacity="0.08"/>
<circle cx="782.8" cy="1047.1" r="1.7" fill="#fff" fill-opacity="0.08"/>
<circle cx="783.7" cy="1044.1" r="1.7" fill="#fff" fill-opacity="0.08"/>
<ellipse cx="701.2" cy="959.4" rx="5.2" ry="6.3" fill="none" stroke="#1e1e1e" stroke-opacity="0.3" stroke-width="1.2"/>
<ellipse cx="701.2" cy="959.4" rx="4.6" ry="5.75" fill="#6d6d6d"/>
<ellipse cx="701.2" cy="959.4" rx="4.6" ry="5.75" fill="url(#phl)"/>
<ellipse cx="882" cy="1041.1" rx="7.5" ry="6.3" fill="none" stroke="#1e1e1e" stroke-opacity="0.3" stroke-width="1.2"/>
<ellipse cx="882" cy="1041.1" rx="6.8999999999999995" ry="5.75" fill="#6d6d6d"/>
<ellipse cx="882" cy="1041.1" rx="6.8999999999999995" ry="5.75" fill="url(#phl)"/>
<ellipse cx="882" cy="1041.1" rx="6.1" ry="5.1" fill="none" stroke="#fff" stroke-opacity="0.12" stroke-width="1.5"/>
<circle cx="884.5" cy="1041.7" r="1.7" fill="#fff" fill-opacity="0.08"/>
<circle cx="882.6" cy="1041.6" r="1.7" fill="#fff" fill-opacity="0.08"/>
<circle cx="881.3" cy="1041.2" r="1.7" fill="#fff" fill-opacity="0.08"/>
<ellipse cx="714.8" cy="1150.7" rx="6.3" ry="6.3" fill="none" stroke="#1e1e1e" stroke-opacity="0.3" stroke-width="1.2"/>
<ellipse cx="714.8" cy="1150.7" rx="5.75" ry="5.75" fill="#6d6d6d"/>
<ellipse cx="714.8" cy="1150.7" rx="5.75" ry="5.75" fill="url(#phl)"/>
<ellipse cx="714.8" cy="1150.7" rx="5.1" ry="5.1" fill="none" stroke="#fff" stroke-opacity="0.12" stroke-width="1.5"/>
<circle cx="716.1" cy="1151.4" r="1.7" fill="#fff" fill-opacity="0.08"/>
<circle cx="714.0" cy="1150.9" r="1.7" fill="#fff" fill-opacity="0.08"/>
<circle cx="717.2" cy="1150.0" r="1.7" fill="#fff" fill-opacity="0.08"/>
<ellipse cx="861.2" cy="1241.1" rx="7.5" ry="7.5" fill="none" stroke="#1e1e1e" stroke-opacity="0.3" stroke-width="1.2"/>
<ellipse cx="861.2" cy="1241.1" rx="6.8999999999999995" ry="6.8999999999999995" fill="#6d6d6d"/>
<ellipse cx="861.2" cy="1241.1" rx="6.8999999999999995" ry="6.8999999999999995" fill="url(#phl)"/>
<ellipse cx="861.2" cy="1241.1" rx="6.1" ry="6.1" fill="none" stroke="#fff" stroke-opacity="0.12" stroke-width="1.5"/>
<circle cx="858.9" cy="1241.3" r="2.1" fill="#fff" fill-opacity="0.08"/>
<circle cx="859.8" cy="1244.2" r="2.1" fill="#fff" fill-opacity="0.08"/>
<circle cx="862.3" cy="1242.1" r="2.1" fill="#fff" fill-opacity="0.08"/>
<ellipse cx="950.9" cy="1183.5" rx="7.5" ry="7.5" fill="none" stroke="#1e1e1e" stroke-opacity="0.3" stroke-width="1.2"/>
<ellipse cx="950.9" cy="1183.5" rx="6.8999999999999995" ry="6.8999999999999995" fill="#6d6d6d"/>
<ellipse cx="950.9" cy="1183.5" rx="6.8999999999999995" ry="6.8999999999999995" fill="url(#phl)"/>
<ellipse cx="950.9" cy="1183.5" rx="6.1" ry="6.1" fill="none" stroke="#fff" stroke-opacity="0.12" stroke-width="1.5"/>
<circle cx="951.5" cy="1186.5" r="2.1" fill="#fff" fill-opacity="0.08"/>
<circle cx="949.1" cy="1183.4" r="2.1" fill="#fff" fill-opacity="0.08"/>
<circle cx="948.4" cy="1185.4" r="2.1" fill="#fff" fill-opacity="0.08"/>
<ellipse cx="803.7" cy="996.3" rx="7.0" ry="7.0" fill="none" stroke="#1e1e1e" stroke-opacity="0.3" stroke-width="1.2"/>
<ellipse cx="803.7" cy="996.3" rx="6.4399999999999995" ry="6.4399999999999995" fill="#737373"/>
<ellipse cx="803.7" cy="996.3" rx="6.4399999999999995" ry="6.4399999999999995" fill="url(#phl)"/>
<ellipse cx="803.7" cy="996.3" rx="5.7" ry="5.7" fill="none" stroke="#fff" stroke-opacity="0.12" stroke-width="1.5"/>
<circle cx="803.6" cy="999.0" r="1.9" fill="#fff" fill-opacity="0.08"/>
<circle cx="803.2" cy="994.6" r="1.9" fill="#fff" fill-opacity="0.08"/>
<circle cx="802.5" cy="997.6" r="1.9" fill="#fff" fill-opacity="0.08"/>
<ellipse cx="805.3" cy="1005.9" rx="7.0" ry="7.0" fill="none" stroke="#1e1e1e" stroke-opacity="0.3" stroke-width="1.2"/>
<ellipse cx="805.3" cy="1005.9" rx="6.4399999999999995" ry="6.4399999999999995" fill="#737373"/>
<ellipse cx="805.3" cy="1005.9" rx="6.4399999999999995" ry="6.4399999999999995" fill="url(#phl)"/>
<ellipse cx="805.3" cy="1005.9" rx="5.7" ry="5.7" fill="none" stroke="#fff" stroke-opacity="0.12" stroke-width="1.5"/>
<circle cx="803.9" cy="1006.3" r="1.9" fill="#fff" fill-opacity="0.08"/>
<circle cx="804.1" cy="1004.7" r="1.9" fill="#fff" fill-opacity="0.08"/>
<circle cx="804.4" cy="1008.4" r="1.9" fill="#fff" fill-opacity="0.08"/>
<ellipse cx="794.1" cy="1100.2" rx="7.5" ry="7.5" fill="none" stroke="#1e1e1e" stroke-opacity="0.3" stroke-width="1.2"/>
<ellipse cx="794.1" cy="1100.2" rx="6.8999999999999995" ry="6.8999999999999995" fill="#737373"/>
<ellipse cx="794.1" cy="1100.2" rx="6.8999999999999995" ry="6.8999999999999995" fill="url(#phl)"/>
<ellipse cx="794.1" cy="1100.2" rx="6.1" ry="6.1" fill="none" stroke="#fff" stroke-opacity="0.12" stroke-width="1.5"/>
<circle cx="792.2" cy="1100.8" r="2.1" fill="#fff" fill-opacity="0.08"/>
<circle cx="795.5" cy="1098.9" r="2.1" fill="#fff" fill-opacity="0.08"/>
<circle cx="791.8" cy="1102.4" r="2.1" fill="#fff" fill-opacity="0.08"/>
<ellipse cx="995.7" cy="1161.9" rx="8.0" ry="8.0" fill="none" stroke="#1e1e1e" stroke-opacity="0.3" stroke-width="1.2"/>
<ellipse cx="995.7" cy="1161.9" rx="7.359999999999999" ry="7.359999999999999" fill="#737373"/>
<ellipse cx="995.7" cy="1161.9" rx="7.359999999999999" ry="7.359999999999999" fill="url(#phl)"/>
<ellipse cx="995.7" cy="1161.9" rx="6.5" ry="6.5" fill="none" stroke="#fff" stroke-opacity="0.12" stroke-width="1.5"/>
<circle cx="998.7" cy="1161.4" r="2.2" fill="#fff" fill-opacity="0.08"/>
<circle cx="993.5" cy="1163.5" r="2.2" fill="#fff" fill-opacity="0.08"/>
<circle cx="995.6" cy="1160.3" r="2.2" fill="#fff" fill-opacity="0.08"/>
<ellipse cx="931.7" cy="1141" rx="8.0" ry="8.0" fill="none" stroke="#1e1e1e" stroke-opacity="0.3" stroke-width="1.2"/>
<ellipse cx="931.7" cy="1141" rx="7.359999999999999" ry="7.359999999999999" fill="#737373"/>
<ellipse cx="931.7" cy="1141" rx="7.359999999999999" ry="7.359999999999999" fill="url(#phl)"/>
<ellipse cx="931.7" cy="1141" rx="6.5" ry="6.5" fill="none" stroke="#fff" stroke-opacity="0.12" stroke-width="1.5"/>
<circle cx="931.1" cy="1137.5" r="2.2" fill="#fff" fill-opacity="0.08"/>
<circle cx="930.2" cy="1138.8" r="2.2" fill="#fff" fill-opacity="0.08"/>
<circle cx="929.3" cy="1142.1" r="2.2" fill="#fff" fill-opacity="0.08"/>
<ellipse cx="896.4" cy="1127.4" rx="7.5" ry="7.5" fill="none" stroke="#1e1e1e" stroke-opacity="0.3" stroke-width="1.2"/>
<ellipse cx="896.4" cy="1127.4" rx="6.8999999999999995" ry="6.8999999999999995" fill="#737373"/>
<ellipse cx="896.4" cy="1127.4" rx="6.8999999999999995" ry="6.8999999999999995" fill="url(#phl)"/>
<ellipse cx="896.4" cy="1127.4" rx="6.1" ry="6.1" fill="none" stroke="#fff" stroke-opacity="0.12" stroke-width="1.5"/>
<circle cx="896.8" cy="1130.2" r="2.1" fill="#fff" fill-opacity="0.08"/>
<circle cx="893.1" cy="1126.6" r="2.1" fill="#fff" fill-opacity="0.08"/>
<circle cx="895.0" cy="1129.6" r="2.1" fill="#fff" fill-opacity="0.08"/>
<ellipse cx="997.3" cy="1230" rx="7.5" ry="7.5" fill="none" stroke="#1e1e1e" stroke-opacity="0.3" stroke-width="1.2"/>
<ellipse cx="997.3" cy="1230" rx="6.8999999999999995" ry="6.8999999999999995" fill="#737373"/>
<ellipse cx="997.3" cy="1230" rx="6.8999999999999995" ry="6.8999999999999995" fill="url(#phl)"/>
<ellipse cx="997.3" cy="1230" rx="6.1" ry="6.1" fill="none" stroke="#fff" stroke-opacity="0.12" stroke-width="1.5"/>
<circle cx="999.1" cy="1230.2" r="2.1" fill="#fff" fill-opacity="0.08"/>
<circle cx="997.4" cy="1228.6" r="2.1" fill="#fff" fill-opacity="0.08"/>
<circle cx="996.3" cy="1229.1" r="2.1" fill="#fff" fill-opacity="0.08"/>
<ellipse cx="701.2" cy="1025.1" rx="5.2" ry="7.5" fill="none" stroke="#1e1e1e" stroke-opacity="0.3" stroke-width="1.2"/>
<ellipse cx="701.2" cy="1025.1" rx="4.6" ry="6.8999999999999995" fill="#7a7a7a"/>
<ellipse cx="701.2" cy="1025.1" rx="4.6" ry="6.8999999999999995" fill="url(#phl)"/>
<ellipse cx="733.2" cy="1085.1" rx="8.0" ry="8.0" fill="none" stroke="#1e1e1e" stroke-opacity="0.3" stroke-width="1.2"/>
<ellipse cx="733.2" cy="1085.1" rx="7.359999999999999" ry="7.359999999999999" fill="#7a7a7a"/>
<ellipse cx="733.2" cy="1085.1" rx="7.359999999999999" ry="7.359999999999999" fill="url(#phl)"/>
<ellipse cx="733.2" cy="1085.1" rx="6.5" ry="6.5" fill="none" stroke="#fff" stroke-opacity="0.12" stroke-width="1.5"/>
<circle cx="730.3" cy="1087.3" r="2.2" fill="#fff" fill-opacity="0.08"/>
<circle cx="734.3" cy="1088.3" r="2.2" fill="#fff" fill-opacity="0.08"/>
<circle cx="735.5" cy="1086.0" r="2.2" fill="#fff" fill-opacity="0.08"/>
<ellipse cx="882" cy="981.9" rx="5.2" ry="5.2" fill="none" stroke="#1e1e1e" stroke-opacity="0.3" stroke-width="1.2"/>
<ellipse cx="882" cy="981.9" rx="4.6" ry="4.6" fill="#7a7a7a"/>
<ellipse cx="882" cy="981.9" rx="4.6" ry="4.6" fill="url(#phl)"/>
<ellipse cx="1016.5" cy="1010.7" rx="6.3" ry="7.5" fill="none" stroke="#1e1e1e" stroke-opacity="0.3" stroke-width="1.2"/>
<ellipse cx="1016.5" cy="1010.7" rx="5.75" ry="6.8999999999999995" fill="#7a7a7a"/>
<ellipse cx="1016.5" cy="1010.7" rx="5.75" ry="6.8999999999999995" fill="url(#phl)"/>
<ellipse cx="1016.5" cy="1010.7" rx="5.1" ry="6.1" fill="none" stroke="#fff" stroke-opacity="0.12" stroke-width="1.5"/>
<circle cx="1017.6" cy="1008.0" r="1.7" fill="#fff" fill-opacity="0.08"/>
<circle cx="1015.0" cy="1012.2" r="1.7" fill="#fff" fill-opacity="0.08"/>
<circle cx="1016.0" cy="1008.0" r="1.7" fill="#fff" fill-opacity="0.08"/>
<ellipse cx="758.1" cy="1117.8" rx="6.3" ry="6.3" fill="none" stroke="#1e1e1e" stroke-opacity="0.3" stroke-width="1.2"/>
<ellipse cx="758.1" cy="1117.8" rx="5.75" ry="5.75" fill="#7a7a7a"/>
<ellipse cx="758.1" cy="1117.8" rx="5.75" ry="5.75" fill="url(#phl)"/>
<ellipse cx="758.1" cy="1117.8" rx="5.1" ry="5.1" fill="none" stroke="#fff" stroke-opacity="0.12" stroke-width="1.5"/>
<circle cx="758.1" cy="1115.9" r="1.7" fill="#fff" fill-opacity="0.08"/>
<circle cx="758.1" cy="1120.0" r="1.7" fill="#fff" fill-opacity="0.08"/>
<circle cx="756.4" cy="1117.1" r="1.7" fill="#fff" fill-opacity="0.08"/>
<ellipse cx="712.4" cy="1248.4" rx="7.5" ry="5.2" fill="none" stroke="#1e1e1e" stroke-opacity="0.3" stroke-width="1.2"/>
<ellipse cx="712.4" cy="1248.4" rx="6.8999999999999995" ry="4.6" fill="#7a7a7a"/>
<ellipse cx="712.4" cy="1248.4" rx="6.8999999999999995" ry="4.6" fill="url(#phl)"/>
<ellipse cx="712.4" cy="1248.4" rx="6.1" ry="4.0" fill="none" stroke="#fff" stroke-opacity="0.12" stroke-width="1.5"/>
<circle cx="713.5" cy="1248.3" r="1.4" fill="#fff" fill-opacity="0.08"/>
<circle cx="712.7" cy="1247.4" r="1.4" fill="#fff" fill-opacity="0.08"/>
<circle cx="711.9" cy="1246.2" r="1.4" fill="#fff" fill-opacity="0.08"/>
<ellipse cx="862.8" cy="1164.3" rx="8.0" ry="8.0" fill="none" stroke="#1e1e1e" stroke-opacity="0.3" stroke-width="1.2"/>
<ellipse cx="862.8" cy="1164.3" rx="7.359999999999999" ry="7.359999999999999" fill="#7a7a7a"/>
<ellipse cx="862.8" cy="1164.3" rx="7.359999999999999" ry="7.359999999999999" fill="url(#phl)"/>
<ellipse cx="862.8" cy="1164.3" rx="6.5" ry="6.5" fill="none" stroke="#fff" stroke-opacity="0.12" stroke-width="1.5"/>
<circle cx="862.4" cy="1166.7" r="2.2" fill="#fff" fill-opacity="0.08"/>
<circle cx="860.6" cy="1163.9" r="2.2" fill="#fff" fill-opacity="0.08"/>
<circle cx="864.1" cy="1166.5" r="2.2" fill="#fff" fill-opacity="0.08"/>
<ellipse cx="902.8" cy="1249" rx="6.3" ry="4.0" fill="none" stroke="#1e1e1e" stroke-opacity="0.3" stroke-width="1.2"/>
<ellipse cx="902.8" cy="1249" rx="5.75" ry="3.4499999999999997" fill="#828282"/>
<ellipse cx="902.8" cy="1249" rx="5.75" ry="3.4499999999999997" fill="url(#phl)"/>
<ellipse cx="902.8" cy="1249" rx="5.1" ry="3.0" fill="none" stroke="#fff" stroke-opacity="0.12" stroke-width="1.5"/>
<circle cx="904.4" cy="1248.2" r="1.0" fill="#fff" fill-opacity="0.08"/>
<circle cx="902.2" cy="1250.4" r="1.0" fill="#fff" fill-opacity="0.08"/>
<circle cx="902.0" cy="1249.3" r="1.0" fill="#fff" fill-opacity="0.08"/>
<ellipse cx="855" cy="972.2" rx="8.0" ry="8.0" fill="none" stroke="#1e1e1e" stroke-opacity="0.3" stroke-width="1.2"/>
<ellipse cx="855" cy="972.2" rx="7.3500000000000005" ry="7.3500000000000005" fill="#898989"/>
<ellipse cx="855" cy="972.2" rx="7.3500000000000005" ry="7.3500000000000005" fill="url(#phl)"/>
<ellipse cx="855" cy="972.2" rx="6.5" ry="6.5" fill="none" stroke="#fff" stroke-opacity="0.12" stroke-width="1.5"/>
<circle cx="853.4" cy="970.9" r="2.2" fill="#fff" fill-opacity="0.08"/>
<circle cx="851.4" cy="971.5" r="2.2" fill="#fff" fill-opacity="0.08"/>
<circle cx="851.8" cy="970.7" r="2.2" fill="#fff" fill-opacity="0.08"/>
<ellipse cx="714" cy="1089.2" rx="5.8" ry="5.8" fill="none" stroke="#1e1e1e" stroke-opacity="0.3" stroke-width="1.2"/>
<ellipse cx="714" cy="1089.2" rx="5.25" ry="5.25" fill="#898989"/>
<ellipse cx="714" cy="1089.2" rx="5.25" ry="5.25" fill="url(#phl)"/>
<ellipse cx="714" cy="1089.2" rx="4.6" ry="4.6" fill="none" stroke="#fff" stroke-opacity="0.12" stroke-width="1.5"/>
<circle cx="712.7" cy="1090.9" r="1.6" fill="#fff" fill-opacity="0.08"/>
<circle cx="715.0" cy="1089.7" r="1.6" fill="#fff" fill-opacity="0.08"/>
<circle cx="713.3" cy="1087.4" r="1.6" fill="#fff" fill-opacity="0.08"/>
<ellipse cx="860.4" cy="970.6" rx="5.8" ry="8.0" fill="none" stroke="#1e1e1e" stroke-opacity="0.3" stroke-width="1.2"/>
<ellipse cx="860.4" cy="970.6" rx="5.25" ry="7.3500000000000005" fill="#898989"/>
<ellipse cx="860.4" cy="970.6" rx="5.25" ry="7.3500000000000005" fill="url(#phl)"/>
<ellipse cx="860.4" cy="970.6" rx="4.6" ry="6.5" fill="none" stroke="#fff" stroke-opacity="0.12" stroke-width="1.5"/>
<circle cx="861.0" cy="969.0" r="1.6" fill="#fff" fill-opacity="0.08"/>
<circle cx="860.2" cy="972.4" r="1.6" fill="#fff" fill-opacity="0.08"/>
<circle cx="859.8" cy="970.4" r="1.6" fill="#fff" fill-opacity="0.08"/>
<ellipse cx="924.5" cy="1045.1" rx="6.9" ry="6.9" fill="none" stroke="#1e1e1e" stroke-opacity="0.3" stroke-width="1.2"/>
<ellipse cx="924.5" cy="1045.1" rx="6.300000000000001" ry="6.300000000000001" fill="#898989"/>
<ellipse cx="924.5" cy="1045.1" rx="6.300000000000001" ry="6.300000000000001" fill="url(#phl)"/>
<ellipse cx="924.5" cy="1045.1" rx="5.5" ry="5.5" fill="none" stroke="#fff" stroke-opacity="0.12" stroke-width="1.5"/>
<circle cx="922.9" cy="1046.7" r="1.9" fill="#fff" fill-opacity="0.08"/>
<circle cx="925.3" cy="1046.2" r="1.9" fill="#fff" fill-opacity="0.08"/>
<circle cx="926.6" cy="1043.0" r="1.9" fill="#fff" fill-opacity="0.08"/>
<ellipse cx="904.4" cy="1146.7" rx="5.8" ry="5.8" fill="none" stroke="#1e1e1e" stroke-opacity="0.3" stroke-width="1.2"/>
<ellipse cx="904.4" cy="1146.7" rx="5.25" ry="5.25" fill="#898989"/>
<ellipse cx="904.4" cy="1146.7" rx="5.25" ry="5.25" fill="url(#phl)"/>
<ellipse cx="904.4" cy="1146.7" rx="4.6" ry="4.6" fill="none" stroke="#fff" stroke-opacity="0.12" stroke-width="1.5"/>
<circle cx="904.4" cy="1147.6" r="1.6" fill="#fff" fill-opacity="0.08"/>
<circle cx="904.9" cy="1147.2" r="1.6" fill="#fff" fill-opacity="0.08"/>
<circle cx="905.0" cy="1144.7" r="1.6" fill="#fff" fill-opacity="0.08"/>
<ellipse cx="968.5" cy="997.1" rx="8.5" ry="10.1" fill="none" stroke="#1e1e1e" stroke-opacity="0.3" stroke-width="1.2"/>
<ellipse cx="968.5" cy="997.1" rx="7.875" ry="9.450000000000001" fill="#919191"/>
<ellipse cx="968.5" cy="997.1" rx="7.875" ry="9.450000000000001" fill="url(#phl)"/>
<ellipse cx="968.5" cy="997.1" rx="6.9" ry="8.3" fill="none" stroke="#fff" stroke-opacity="0.12" stroke-width="1.5"/>
<circle cx="968.3" cy="999.9" r="2.4" fill="#fff" fill-opacity="0.08"/>
<circle cx="968.2" cy="996.1" r="2.4" fill="#fff" fill-opacity="0.08"/>
<circle cx="970.0" cy="993.3" r="2.4" fill="#fff" fill-opacity="0.08"/>
<ellipse cx="805.3" cy="1095.4" rx="7.3" ry="7.3" fill="none" stroke="#1e1e1e" stroke-opacity="0.3" stroke-width="1.2"/>
<ellipse cx="805.3" cy="1095.4" rx="6.720000000000001" ry="6.720000000000001" fill="#919191"/>
<ellipse cx="805.3" cy="1095.4" rx="6.720000000000001" ry="6.720000000000001" fill="url(#phl)"/>
<ellipse cx="805.3" cy="1095.4" rx="5.9" ry="5.9" fill="none" stroke="#fff" stroke-opacity="0.12" stroke-width="1.5"/>
<circle cx="805.9" cy="1097.9" r="2.0" fill="#fff" fill-opacity="0.08"/>
<circle cx="804.8" cy="1093.9" r="2.0" fill="#fff" fill-opacity="0.08"/>
<circle cx="806.2" cy="1094.5" r="2.0" fill="#fff" fill-opacity="0.08"/>
<ellipse cx="787.7" cy="983.5" rx="7.3" ry="7.3" fill="none" stroke="#1e1e1e" stroke-opacity="0.3" stroke-width="1.2"/>
<ellipse cx="787.7" cy="983.5" rx="6.720000000000001" ry="6.720000000000001" fill="#9a9a9a"/>
<ellipse cx="787.7" cy="983.5" rx="6.720000000000001" ry="6.720000000000001" fill="url(#phl)"/>
<ellipse cx="787.7" cy="983.5" rx="5.9" ry="5.9" fill="none" stroke="#fff" stroke-opacity="0.12" stroke-width="1.5"/>
<circle cx="786.2" cy="983.7" r="2.0" fill="#fff" fill-opacity="0.08"/>
<circle cx="785.0" cy="984.5" r="2.0" fill="#fff" fill-opacity="0.08"/>
<circle cx="785.6" cy="982.5" r="2.0" fill="#fff" fill-opacity="0.08"/>
<ellipse cx="775.7" cy="983.5" rx="8.7" ry="8.5" fill="none" stroke="#1e1e1e" stroke-opacity="0.3" stroke-width="1.2"/>
<ellipse cx="775.7" cy="983.5" rx="8.085" ry="7.875" fill="#9a9a9a"/>
<ellipse cx="775.7" cy="983.5" rx="8.085" ry="7.875" fill="url(#phl)"/>
<ellipse cx="775.7" cy="983.5" rx="7.1" ry="6.9" fill="none" stroke="#fff" stroke-opacity="0.12" stroke-width="1.5"/>
<circle cx="777.2" cy="983.4" r="2.4" fill="#fff" fill-opacity="0.08"/>
<circle cx="776.2" cy="986.2" r="2.4" fill="#fff" fill-opacity="0.08"/>
<circle cx="778.0" cy="986.6" r="2.4" fill="#fff" fill-opacity="0.08"/>
<ellipse cx="837.3" cy="1009.1" rx="9.8" ry="9.5" fill="none" stroke="#1e1e1e" stroke-opacity="0.3" stroke-width="1.2"/>
<ellipse cx="837.3" cy="1009.1" rx="9.240000000000002" ry="8.925" fill="#9a9a9a"/>
<ellipse cx="837.3" cy="1009.1" rx="9.240000000000002" ry="8.925" fill="url(#phl)"/>
<ellipse cx="837.3" cy="1009.1" rx="8.1" ry="7.9" fill="none" stroke="#fff" stroke-opacity="0.12" stroke-width="1.5"/>
<circle cx="835.9" cy="1011.2" r="2.7" fill="#fff" fill-opacity="0.08"/>
<circle cx="833.7" cy="1010.7" r="2.7" fill="#fff" fill-opacity="0.08"/>
<circle cx="840.3" cy="1007.4" r="2.7" fill="#fff" fill-opacity="0.08"/>
<ellipse cx="873.2" cy="994.7" rx="9.8" ry="9.0" fill="none" stroke="#1e1e1e" stroke-opacity="0.3" stroke-width="1.2"/>
<ellipse cx="873.2" cy="994.7" rx="9.240000000000002" ry="8.4" fill="#9a9a9a"/>
<ellipse cx="873.2" cy="994.7" rx="9.240000000000002" ry="8.4" fill="url(#phl)"/>
<ellipse cx="873.2" cy="994.7" rx="8.1" ry="7.4" fill="none" stroke="#fff" stroke-opacity="0.12" stroke-width="1.5"/>
<circle cx="874.3" cy="996.5" r="2.5" fill="#fff" fill-opacity="0.08"/>
<circle cx="872.7" cy="993.2" r="2.5" fill="#fff" fill-opacity="0.08"/>
<circle cx="876.3" cy="992.2" r="2.5" fill="#fff" fill-opacity="0.08"/>
<ellipse cx="851" cy="1178.7" rx="8.2" ry="8.2" fill="none" stroke="#1e1e1e" stroke-opacity="0.3" stroke-width="1.2"/>
<ellipse cx="851" cy="1178.7" rx="7.5600000000000005" ry="7.5600000000000005" fill="#9a9a9a"/>
<ellipse cx="851" cy="1178.7" rx="7.5600000000000005" ry="7.5600000000000005" fill="url(#phl)"/>
<ellipse cx="851" cy="1178.7" rx="6.7" ry="6.7" fill="none" stroke="#fff" stroke-opacity="0.12" stroke-width="1.5"/>
<circle cx="851.3" cy="1180.5" r="2.3" fill="#fff" fill-opacity="0.08"/>
<circle cx="851.4" cy="1181.6" r="2.3" fill="#fff" fill-opacity="0.08"/>
<circle cx="853.7" cy="1179.5" r="2.3" fill="#fff" fill-opacity="0.08"/>
<ellipse cx="1012.5" cy="1131.4" rx="8.2" ry="8.2" fill="none" stroke="#1e1e1e" stroke-opacity="0.3" stroke-width="1.2"/>
<ellipse cx="1012.5" cy="1131.4" rx="7.5600000000000005" ry="7.5600000000000005" fill="#9a9a9a"/>
<ellipse cx="1012.5" cy="1131.4" rx="7.5600000000000005" ry="7.5600000000000005" fill="url(#phl)"/>
<ellipse cx="1012.5" cy="1131.4" rx="6.7" ry="6.7" fill="none" stroke="#fff" stroke-opacity="0.12" stroke-width="1.5"/>
<circle cx="1015.5" cy="1132.7" r="2.3" fill="#fff" fill-opacity="0.08"/>
<circle cx="1010.1" cy="1130.7" r="2.3" fill="#fff" fill-opacity="0.08"/>
<circle cx="1013.2" cy="1131.9" r="2.3" fill="#fff" fill-opacity="0.08"/>
<ellipse cx="911.7" cy="1003.5" rx="9.3" ry="8.5" fill="none" stroke="#1e1e1e" stroke-opacity="0.3" stroke-width="1.2"/>
<ellipse cx="911.7" cy="1003.5" rx="8.715000000000002" ry="7.875" fill="#a2a2a2"/>
<ellipse cx="911.7" cy="1003.5" rx="8.715000000000002" ry="7.875" fill="url(#phl)"/>
<ellipse cx="911.7" cy="1003.5" rx="7.7" ry="6.9" fill="none" stroke="#fff" stroke-opacity="0.12" stroke-width="1.5"/>
<circle cx="909.1" cy="1006.6" r="2.4" fill="#fff" fill-opacity="0.08"/>
<circle cx="908.6" cy="1001.4" r="2.4" fill="#fff" fill-opacity="0.08"/>
<circle cx="912.8" cy="1003.9" r="2.4" fill="#fff" fill-opacity="0.08"/>
<ellipse cx="934.9" cy="990.7" rx="9.3" ry="9.0" fill="none" stroke="#1e1e1e" stroke-opacity="0.3" stroke-width="1.2"/>
<ellipse cx="934.9" cy="990.7" rx="8.715000000000002" ry="8.4" fill="#a2a2a2"/>
<ellipse cx="934.9" cy="990.7" rx="8.715000000000002" ry="8.4" fill="url(#phl)"/>
<ellipse cx="934.9" cy="990.7" rx="7.7" ry="7.4" fill="none" stroke="#fff" stroke-opacity="0.12" stroke-width="1.5"/>
<circle cx="938.2" cy="991.1" r="2.5" fill="#fff" fill-opacity="0.08"/>
<circle cx="935.7" cy="992.3" r="2.5" fill="#fff" fill-opacity="0.08"/>
<circle cx="933.3" cy="987.9" r="2.5" fill="#fff" fill-opacity="0.08"/>
<ellipse cx="973.3" cy="1079.5" rx="8.2" ry="8.2" fill="none" stroke="#1e1e1e" stroke-opacity="0.3" stroke-width="1.2"/>
<ellipse cx="973.3" cy="1079.5" rx="7.5600000000000005" ry="7.5600000000000005" fill="#a2a2a2"/>
<ellipse cx="973.3" cy="1079.5" rx="7.5600000000000005" ry="7.5600000000000005" fill="url(#phl)"/>
<ellipse cx="973.3" cy="1079.5" rx="6.7" ry="6.7" fill="none" stroke="#fff" stroke-opacity="0.12" stroke-width="1.5"/>
<circle cx="972.3" cy="1081.4" r="2.3" fill="#fff" fill-opacity="0.08"/>
<circle cx="972.7" cy="1081.9" r="2.3" fill="#fff" fill-opacity="0.08"/>
<circle cx="972.2" cy="1081.0" r="2.3" fill="#fff" fill-opacity="0.08"/>
<ellipse cx="794.1" cy="1143.5" rx="14.2" ry="11.6" fill="none" stroke="#1e1e1e" stroke-opacity="0.3" stroke-width="1.2"/>
<ellipse cx="794.1" cy="1143.5" rx="13.65" ry="11.025" fill="#a2a2a2"/>
<ellipse cx="794.1" cy="1143.5" rx="13.65" ry="11.025" fill="url(#phl)"/>
<ellipse cx="794.1" cy="1143.5" rx="12.0" ry="9.7" fill="none" stroke="#fff" stroke-opacity="0.12" stroke-width="1.5"/>
<circle cx="794.1" cy="1145.9" r="3.3" fill="#fff" fill-opacity="0.08"/>
<circle cx="794.0" cy="1144.7" r="3.3" fill="#fff" fill-opacity="0.08"/>
<circle cx="792.4" cy="1146.9" r="3.3" fill="#fff" fill-opacity="0.08"/>
<ellipse cx="806.9" cy="1089.2" rx="5.8" ry="5.8" fill="none" stroke="#1e1e1e" stroke-opacity="0.3" stroke-width="1.2"/>
<ellipse cx="806.9" cy="1089.2" rx="5.25" ry="5.25" fill="#ababab"/>
<ellipse cx="806.9" cy="1089.2" rx="5.25" ry="5.25" fill="url(#phl)"/>
<ellipse cx="806.9" cy="1089.2" rx="4.6" ry="4.6" fill="none" stroke="#fff" stroke-opacity="0.12" stroke-width="1.5"/>
<circle cx="806.8" cy="1090.0" r="1.6" fill="#fff" fill-opacity="0.08"/>
<circle cx="807.8" cy="1088.0" r="1.6" fill="#fff" fill-opacity="0.08"/>
<circle cx="805.7" cy="1089.1" r="1.6" fill="#fff" fill-opacity="0.08"/>
<ellipse cx="979.7" cy="1089" rx="7.3" ry="7.3" fill="none" stroke="#1e1e1e" stroke-opacity="0.3" stroke-width="1.2"/>
<ellipse cx="979.7" cy="1089" rx="6.720000000000001" ry="6.720000000000001" fill="#ababab"/>
<ellipse cx="979.7" cy="1089" rx="6.720000000000001" ry="6.720000000000001" fill="url(#phl)"/>
<ellipse cx="979.7" cy="1089" rx="5.9" ry="5.9" fill="none" stroke="#fff" stroke-opacity="0.12" stroke-width="1.5"/>
<circle cx="981.7" cy="1087.2" r="2.0" fill="#fff" fill-opacity="0.08"/>
<circle cx="977.9" cy="1087.3" r="2.0" fill="#fff" fill-opacity="0.08"/>
<circle cx="979.0" cy="1087.1" r="2.0" fill="#fff" fill-opacity="0.08"/>
<ellipse cx="806.9" cy="1025.1" rx="9.0" ry="8.5" fill="none" stroke="#1e1e1e" stroke-opacity="0.3" stroke-width="1.2"/>
<ellipse cx="806.9" cy="1025.1" rx="8.4" ry="7.875" fill="#b4b4b4"/>
<ellipse cx="806.9" cy="1025.1" rx="8.4" ry="7.875" fill="url(#phl)"/>
<ellipse cx="806.9" cy="1025.1" rx="7.4" ry="6.9" fill="none" stroke="#fff" stroke-opacity="0.12" stroke-width="1.5"/>
<circle cx="805.1" cy="1026.1" r="2.4" fill="#fff" fill-opacity="0.08"/>
<circle cx="804.5" cy="1025.0" r="2.4" fill="#fff" fill-opacity="0.08"/>
<circle cx="804.3" cy="1024.7" r="2.4" fill="#fff" fill-opacity="0.08"/>
<ellipse cx="707.6" cy="1038.7" rx="7.6" ry="7.6" fill="none" stroke="#1e1e1e" stroke-opacity="0.3" stroke-width="1.2"/>
<ellipse cx="707.6" cy="1038.7" rx="7.035" ry="7.035" fill="#b4b4b4"/>
<ellipse cx="707.6" cy="1038.7" rx="7.035" ry="7.035" fill="url(#phl)"/>
<ellipse cx="707.6" cy="1038.7" rx="6.2" ry="6.2" fill="none" stroke="#fff" stroke-opacity="0.12" stroke-width="1.5"/>
<circle cx="708.4" cy="1035.6" r="2.1" fill="#fff" fill-opacity="0.08"/>
<circle cx="707.7" cy="1039.5" r="2.1" fill="#fff" fill-opacity="0.08"/>
<circle cx="707.4" cy="1039.5" r="2.1" fill="#fff" fill-opacity="0.08"/>
<ellipse cx="894" cy="985.1" rx="7.6" ry="7.6" fill="none" stroke="#1e1e1e" stroke-opacity="0.3" stroke-width="1.2"/>
<ellipse cx="894" cy="985.1" rx="7.035" ry="7.035" fill="#b4b4b4"/>
<ellipse cx="894" cy="985.1" rx="7.035" ry="7.035" fill="url(#phl)"/>
<ellipse cx="894" cy="985.1" rx="6.2" ry="6.2" fill="none" stroke="#fff" stroke-opacity="0.12" stroke-width="1.5"/>
<circle cx="894.7" cy="982.8" r="2.1" fill="#fff" fill-opacity="0.08"/>
<circle cx="893.7" cy="986.3" r="2.1" fill="#fff" fill-opacity="0.08"/>
<circle cx="896.1" cy="982.9" r="2.1" fill="#fff" fill-opacity="0.08"/>
<ellipse cx="992.5" cy="1010.7" rx="10.4" ry="9.8" fill="none" stroke="#1e1e1e" stroke-opacity="0.3" stroke-width="1.2"/>
<ellipse cx="992.5" cy="1010.7" rx="9.765" ry="9.240000000000002" fill="#b4b4b4"/>
<ellipse cx="992.5" cy="1010.7" rx="9.765" ry="9.240000000000002" fill="url(#phl)"/>
<ellipse cx="992.5" cy="1010.7" rx="8.6" ry="8.1" fill="none" stroke="#fff" stroke-opacity="0.12" stroke-width="1.5"/>
<circle cx="991.0" cy="1007.5" r="2.8" fill="#fff" fill-opacity="0.08"/>
<circle cx="992.4" cy="1008.1" r="2.8" fill="#fff" fill-opacity="0.08"/>
<circle cx="990.0" cy="1012.5" r="2.8" fill="#fff" fill-opacity="0.08"/>
<ellipse cx="896.4" cy="1173.1" rx="7.3" ry="7.3" fill="none" stroke="#1e1e1e" stroke-opacity="0.3" stroke-width="1.2"/>
<ellipse cx="896.4" cy="1173.1" rx="6.720000000000001" ry="6.720000000000001" fill="#b4b4b4"/>
<ellipse cx="896.4" cy="1173.1" rx="6.720000000000001" ry="6.720000000000001" fill="url(#phl)"/>
<ellipse cx="896.4" cy="1173.1" rx="5.9" ry="5.9" fill="none" stroke="#fff" stroke-opacity="0.12" stroke-width="1.5"/>
<circle cx="898.8" cy="1170.8" r="2.0" fill="#fff" fill-opacity="0.08"/>
<circle cx="898.9" cy="1171.6" r="2.0" fill="#fff" fill-opacity="0.08"/>
<circle cx="897.6" cy="1173.7" r="2.0" fill="#fff" fill-opacity="0.08"/>
<ellipse cx="799.2" cy="979.4" rx="7.6" ry="7.6" fill="none" stroke="#1e1e1e" stroke-opacity="0.3" stroke-width="1.2"/>
<ellipse cx="799.2" cy="979.4" rx="7.035" ry="7.035" fill="#bebebe"/>
<ellipse cx="799.2" cy="979.4" rx="7.035" ry="7.035" fill="url(#phl)"/>
<ellipse cx="799.2" cy="979.4" rx="6.2" ry="6.2" fill="none" stroke="#fff" stroke-opacity="0.12" stroke-width="1.5"/>
<circle cx="801.4" cy="979.0" r="2.1" fill="#fff" fill-opacity="0.08"/>
<circle cx="797.6" cy="979.3" r="2.1" fill="#fff" fill-opacity="0.08"/>
<circle cx="800.6" cy="977.8" r="2.1" fill="#fff" fill-opacity="0.08"/>
<ellipse cx="1009.3" cy="1049.1" rx="8.2" ry="8.2" fill="none" stroke="#1e1e1e" stroke-opacity="0.3" stroke-width="1.2"/>
<ellipse cx="1009.3" cy="1049.1" rx="7.5600000000000005" ry="7.5600000000000005" fill="#bebebe"/>
<ellipse cx="1009.3" cy="1049.1" rx="7.5600000000000005" ry="7.5600000000000005" fill="url(#phl)"/>
<ellipse cx="1009.3" cy="1049.1" rx="6.7" ry="6.7" fill="none" stroke="#fff" stroke-opacity="0.12" stroke-width="1.5"/>
<circle cx="1010.3" cy="1049.0" r="2.3" fill="#fff" fill-opacity="0.08"/>
<circle cx="1010.1" cy="1049.1" r="2.3" fill="#fff" fill-opacity="0.08"/>
<circle cx="1010.5" cy="1050.7" r="2.3" fill="#fff" fill-opacity="0.08"/>
<ellipse cx="851" cy="1159.5" rx="7.3" ry="7.3" fill="none" stroke="#1e1e1e" stroke-opacity="0.3" stroke-width="1.2"/>
<ellipse cx="851" cy="1159.5" rx="6.720000000000001" ry="6.720000000000001" fill="#bebebe"/>
<ellipse cx="851" cy="1159.5" rx="6.720000000000001" ry="6.720000000000001" fill="url(#phl)"/>
<ellipse cx="851" cy="1159.5" rx="5.9" ry="5.9" fill="none" stroke="#fff" stroke-opacity="0.12" stroke-width="1.5"/>
<circle cx="850.4" cy="1158.8" r="2.0" fill="#fff" fill-opacity="0.08"/>
<circle cx="848.0" cy="1158.3" r="2.0" fill="#fff" fill-opacity="0.08"/>
<circle cx="848.5" cy="1160.6" r="2.0" fill="#fff" fill-opacity="0.08"/>
<ellipse cx="792.2" cy="957" rx="8.2" ry="8.0" fill="none" stroke="#1e1e1e" stroke-opacity="0.3" stroke-width="1.2"/>
<ellipse cx="792.2" cy="957" rx="7.5600000000000005" ry="7.3500000000000005" fill="#c8c8c8"/>
<ellipse cx="792.2" cy="957" rx="7.5600000000000005" ry="7.3500000000000005" fill="url(#phl)"/>
<ellipse cx="792.2" cy="957" rx="6.7" ry="6.5" fill="none" stroke="#fff" stroke-opacity="0.12" stroke-width="1.5"/>
<circle cx="790.1" cy="955.7" r="2.2" fill="#fff" fill-opacity="0.08"/>
<circle cx="793.2" cy="958.9" r="2.2" fill="#fff" fill-opacity="0.08"/>
<circle cx="794.5" cy="955.4" r="2.2" fill="#fff" fill-opacity="0.08"/>
<ellipse cx="838.9" cy="1057.1" rx="8.2" ry="8.2" fill="none" stroke="#1e1e1e" stroke-opacity="0.3" stroke-width="1.2"/>
<ellipse cx="838.9" cy="1057.1" rx="7.5600000000000005" ry="7.5600000000000005" fill="#d2d2d2"/>
<ellipse cx="838.9" cy="1057.1" rx="7.5600000000000005" ry="7.5600000000000005" fill="url(#phl)"/>
<ellipse cx="838.9" cy="1057.1" rx="6.7" ry="6.7" fill="none" stroke="#fff" stroke-opacity="0.12" stroke-width="1.5"/>
<circle cx="839.3" cy="1059.2" r="2.3" fill="#fff" fill-opacity="0.08"/>
<circle cx="837.2" cy="1056.6" r="2.3" fill="#fff" fill-opacity="0.08"/>
<circle cx="836.5" cy="1055.8" r="2.3" fill="#fff" fill-opacity="0.08"/>
<ellipse cx="984.5" cy="1050.7" rx="8.2" ry="8.2" fill="none" stroke="#1e1e1e" stroke-opacity="0.3" stroke-width="1.2"/>
<ellipse cx="984.5" cy="1050.7" rx="7.5600000000000005" ry="7.5600000000000005" fill="#d2d2d2"/>
<ellipse cx="984.5" cy="1050.7" rx="7.5600000000000005" ry="7.5600000000000005" fill="url(#phl)"/>
<ellipse cx="984.5" cy="1050.7" rx="6.7" ry="6.7" fill="none" stroke="#fff" stroke-opacity="0.12" stroke-width="1.5"/>
<circle cx="985.9" cy="1050.9" r="2.3" fill="#fff" fill-opacity="0.08"/>
<circle cx="983.7" cy="1049.5" r="2.3" fill="#fff" fill-opacity="0.08"/>
<circle cx="987.2" cy="1052.1" r="2.3" fill="#fff" fill-opacity="0.08"/>
</g>
<rect x="699" y="929.5" width="322.7" height="321.5" filter="url(#noise)" opacity="0.45" style="mix-blend-mode:overlay"/>
</g>
<text x="18.5" y="965.7" font-size="36" font-weight="bold" fill="#fff">C</text>
<text x="26.7" y="1225.4" font-size="26" fill="#fff" stroke="#fff" stroke-width="0.7">5.7x10<tspan font-size="20" dx="1" dy="-9.5">5</tspan></text>
<text x="371.3" y="1225.4" font-size="26" fill="#fff" stroke="#fff" stroke-width="0.7">5.7x10<tspan font-size="20" dx="1" dy="-9.5">6</tspan></text>
<text x="715.8" y="1225.4" font-size="26" fill="#fff" stroke="#fff" stroke-width="0.7">5.7x10<tspan font-size="20" dx="1" dy="-9.5">7</tspan></text>
<rect x="938" y="1229" width="52.3" height="7.8" fill="#fff"/>
<text x="922" y="1215.6" font-size="34" font-weight="bold" fill="#fff">1</text>
<text x="952.5" y="1215.6" font-size="40" fill="#fff" font-family="Liberation Serif, serif">μ</text>
<text x="974" y="1215.6" font-size="34" font-weight="bold" fill="#fff">m</text>
</g>
</svg>
</body></html>
